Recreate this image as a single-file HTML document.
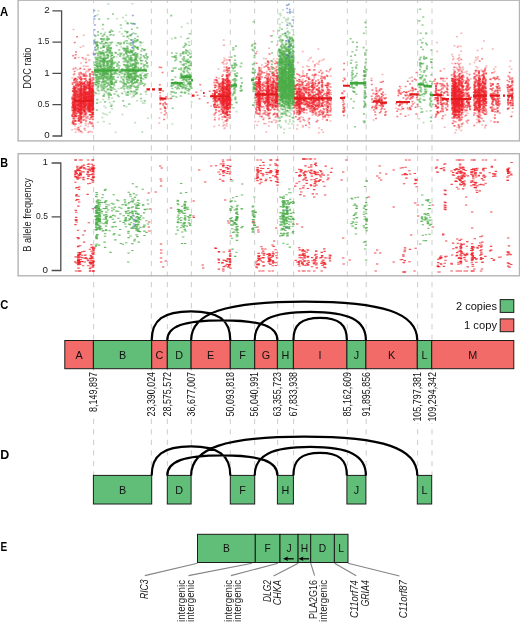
<!DOCTYPE html><html><head><meta charset="utf-8"><title>Figure</title><style>html,body{margin:0;padding:0;background:#fff}svg{display:block}text{font-family:"Liberation Sans",sans-serif}</style></head><body>
<svg width="520" height="622" viewBox="0 0 520 622">
<rect width="520" height="622" fill="#fff"/>
<path d="M93.6 -2.0V475.4M151.4 -2.0V475.4M167.4 -2.0V475.4M191.4 -2.0V475.4M230.3 -2.0V475.4M254.6 -2.0V475.4M277.6 -2.0V475.4M293.6 -2.0V475.4M347.4 -2.0V475.4M366.2 -2.0V475.4M417.6 -2.0V475.4M432.0 -2.0V475.4" stroke="#d2d2d2" stroke-width="1.1" stroke-dasharray="5.1 5.42" fill="none"/>
<g fill="#fff" stroke="#b4b4b4" stroke-width="1.4">
<rect x="18.1" y="0.2" width="501.4" height="140.7" fill="none"/>
<rect x="18.1" y="153.7" width="501.4" height="122.1" fill="none"/>
</g>
<g id="docpts">
<path d="M76.3 90.8h1.9M79.0 84.9h1.9M79.0 84.1h1.9M72.7 93.1h1.9M80.7 117.4h1.9M80.8 113.6h1.9M77.9 92.7h1.9M73.2 81.6h1.9M72.4 94.5h1.9M74.8 114.4h1.9M72.2 109.9h1.9M77.8 95.5h1.9M78.7 102.8h1.9M79.3 101.5h1.9M71.2 108.4h1.9M80.5 82.0h1.9M80.0 63.0h1.9M78.9 109.2h1.9M76.1 96.1h1.9M79.8 89.1h1.9M76.3 85.1h1.9M77.7 57.5h1.9M80.3 101.6h1.9M78.4 105.5h1.9M79.4 103.4h1.9M80.4 93.4h1.9M77.9 73.9h1.9M71.4 77.9h1.9M78.2 120.6h1.9M78.8 77.9h1.9M80.3 88.6h1.9M72.1 118.8h1.9M72.9 101.0h1.9M74.7 100.5h1.9M76.0 118.4h1.9M80.2 99.5h1.9M71.8 121.7h1.9M79.5 110.6h1.9M78.4 115.4h1.9M78.3 86.2h1.9M72.6 114.1h1.9M77.8 108.8h1.9M78.1 98.4h1.9M78.9 68.9h1.9M72.5 105.2h1.9M76.6 108.5h1.9M76.6 128.2h1.9M79.2 113.3h1.9M72.1 103.0h1.9M72.3 106.5h1.9M75.2 87.2h1.9M79.0 91.4h1.9M73.6 99.2h1.9M80.3 79.5h1.9M73.2 109.0h1.9M78.6 123.5h1.9M72.2 103.1h1.9M78.2 72.8h1.9M73.6 105.7h1.9M79.5 88.6h1.9M72.6 100.5h1.9M80.3 101.2h1.9M72.9 112.6h1.9M78.1 99.5h1.9M80.7 90.5h1.9M78.7 108.4h1.9M76.3 129.8h1.9M72.8 113.3h1.9M75.3 116.0h1.9M71.5 103.5h1.9M74.5 81.7h1.9M76.5 110.7h1.9M73.7 114.3h1.9M77.5 99.6h1.9M77.9 118.2h1.9M76.1 81.6h1.9M90.5 88.8h1.9M89.0 104.7h1.9M85.2 102.3h1.9M86.3 100.4h1.9M84.5 94.5h1.9M91.6 100.9h1.9M90.1 86.0h1.9M84.7 99.3h1.9M91.6 105.2h1.9M85.1 115.4h1.9M84.4 105.7h1.9M86.7 54.9h1.9M82.1 92.5h1.9M87.6 87.7h1.9M90.7 109.6h1.9M84.9 78.0h1.9M91.4 123.0h1.9M91.4 126.3h1.9M83.0 111.7h1.9M88.4 94.6h1.9M89.9 104.2h1.9M87.0 94.6h1.9M87.6 106.6h1.9M85.1 87.6h1.9M85.1 99.8h1.9M86.2 97.2h1.9M91.0 119.1h1.9M85.1 79.8h1.9M84.6 94.8h1.9M87.3 132.4h1.9M82.3 101.1h1.9M85.3 66.2h1.9M86.2 101.5h1.9M85.0 100.0h1.9M91.3 124.3h1.9M91.3 91.5h1.9M83.2 76.1h1.9M83.0 84.3h1.9M84.3 114.3h1.9M82.8 35.2h1.9M92.1 53.6h1.9M85.0 59.7h1.9M85.0 104.8h1.9M87.0 100.2h1.9M87.5 55.3h1.9M88.9 91.8h1.9M83.8 100.4h1.9M81.3 104.5h1.9M84.8 117.6h1.9M85.0 120.8h1.9M85.7 85.1h1.9M85.1 103.7h1.9M85.3 75.2h1.9M84.4 93.7h1.9M81.3 105.3h1.9M86.6 97.5h1.9M85.1 58.4h1.9M91.1 108.6h1.9M91.0 95.8h1.9M87.1 118.2h1.9M84.8 104.8h1.9M91.8 103.6h1.9M85.0 62.8h1.9M86.7 66.2h1.9M81.7 76.0h1.9M82.4 46.0h1.9M89.3 131.6h1.9M86.5 100.1h1.9M84.6 73.8h1.9M85.3 120.1h1.9M85.3 99.7h1.9M91.0 93.1h1.9M91.0 122.4h1.9M87.0 106.0h1.9M91.2 71.6h1.9M85.3 112.7h1.9M91.2 91.6h1.9M84.7 86.6h1.9M87.4 69.3h1.9M89.2 78.4h1.9M84.9 85.1h1.9M91.3 112.6h1.9M84.6 108.6h1.9M81.9 100.6h1.9M86.4 98.4h1.9M87.1 81.9h1.9M92.3 86.9h1.9M82.7 88.8h1.9M83.6 128.3h1.9M84.3 112.6h1.9M85.8 116.6h1.9M86.8 92.0h1.9M88.4 85.4h1.9M83.1 98.3h1.9M85.1 79.1h1.9M84.7 101.5h1.9M92.3 79.4h1.9M91.1 118.1h1.9M84.1 87.6h1.9M87.2 126.5h1.9M88.6 122.4h1.9M81.5 103.9h1.9M91.3 78.0h1.9M88.8 76.0h1.9M91.4 72.2h1.9M83.6 100.3h1.9M158.5 117.9h1.9M160.3 112.7h1.9M200.1 90.5h1.9M218.2 99.4h1.9M218.2 118.3h1.9M218.2 93.8h1.9M213.3 126.6h1.9M218.5 111.7h1.9M218.1 125.3h1.9M218.1 78.4h1.9M213.8 114.6h1.9M215.3 96.2h1.9M215.6 90.6h1.9M219.4 110.8h1.9M217.6 68.9h1.9M217.3 89.6h1.9M212.8 114.4h1.9M213.4 115.2h1.9M215.1 110.6h1.9M223.6 107.8h1.9M225.7 125.9h1.9M225.2 59.8h1.9M223.4 58.2h1.9M223.5 60.3h1.9M228.3 68.0h1.9M223.1 105.0h1.9M227.2 72.1h1.9M225.9 94.9h1.9M227.1 107.5h1.9M223.4 128.5h1.9M227.9 94.0h1.9M223.2 61.0h1.9M228.4 81.4h1.9M227.8 100.2h1.9M226.2 97.0h1.9M225.7 120.6h1.9M224.3 70.9h1.9M228.5 117.4h1.9M226.4 115.0h1.9M223.1 79.2h1.9M223.0 106.5h1.9M226.2 94.9h1.9M226.0 123.8h1.9M222.8 82.6h1.9M224.3 125.0h1.9M222.8 79.1h1.9M223.3 117.1h1.9M229.0 116.5h1.9M226.7 74.4h1.9M221.8 91.9h1.9M225.6 102.6h1.9M221.4 119.6h1.9M222.8 40.1h1.9M225.5 112.8h1.9M228.7 102.4h1.9M226.5 102.4h1.9M223.3 115.2h1.9M229.0 117.9h1.9M227.1 86.9h1.9M222.9 87.0h1.9M223.0 124.8h1.9M226.0 59.9h1.9M228.8 98.1h1.9M223.2 94.3h1.9M225.3 112.9h1.9M223.8 128.0h1.9M222.9 102.8h1.9M222.6 122.4h1.9M223.4 112.3h1.9M225.7 99.6h1.9M226.3 110.3h1.9M226.2 75.0h1.9M226.4 107.6h1.9M229.3 100.6h1.9M225.9 109.0h1.9M224.5 99.7h1.9M227.7 98.9h1.9M227.2 85.2h1.9M227.7 87.5h1.9M222.0 95.9h1.9M229.3 80.4h1.9M222.8 71.2h1.9M221.5 87.1h1.9M221.8 99.2h1.9M226.3 103.5h1.9M228.1 95.1h1.9M223.9 87.9h1.9M222.8 64.1h1.9M222.1 125.9h1.9M221.2 99.0h1.9M223.2 107.5h1.9M223.9 95.3h1.9M254.6 43.8h1.9M256.9 81.5h1.9M262.6 99.2h1.9M260.3 116.4h1.9M262.7 118.1h1.9M261.2 71.9h1.9M264.4 83.8h1.9M264.6 123.7h1.9M258.7 104.1h1.9M254.3 121.5h1.9M258.1 106.3h1.9M258.2 107.4h1.9M260.4 92.6h1.9M264.6 77.9h1.9M262.4 113.3h1.9M260.0 72.5h1.9M254.8 112.1h1.9M256.0 51.4h1.9M258.3 86.3h1.9M255.9 112.0h1.9M260.9 106.6h1.9M262.9 58.4h1.9M262.1 106.7h1.9M256.2 125.2h1.9M261.8 85.5h1.9M262.2 82.8h1.9M258.6 88.6h1.9M257.1 77.0h1.9M263.0 102.6h1.9M264.9 112.5h1.9M257.0 88.2h1.9M264.0 103.4h1.9M264.7 112.1h1.9M255.3 87.2h1.9M257.9 95.8h1.9M257.7 91.3h1.9M261.2 73.1h1.9M258.3 110.0h1.9M264.9 97.2h1.9M276.9 79.7h1.9M275.9 73.6h1.9M267.7 118.7h1.9M267.0 112.7h1.9M267.9 103.0h1.9M269.1 71.6h1.9M266.8 112.0h1.9M268.3 121.7h1.9M272.2 67.6h1.9M276.1 90.7h1.9M276.3 58.8h1.9M275.8 63.6h1.9M267.3 76.4h1.9M267.6 67.9h1.9M272.6 114.3h1.9M268.1 48.3h1.9M276.5 121.4h1.9M268.3 88.8h1.9M268.3 101.2h1.9M276.2 94.0h1.9M270.5 96.2h1.9M265.2 72.6h1.9M274.7 122.5h1.9M268.6 74.4h1.9M276.0 98.6h1.9M276.5 103.5h1.9M267.8 63.1h1.9M274.5 105.2h1.9M272.7 59.0h1.9M271.5 72.4h1.9M275.6 91.6h1.9M272.5 85.7h1.9M270.7 90.6h1.9M265.9 71.6h1.9M275.9 100.8h1.9M268.2 53.9h1.9M267.8 89.2h1.9M266.2 79.2h1.9M272.6 91.2h1.9M272.3 88.4h1.9M275.7 72.0h1.9M268.5 118.3h1.9M267.5 107.8h1.9M275.3 94.7h1.9M275.5 72.6h1.9M272.2 75.9h1.9M267.7 102.0h1.9M268.1 73.9h1.9M276.8 76.9h1.9M275.4 83.1h1.9M268.3 102.5h1.9M270.1 83.1h1.9M267.6 96.4h1.9M268.1 74.4h1.9M268.5 91.4h1.9M309.6 81.5h1.9M301.8 99.8h1.9M302.4 93.2h1.9M308.6 124.2h1.9M308.8 58.4h1.9M302.0 66.9h1.9M301.0 95.1h1.9M307.4 81.6h1.9M307.8 87.4h1.9M310.4 89.8h1.9M305.4 93.6h1.9M304.3 100.8h1.9M311.5 104.4h1.9M295.2 97.5h1.9M294.5 91.1h1.9M312.0 111.6h1.9M301.5 93.0h1.9M309.3 99.5h1.9M301.9 125.7h1.9M301.6 80.9h1.9M297.0 92.8h1.9M299.5 77.2h1.9M307.7 119.3h1.9M301.5 84.0h1.9M299.9 96.6h1.9M300.8 108.8h1.9M307.4 84.2h1.9M310.9 86.1h1.9M301.8 51.5h1.9M310.2 57.5h1.9M301.4 81.4h1.9M301.2 110.0h1.9M294.2 86.0h1.9M308.2 89.2h1.9M307.6 105.6h1.9M299.4 89.5h1.9M304.4 109.6h1.9M309.3 110.5h1.9M307.7 66.7h1.9M301.7 79.3h1.9M301.2 102.9h1.9M301.8 86.9h1.9M305.8 112.9h1.9M301.7 81.2h1.9M303.1 75.8h1.9M309.0 98.8h1.9M299.6 121.3h1.9M294.5 109.9h1.9M296.1 94.5h1.9M301.8 108.4h1.9M295.5 85.5h1.9M311.5 115.2h1.9M312.3 114.1h1.9M303.2 107.5h1.9M297.0 62.4h1.9M302.0 70.9h1.9M300.3 99.5h1.9M304.2 90.5h1.9M302.9 98.9h1.9M307.9 79.1h1.9M307.5 70.1h1.9M301.4 89.2h1.9M303.7 120.8h1.9M302.2 117.7h1.9M317.1 107.5h1.9M327.5 117.0h1.9M317.6 84.4h1.9M317.8 132.7h1.9M325.7 115.0h1.9M316.2 89.1h1.9M327.9 71.8h1.9M321.8 119.0h1.9M327.1 84.4h1.9M314.9 106.1h1.9M313.5 77.3h1.9M328.8 104.0h1.9M316.9 94.5h1.9M315.9 63.4h1.9M330.1 94.5h1.9M313.5 66.8h1.9M325.0 95.2h1.9M329.1 103.9h1.9M317.5 64.2h1.9M320.8 129.7h1.9M314.6 89.4h1.9M315.0 100.6h1.9M329.9 68.2h1.9M318.4 100.4h1.9M319.1 102.7h1.9M316.4 109.2h1.9M330.0 102.0h1.9M322.2 132.2h1.9M318.9 110.9h1.9M329.6 121.1h1.9M322.1 116.1h1.9M321.4 86.5h1.9M324.0 79.2h1.9M318.4 82.3h1.9M381.6 74.4h1.9M379.9 109.9h1.9M384.4 94.4h1.9M401.0 107.1h1.9M395.2 108.3h1.9M404.7 102.7h1.9M407.7 115.1h1.9M414.1 89.2h1.9M416.9 106.2h1.9M434.8 90.5h1.9M435.3 114.1h1.9M436.2 51.6h1.9M436.8 102.7h1.9M434.5 106.8h1.9M439.8 102.4h1.9M443.3 68.8h1.9M439.7 95.7h1.9M444.5 99.7h1.9M443.7 127.3h1.9M458.4 100.3h1.9M452.1 94.3h1.9M458.8 105.8h1.9M460.4 130.4h1.9M458.6 112.0h1.9M458.5 91.3h1.9M456.3 72.7h1.9M451.9 87.1h1.9M453.9 84.4h1.9M456.0 76.6h1.9M455.8 110.8h1.9M457.8 64.1h1.9M457.7 120.1h1.9M458.4 84.5h1.9M458.4 82.0h1.9M458.7 120.1h1.9M458.8 103.6h1.9M457.7 115.0h1.9M458.6 85.6h1.9M461.2 102.4h1.9M458.1 80.9h1.9M461.1 93.9h1.9M459.8 63.5h1.9M451.1 88.3h1.9M453.2 85.1h1.9M456.7 59.1h1.9M452.9 88.3h1.9M458.1 111.0h1.9M458.8 78.3h1.9M462.0 67.1h1.9M454.0 87.9h1.9M457.6 104.6h1.9M458.5 117.7h1.9M458.7 109.6h1.9M461.3 116.9h1.9M453.8 99.8h1.9M453.6 105.9h1.9M458.3 55.0h1.9M458.0 79.3h1.9M458.5 114.4h1.9M458.1 97.8h1.9M451.1 114.2h1.9M451.6 99.1h1.9M455.6 89.8h1.9M458.7 66.8h1.9M450.8 80.9h1.9M458.1 81.1h1.9M456.9 89.7h1.9M457.9 98.6h1.9M458.6 70.0h1.9M460.1 93.5h1.9M457.8 119.7h1.9M458.5 103.4h1.9M451.7 79.1h1.9M454.9 82.9h1.9M456.3 68.9h1.9M457.9 104.0h1.9M455.0 114.5h1.9M453.2 72.2h1.9M461.4 124.0h1.9M453.3 81.8h1.9M455.8 68.1h1.9M460.9 79.1h1.9M460.5 95.7h1.9M453.5 45.8h1.9M453.7 75.4h1.9M457.8 83.5h1.9M460.1 73.6h1.9M454.9 67.5h1.9M458.0 94.6h1.9M460.4 110.1h1.9M458.1 83.6h1.9M460.8 107.4h1.9M458.4 57.6h1.9M456.5 97.6h1.9M462.2 123.0h1.9M452.4 74.5h1.9M453.4 86.8h1.9M457.4 124.5h1.9M452.0 89.7h1.9M457.4 77.0h1.9M462.1 101.1h1.9M458.0 79.8h1.9M458.4 106.2h1.9M459.1 115.4h1.9M458.0 104.5h1.9M455.8 95.2h1.9M458.0 97.0h1.9M460.4 33.2h1.9M459.5 99.4h1.9M452.8 103.5h1.9M460.1 51.3h1.9M457.7 82.7h1.9M451.5 101.5h1.9M452.4 120.8h1.9M453.5 108.9h1.9M452.0 56.5h1.9M456.5 86.1h1.9M461.1 79.1h1.9M452.8 69.6h1.9M455.7 114.4h1.9M456.5 106.9h1.9M450.9 85.5h1.9M457.9 84.6h1.9M452.7 58.5h1.9M460.7 114.8h1.9M461.4 104.2h1.9M459.8 91.8h1.9M452.3 74.5h1.9M454.3 132.7h1.9M456.6 95.2h1.9M460.5 94.0h1.9M461.7 114.2h1.9M456.7 98.9h1.9M457.9 113.9h1.9M455.9 104.3h1.9M461.7 72.8h1.9M458.1 60.5h1.9M458.0 114.7h1.9M457.9 75.6h1.9M458.3 99.6h1.9M459.0 74.0h1.9M451.1 117.6h1.9M460.5 86.2h1.9M452.4 79.6h1.9M453.1 126.1h1.9M455.0 92.9h1.9M469.7 106.2h1.9M464.4 111.7h1.9M463.6 80.4h1.9M465.2 83.5h1.9M467.4 84.4h1.9M462.4 69.0h1.9M466.4 123.0h1.9M466.1 121.4h1.9M475.5 90.0h1.9M477.3 90.3h1.9M476.0 115.8h1.9M481.2 91.4h1.9M479.0 117.9h1.9M482.3 75.0h1.9M473.0 100.6h1.9M475.4 108.1h1.9M481.2 89.1h1.9M484.5 101.9h1.9M481.1 95.0h1.9M473.6 72.7h1.9M480.7 91.7h1.9M476.5 58.9h1.9M484.9 82.9h1.9M476.4 86.0h1.9M482.7 85.8h1.9M479.2 112.2h1.9M474.9 113.6h1.9M474.3 77.3h1.9M482.6 86.5h1.9M477.7 106.1h1.9M484.1 111.5h1.9M473.7 97.5h1.9M482.1 91.3h1.9M484.5 78.0h1.9M474.2 94.6h1.9M475.3 95.1h1.9M484.6 68.1h1.9M478.3 122.6h1.9M476.1 88.4h1.9M476.7 50.5h1.9M474.1 104.5h1.9M475.0 57.5h1.9M485.1 88.1h1.9M474.1 105.4h1.9M482.9 106.2h1.9M473.6 109.9h1.9M474.9 72.1h1.9M478.7 113.5h1.9M474.1 78.3h1.9M483.4 74.6h1.9M479.4 95.8h1.9M474.2 106.9h1.9M476.7 85.9h1.9M483.7 74.7h1.9M476.3 106.9h1.9M474.1 96.4h1.9M478.7 87.7h1.9M474.7 83.1h1.9M474.0 90.2h1.9M474.9 104.0h1.9M475.9 80.4h1.9M478.2 95.5h1.9M482.6 85.5h1.9M473.6 62.6h1.9M475.3 93.7h1.9M484.6 93.1h1.9M483.8 98.5h1.9M484.5 125.9h1.9M477.0 56.9h1.9M474.1 97.0h1.9M481.4 125.1h1.9M473.3 78.7h1.9M481.1 87.4h1.9M483.0 41.0h1.9M485.2 98.9h1.9M485.0 96.4h1.9M474.6 70.4h1.9M484.3 83.8h1.9M484.9 87.4h1.9M485.0 105.8h1.9M493.3 92.9h1.9M493.6 117.5h1.9M498.3 104.5h1.9M495.1 100.9h1.9M494.6 99.2h1.9M497.1 122.2h1.9M494.5 122.0h1.9M507.8 92.9h1.9M507.3 104.9h1.9M510.3 116.7h1.9M511.7 91.1h1.9M509.6 88.4h1.9M511.5 112.1h1.9M509.8 88.9h1.9M510.6 69.1h1.9M510.0 85.5h1.9M510.2 79.2h1.9M508.7 66.5h1.9" stroke="#ee1c24" stroke-width="1.5" stroke-opacity="0.33" fill="none"/>
<path d="M80.1 103.6h1.9M75.0 110.4h1.9M76.4 82.3h1.9M72.1 104.5h1.9M71.2 129.7h1.9M76.2 94.7h1.9M79.7 126.2h1.9M73.9 78.7h1.9M76.6 112.5h1.9M78.5 93.8h1.9M77.5 119.5h1.9M80.0 101.4h1.9M73.8 94.8h1.9M72.1 88.7h1.9M76.6 120.8h1.9M80.5 109.5h1.9M73.7 105.2h1.9M77.9 110.8h1.9M78.1 116.2h1.9M78.1 109.6h1.9M77.4 120.4h1.9M78.9 130.4h1.9M75.2 108.5h1.9M78.0 91.9h1.9M72.9 124.2h1.9M80.6 121.4h1.9M73.9 94.9h1.9M78.1 131.6h1.9M74.8 132.2h1.9M72.6 86.5h1.9M75.0 124.1h1.9M78.9 87.8h1.9M71.3 97.5h1.9M76.8 107.5h1.9M77.0 99.0h1.9M74.7 107.6h1.9M73.7 103.8h1.9M77.7 100.0h1.9M73.3 120.5h1.9M72.4 99.0h1.9M77.7 121.1h1.9M74.1 125.7h1.9M72.7 74.9h1.9M76.5 69.5h1.9M73.9 95.2h1.9M73.2 85.8h1.9M81.1 86.4h1.9M77.4 100.1h1.9M77.7 92.2h1.9M75.3 116.8h1.9M80.3 107.6h1.9M80.9 120.0h1.9M78.6 106.8h1.9M79.7 47.3h1.9M80.6 109.6h1.9M72.5 29.6h1.9M74.5 111.7h1.9M73.3 94.0h1.9M81.1 93.3h1.9M77.8 84.9h1.9M74.2 128.9h1.9M73.8 108.0h1.9M78.0 129.3h1.9M77.1 101.6h1.9M73.9 99.9h1.9M71.3 123.2h1.9M80.6 114.2h1.9M72.4 118.4h1.9M75.0 109.1h1.9M74.4 83.1h1.9M74.5 57.7h1.9M85.3 112.7h1.9M84.1 93.3h1.9M83.4 111.2h1.9M92.5 94.8h1.9M82.3 91.7h1.9M81.7 105.4h1.9M85.5 62.3h1.9M86.7 106.4h1.9M92.1 105.2h1.9M82.4 114.4h1.9M88.2 60.6h1.9M86.7 88.1h1.9M87.6 124.0h1.9M87.7 87.0h1.9M85.9 98.9h1.9M87.0 116.4h1.9M84.6 89.7h1.9M89.7 114.4h1.9M90.9 74.1h1.9M84.7 123.2h1.9M85.3 121.2h1.9M89.7 107.3h1.9M89.9 96.3h1.9M91.6 90.6h1.9M91.3 85.1h1.9M82.8 101.4h1.9M91.7 82.4h1.9M84.4 84.2h1.9M88.4 79.2h1.9M91.7 105.3h1.9M87.8 131.7h1.9M92.0 126.0h1.9M85.1 109.2h1.9M84.9 95.6h1.9M83.5 111.0h1.9M91.4 100.6h1.9M88.0 105.0h1.9M86.7 85.8h1.9M83.4 119.4h1.9M86.3 105.5h1.9M84.6 96.9h1.9M83.5 128.9h1.9M86.8 89.0h1.9M84.8 121.1h1.9M89.0 103.8h1.9M82.8 105.9h1.9M88.4 59.7h1.9M85.7 71.0h1.9M85.1 111.9h1.9M84.9 72.3h1.9M83.3 101.1h1.9M83.9 103.0h1.9M92.2 114.2h1.9M91.3 123.3h1.9M92.0 99.9h1.9M84.3 96.3h1.9M91.2 88.6h1.9M87.3 71.4h1.9M84.8 92.6h1.9M88.8 106.5h1.9M88.9 105.2h1.9M91.9 108.9h1.9M90.5 82.5h1.9M87.1 96.2h1.9M82.8 97.7h1.9M84.4 130.3h1.9M86.1 117.4h1.9M83.4 119.3h1.9M87.4 104.5h1.9M85.5 104.7h1.9M85.2 86.9h1.9M86.6 101.8h1.9M83.0 59.0h1.9M91.4 86.5h1.9M82.3 83.3h1.9M91.4 97.1h1.9M83.6 98.6h1.9M84.3 92.7h1.9M91.7 105.7h1.9M84.8 124.9h1.9M84.7 112.9h1.9M92.5 90.9h1.9M90.3 97.5h1.9M85.3 118.2h1.9M82.2 108.5h1.9M82.7 65.9h1.9M87.9 104.4h1.9M82.2 106.7h1.9M91.2 132.1h1.9M87.0 108.6h1.9M84.3 79.1h1.9M81.3 132.5h1.9M86.2 76.3h1.9M81.8 109.6h1.9M91.3 103.9h1.9M86.4 103.2h1.9M88.4 109.9h1.9M82.7 120.1h1.9M89.7 78.4h1.9M84.7 125.3h1.9M84.8 98.1h1.9M86.8 96.8h1.9M84.8 94.2h1.9M81.5 86.4h1.9M90.7 105.3h1.9M158.3 122.9h1.9M210.1 105.9h1.9M220.6 98.2h1.9M219.1 98.5h1.9M216.3 102.8h1.9M218.2 114.9h1.9M218.0 91.5h1.9M214.0 117.8h1.9M218.1 119.6h1.9M219.4 103.8h1.9M217.8 86.9h1.9M214.9 106.6h1.9M219.1 104.8h1.9M218.4 104.8h1.9M226.1 104.5h1.9M225.9 90.1h1.9M225.6 79.9h1.9M228.7 85.8h1.9M225.3 89.0h1.9M228.6 57.0h1.9M228.1 106.3h1.9M227.0 106.0h1.9M227.7 90.2h1.9M227.2 117.5h1.9M222.7 45.2h1.9M226.2 110.0h1.9M228.5 118.2h1.9M226.1 112.3h1.9M225.9 108.6h1.9M223.4 98.3h1.9M222.6 95.2h1.9M225.2 64.1h1.9M229.5 85.0h1.9M222.3 111.3h1.9M223.4 101.2h1.9M222.2 95.1h1.9M226.2 113.4h1.9M222.3 112.6h1.9M228.4 103.9h1.9M226.6 115.3h1.9M222.6 89.9h1.9M223.3 45.0h1.9M223.0 101.0h1.9M222.9 89.9h1.9M229.4 72.3h1.9M223.0 81.2h1.9M226.9 70.8h1.9M226.1 62.9h1.9M222.4 105.5h1.9M223.4 69.7h1.9M223.5 84.0h1.9M227.7 90.8h1.9M226.2 104.8h1.9M228.5 60.6h1.9M228.2 114.4h1.9M226.6 98.3h1.9M226.2 105.5h1.9M223.4 104.5h1.9M223.0 85.7h1.9M228.6 59.8h1.9M226.2 93.8h1.9M225.7 93.2h1.9M223.6 107.9h1.9M228.8 82.5h1.9M223.3 104.6h1.9M224.4 81.8h1.9M229.0 104.7h1.9M227.5 98.4h1.9M223.6 98.5h1.9M223.5 82.9h1.9M223.2 98.0h1.9M226.7 95.6h1.9M228.0 82.0h1.9M221.9 96.3h1.9M225.6 112.6h1.9M223.4 66.9h1.9M226.0 66.7h1.9M225.5 107.7h1.9M227.1 100.4h1.9M224.4 103.8h1.9M226.1 96.3h1.9M225.1 84.2h1.9M226.7 83.3h1.9M223.1 89.7h1.9M221.9 95.7h1.9M227.5 77.7h1.9M226.7 120.0h1.9M226.5 96.5h1.9M226.4 117.9h1.9M256.9 75.3h1.9M264.4 89.9h1.9M259.6 75.2h1.9M264.7 63.3h1.9M259.3 82.2h1.9M264.1 114.3h1.9M259.1 104.2h1.9M265.1 58.8h1.9M259.0 116.5h1.9M256.1 105.1h1.9M263.4 108.3h1.9M263.1 123.5h1.9M264.3 101.8h1.9M261.1 85.3h1.9M256.4 105.6h1.9M256.2 102.2h1.9M256.1 76.7h1.9M256.9 113.9h1.9M261.0 65.1h1.9M261.4 91.0h1.9M262.2 102.3h1.9M263.1 82.6h1.9M263.6 81.8h1.9M262.7 106.6h1.9M262.7 97.1h1.9M257.9 74.6h1.9M259.4 86.8h1.9M260.3 67.9h1.9M256.0 79.3h1.9M263.5 102.0h1.9M256.7 100.7h1.9M262.4 110.5h1.9M262.3 114.0h1.9M257.0 93.7h1.9M257.6 121.5h1.9M261.8 114.2h1.9M260.6 73.8h1.9M260.3 70.1h1.9M261.9 100.1h1.9M265.3 101.4h1.9M270.9 106.8h1.9M273.6 78.8h1.9M272.3 88.0h1.9M269.8 35.9h1.9M275.8 87.8h1.9M276.5 90.1h1.9M268.7 67.9h1.9M271.5 93.0h1.9M271.8 62.1h1.9M272.8 98.2h1.9M269.9 94.8h1.9M266.1 92.6h1.9M275.2 120.6h1.9M265.4 66.0h1.9M267.2 85.9h1.9M267.6 68.9h1.9M268.2 116.0h1.9M273.2 102.4h1.9M268.3 99.1h1.9M272.5 78.6h1.9M268.0 68.3h1.9M274.5 61.0h1.9M266.2 96.2h1.9M276.2 100.9h1.9M267.8 126.0h1.9M273.6 81.8h1.9M269.1 91.7h1.9M272.3 114.9h1.9M265.3 131.9h1.9M268.6 97.7h1.9M276.4 83.1h1.9M276.4 63.4h1.9M272.3 98.7h1.9M275.2 71.1h1.9M267.8 108.9h1.9M274.9 87.1h1.9M269.9 105.0h1.9M266.9 97.2h1.9M270.6 97.5h1.9M270.8 98.0h1.9M272.5 31.0h1.9M271.1 100.8h1.9M270.5 82.4h1.9M272.9 120.0h1.9M267.9 91.9h1.9M275.2 114.7h1.9M272.5 103.3h1.9M275.9 76.1h1.9M275.4 89.0h1.9M268.1 101.2h1.9M274.1 70.9h1.9M267.0 100.1h1.9M267.6 101.8h1.9M272.5 82.1h1.9M269.7 99.2h1.9M267.9 75.7h1.9M276.0 44.9h1.9M269.3 69.4h1.9M267.5 102.5h1.9M275.9 100.1h1.9M269.5 71.6h1.9M270.6 93.6h1.9M267.6 100.7h1.9M271.2 68.1h1.9M268.3 79.4h1.9M276.3 96.3h1.9M273.1 98.3h1.9M268.1 109.1h1.9M276.4 75.6h1.9M266.5 64.2h1.9M266.0 91.9h1.9M267.0 113.9h1.9M269.8 61.0h1.9M269.1 54.0h1.9M272.2 106.8h1.9M302.8 94.6h1.9M307.8 106.0h1.9M300.3 110.0h1.9M312.0 61.5h1.9M312.7 70.1h1.9M295.1 86.2h1.9M300.3 87.1h1.9M303.6 100.3h1.9M306.0 107.6h1.9M307.3 87.6h1.9M308.0 90.3h1.9M298.0 88.2h1.9M308.0 92.0h1.9M309.7 94.3h1.9M299.3 90.6h1.9M300.9 100.4h1.9M312.6 94.5h1.9M293.4 70.0h1.9M307.2 121.1h1.9M306.0 101.2h1.9M308.0 79.2h1.9M293.3 88.9h1.9M306.1 66.1h1.9M305.1 89.7h1.9M301.9 127.0h1.9M307.5 82.0h1.9M295.7 84.7h1.9M308.3 127.4h1.9M297.7 99.6h1.9M296.9 99.0h1.9M298.1 108.1h1.9M296.1 129.0h1.9M300.5 84.9h1.9M301.8 95.0h1.9M294.2 68.9h1.9M306.9 102.3h1.9M313.2 102.5h1.9M302.0 72.9h1.9M307.8 77.3h1.9M293.6 102.6h1.9M308.0 99.0h1.9M300.9 87.6h1.9M293.3 114.1h1.9M299.2 109.7h1.9M309.5 93.1h1.9M300.4 117.0h1.9M299.3 101.4h1.9M308.0 104.3h1.9M302.0 75.2h1.9M299.1 121.5h1.9M293.4 91.8h1.9M296.6 124.9h1.9M299.3 81.7h1.9M301.7 100.5h1.9M295.8 104.0h1.9M303.3 85.5h1.9M309.9 107.5h1.9M307.5 60.6h1.9M308.9 79.3h1.9M299.6 106.7h1.9M297.7 107.2h1.9M327.2 106.6h1.9M313.8 114.0h1.9M318.3 113.5h1.9M318.0 61.9h1.9M327.6 94.8h1.9M318.6 112.6h1.9M313.2 78.9h1.9M317.4 49.1h1.9M314.6 94.7h1.9M326.1 102.3h1.9M313.8 102.5h1.9M319.9 111.7h1.9M315.3 109.7h1.9M330.0 92.8h1.9M313.9 104.6h1.9M315.8 113.4h1.9M314.5 73.8h1.9M322.2 112.9h1.9M322.0 76.7h1.9M321.8 72.4h1.9M321.1 82.3h1.9M321.5 60.2h1.9M317.0 95.0h1.9M316.1 109.7h1.9M322.8 77.7h1.9M329.9 76.1h1.9M321.6 84.7h1.9M319.0 90.3h1.9M323.9 117.1h1.9M316.1 90.4h1.9M322.9 59.3h1.9M314.6 107.2h1.9M317.1 116.2h1.9M329.4 83.7h1.9M327.6 89.5h1.9M318.8 60.8h1.9M313.7 95.5h1.9M318.9 98.5h1.9M314.8 112.2h1.9M328.9 96.8h1.9M318.1 128.1h1.9M328.1 115.2h1.9M317.8 99.1h1.9M319.4 107.3h1.9M330.1 103.8h1.9M321.8 113.4h1.9M317.6 75.5h1.9M374.8 108.9h1.9M378.0 95.5h1.9M375.4 98.6h1.9M383.6 103.2h1.9M379.5 82.2h1.9M370.5 78.4h1.9M377.3 92.0h1.9M372.7 119.9h1.9M375.1 104.2h1.9M378.2 90.2h1.9M375.3 101.2h1.9M398.0 105.5h1.9M399.8 110.0h1.9M397.1 91.5h1.9M405.5 98.6h1.9M407.4 109.4h1.9M408.7 78.1h1.9M399.8 88.3h1.9M413.5 103.0h1.9M411.0 77.3h1.9M410.0 109.3h1.9M437.5 99.4h1.9M435.0 93.6h1.9M435.2 93.4h1.9M435.5 94.1h1.9M435.9 42.6h1.9M436.8 111.4h1.9M443.3 86.7h1.9M444.4 115.0h1.9M442.8 104.2h1.9M443.7 81.2h1.9M444.2 86.9h1.9M441.9 80.6h1.9M443.4 81.3h1.9M440.6 101.3h1.9M440.0 77.9h1.9M442.0 110.5h1.9M441.0 107.3h1.9M451.5 123.4h1.9M455.5 82.6h1.9M455.1 122.1h1.9M456.6 47.3h1.9M460.2 70.6h1.9M451.9 59.7h1.9M456.3 111.0h1.9M458.5 67.8h1.9M456.0 116.2h1.9M458.0 64.6h1.9M459.8 115.3h1.9M461.4 70.1h1.9M460.9 85.4h1.9M459.1 108.1h1.9M460.4 75.7h1.9M459.6 93.5h1.9M453.1 95.9h1.9M456.3 76.1h1.9M456.6 117.3h1.9M458.1 111.7h1.9M453.7 90.1h1.9M458.1 120.6h1.9M458.9 69.1h1.9M455.2 97.2h1.9M459.8 46.2h1.9M460.7 100.9h1.9M451.1 108.7h1.9M457.8 98.1h1.9M457.3 46.2h1.9M452.7 103.0h1.9M459.4 84.3h1.9M455.1 94.4h1.9M455.9 118.4h1.9M458.4 76.2h1.9M456.5 63.2h1.9M458.0 109.7h1.9M455.6 90.9h1.9M458.7 121.1h1.9M452.8 112.2h1.9M462.1 95.9h1.9M454.8 112.2h1.9M458.2 83.7h1.9M454.2 109.8h1.9M456.3 106.5h1.9M451.0 54.4h1.9M451.9 102.4h1.9M459.0 73.6h1.9M460.3 67.8h1.9M455.8 105.8h1.9M455.5 78.5h1.9M458.3 115.3h1.9M458.0 109.7h1.9M458.3 128.7h1.9M458.5 127.4h1.9M458.8 117.2h1.9M455.3 130.0h1.9M451.7 113.9h1.9M462.0 106.9h1.9M458.4 89.2h1.9M455.0 88.3h1.9M458.3 88.1h1.9M458.5 100.2h1.9M459.9 95.5h1.9M460.5 126.3h1.9M460.1 83.0h1.9M458.3 108.3h1.9M456.5 104.2h1.9M462.2 103.6h1.9M457.9 85.6h1.9M460.7 126.2h1.9M458.5 116.9h1.9M456.2 85.1h1.9M456.2 85.6h1.9M455.9 36.8h1.9M461.0 100.0h1.9M451.7 79.4h1.9M452.5 103.4h1.9M457.0 76.0h1.9M451.5 118.3h1.9M455.2 116.5h1.9M458.7 93.2h1.9M456.5 99.3h1.9M458.6 108.4h1.9M457.8 58.5h1.9M456.8 85.8h1.9M458.3 84.4h1.9M453.6 87.1h1.9M458.1 112.2h1.9M453.1 97.6h1.9M454.2 100.7h1.9M457.7 103.0h1.9M458.4 80.6h1.9M458.4 66.0h1.9M455.6 106.6h1.9M458.8 108.6h1.9M451.7 98.5h1.9M453.3 70.9h1.9M461.2 106.9h1.9M459.7 115.4h1.9M458.0 110.9h1.9M451.3 63.4h1.9M453.6 99.5h1.9M451.5 98.7h1.9M456.5 127.3h1.9M459.0 93.3h1.9M457.6 102.9h1.9M457.9 109.2h1.9M464.0 115.9h1.9M469.8 78.8h1.9M466.0 73.4h1.9M468.9 63.9h1.9M463.2 92.6h1.9M465.4 121.0h1.9M464.3 72.3h1.9M465.9 71.2h1.9M466.6 113.2h1.9M466.3 84.4h1.9M466.6 93.8h1.9M484.3 68.3h1.9M474.8 70.8h1.9M485.4 65.9h1.9M480.7 99.7h1.9M485.0 125.2h1.9M477.2 91.4h1.9M481.4 102.7h1.9M474.2 94.9h1.9M478.8 102.3h1.9M482.1 97.6h1.9M475.8 103.2h1.9M480.3 90.6h1.9M473.1 76.9h1.9M474.0 93.8h1.9M483.9 71.1h1.9M474.2 105.2h1.9M476.3 109.3h1.9M480.5 70.1h1.9M479.3 117.3h1.9M475.8 102.7h1.9M481.1 100.8h1.9M480.9 108.4h1.9M481.1 48.4h1.9M474.5 103.6h1.9M479.6 106.6h1.9M473.8 81.5h1.9M479.6 91.9h1.9M481.3 81.1h1.9M482.3 74.4h1.9M481.0 85.5h1.9M479.1 85.8h1.9M483.1 98.3h1.9M484.9 93.9h1.9M474.3 103.9h1.9M483.5 92.5h1.9M481.1 75.9h1.9M473.0 103.5h1.9M477.7 100.5h1.9M478.3 83.9h1.9M481.4 110.8h1.9M481.3 75.7h1.9M476.3 110.7h1.9M479.5 111.8h1.9M478.1 86.8h1.9M475.5 97.0h1.9M476.0 119.6h1.9M479.9 115.4h1.9M476.5 68.1h1.9M474.9 93.1h1.9M483.0 95.1h1.9M474.0 92.7h1.9M474.4 74.6h1.9M480.7 105.2h1.9M475.8 122.8h1.9M474.7 96.8h1.9M475.4 76.0h1.9M485.4 91.3h1.9M478.1 99.9h1.9M484.1 83.6h1.9M484.1 98.1h1.9M476.1 101.1h1.9M483.4 82.9h1.9M474.1 79.5h1.9M472.9 100.5h1.9M478.0 76.6h1.9M473.9 97.5h1.9M478.0 72.5h1.9M484.4 70.6h1.9M483.9 69.1h1.9M474.7 60.3h1.9M476.7 94.1h1.9M480.5 109.8h1.9M473.9 104.1h1.9M476.2 103.0h1.9M480.2 85.6h1.9M483.9 127.8h1.9M484.5 99.8h1.9M483.9 95.3h1.9M478.3 99.2h1.9M480.8 88.5h1.9M475.4 66.7h1.9M495.3 90.9h1.9M495.9 78.3h1.9M493.7 71.4h1.9M490.0 89.1h1.9M491.8 101.9h1.9M491.8 48.9h1.9M494.0 99.9h1.9M489.6 95.4h1.9M494.6 67.1h1.9M493.0 72.7h1.9M489.9 120.9h1.9M493.0 69.0h1.9M492.5 108.1h1.9M495.1 86.4h1.9M496.4 95.3h1.9M510.8 96.1h1.9M508.4 91.7h1.9M508.1 108.0h1.9M509.6 61.1h1.9M510.2 95.5h1.9M509.8 106.0h1.9" stroke="#ee1c24" stroke-width="1.5" stroke-opacity="0.33" fill="none"/>
<path d="M105.9 74.1h2.1M108.7 60.9h2.1M108.8 82.3h2.1M95.3 77.5h2.1M102.0 113.4h2.1M96.6 14.6h2.1M104.0 57.4h2.1M108.8 50.7h2.1M95.3 74.7h2.1M97.4 10.7h2.1M108.6 67.6h2.1M103.2 57.9h2.1M93.7 57.5h2.1M105.5 86.5h2.1M105.4 72.2h2.1M101.7 29.1h2.1M100.1 85.4h2.1M104.1 32.6h2.1M102.7 121.6h2.1M111.1 105.9h2.1M110.7 55.5h2.1M107.3 3.9h2.1M95.4 42.7h2.1M99.1 65.1h2.1M110.1 29.8h2.1M98.5 90.9h2.1M96.1 103.3h2.1M103.8 68.0h2.1M107.0 37.8h2.1M108.3 81.3h2.1M107.9 63.5h2.1M109.7 75.7h2.1M108.5 42.2h2.1M109.0 83.4h2.1M96.8 87.8h2.1M111.1 98.1h2.1M109.1 31.6h2.1M96.3 49.7h2.1M102.2 71.6h2.1M108.7 112.4h2.1M102.5 82.6h2.1M118.5 31.9h2.1M123.1 83.3h2.1M112.0 61.4h2.1M114.7 132.2h2.1M120.1 46.8h2.1M119.8 53.7h2.1M121.4 114.5h2.1M120.1 28.3h2.1M123.6 91.3h2.1M124.3 69.5h2.1M126.8 74.9h2.1M135.9 55.2h2.1M131.7 45.0h2.1M131.8 84.1h2.1M129.9 35.8h2.1M127.3 89.1h2.1M126.5 32.3h2.1M125.2 93.4h2.1M124.4 41.1h2.1M128.1 38.8h2.1M125.7 86.1h2.1M126.4 76.6h2.1M124.7 92.8h2.1M131.8 94.0h2.1M125.2 52.9h2.1M134.1 122.6h2.1M131.6 82.6h2.1M135.1 92.7h2.1M128.8 79.8h2.1M129.5 55.5h2.1M131.8 23.2h2.1M124.2 70.3h2.1M132.1 39.9h2.1M128.2 49.6h2.1M129.2 76.0h2.1M126.1 52.2h2.1M129.5 49.8h2.1M133.0 91.5h2.1M141.6 73.0h2.1M143.6 103.2h2.1M141.8 103.1h2.1M146.0 76.0h2.1M143.1 67.3h2.1M141.5 63.6h2.1M139.4 45.4h2.1M141.2 132.1h2.1M141.6 42.5h2.1M140.4 101.1h2.1M173.3 96.2h2.1M183.1 69.4h2.1M186.7 84.2h2.1M186.0 38.8h2.1M186.5 23.4h2.1M184.6 59.2h2.1M190.5 101.9h2.1M187.7 91.5h2.1M184.9 67.0h2.1M179.3 78.2h2.1M189.5 88.0h2.1M188.8 77.6h2.1M230.9 99.7h2.1M231.4 70.9h2.1M231.0 95.7h2.1M236.0 102.8h2.1M235.8 65.6h2.1M290.0 114.0h2.1M280.0 68.2h2.1M280.9 94.7h2.1M288.5 79.0h2.1M285.3 67.0h2.1M289.6 85.5h2.1M291.5 80.9h2.1M286.4 22.9h2.1M284.3 62.4h2.1M283.8 87.3h2.1M284.8 88.0h2.1M281.4 100.6h2.1M283.8 90.3h2.1M284.3 95.6h2.1M290.7 110.0h2.1M285.1 48.9h2.1M292.0 105.3h2.1M284.0 35.4h2.1M287.8 25.3h2.1M288.1 103.3h2.1M285.1 97.3h2.1M279.5 57.0h2.1M288.9 121.6h2.1M281.0 62.9h2.1M279.5 69.3h2.1M292.4 69.9h2.1M281.4 74.6h2.1M283.3 66.3h2.1M291.9 65.4h2.1M278.7 95.9h2.1M278.2 72.7h2.1M282.8 90.1h2.1M281.8 63.9h2.1M290.9 86.3h2.1M284.8 97.5h2.1M283.7 98.8h2.1M289.3 95.2h2.1M287.2 95.8h2.1M279.9 69.1h2.1M284.8 122.0h2.1M284.8 44.3h2.1M288.0 51.0h2.1M291.7 92.4h2.1M284.2 102.5h2.1M287.3 85.3h2.1M285.9 89.7h2.1M291.0 12.1h2.1M287.5 123.7h2.1M280.8 116.9h2.1M290.1 41.4h2.1M278.0 124.7h2.1M291.2 124.0h2.1M281.9 88.3h2.1M286.5 93.7h2.1M280.2 58.8h2.1M278.4 59.5h2.1M279.8 36.4h2.1M287.0 111.7h2.1M280.1 96.9h2.1M291.3 57.3h2.1M292.5 60.1h2.1M284.4 97.0h2.1M281.7 114.5h2.1M283.0 61.5h2.1M289.5 66.2h2.1M285.1 87.3h2.1M285.2 21.0h2.1M279.3 96.9h2.1M290.6 75.6h2.1M285.7 79.7h2.1M285.3 92.9h2.1M278.2 61.4h2.1M280.4 80.3h2.1M290.2 69.8h2.1M285.5 98.1h2.1M282.5 54.9h2.1M280.1 68.2h2.1M283.2 77.9h2.1M281.3 91.2h2.1M278.1 81.8h2.1M280.1 114.6h2.1M280.1 45.7h2.1M279.5 13.6h2.1M279.9 46.9h2.1M280.8 99.2h2.1M287.8 87.7h2.1M284.0 53.6h2.1M289.9 43.7h2.1M278.7 14.1h2.1M278.2 76.8h2.1M284.7 60.0h2.1M287.7 33.1h2.1M280.4 93.8h2.1M290.6 90.5h2.1M285.0 95.9h2.1M278.1 53.4h2.1M286.8 48.2h2.1M291.4 101.2h2.1M282.9 132.7h2.1M286.6 83.6h2.1M285.0 80.5h2.1M291.7 61.3h2.1M288.6 128.2h2.1M282.4 94.8h2.1M286.0 77.5h2.1M277.9 117.7h2.1M283.9 101.8h2.1M290.3 105.5h2.1M287.3 76.9h2.1M286.4 86.8h2.1M291.5 84.0h2.1M289.3 67.9h2.1M285.0 58.2h2.1M280.3 74.3h2.1M291.8 42.3h2.1M291.5 62.5h2.1M284.3 89.4h2.1M291.4 98.5h2.1M291.4 80.2h2.1M283.4 64.9h2.1M284.7 64.5h2.1M287.2 55.9h2.1M290.4 66.1h2.1M290.6 54.6h2.1M287.3 96.6h2.1M280.1 68.1h2.1M280.8 67.2h2.1M288.9 91.0h2.1M288.6 50.7h2.1M281.5 93.8h2.1M282.8 80.7h2.1M286.9 25.5h2.1M290.8 85.8h2.1M284.9 35.2h2.1M290.4 76.2h2.1M285.8 41.0h2.1M285.5 107.9h2.1M278.3 121.3h2.1M277.8 30.9h2.1M290.6 46.3h2.1M279.7 90.3h2.1M280.2 73.1h2.1M278.8 61.9h2.1M285.0 35.3h2.1M288.3 55.9h2.1M292.1 77.6h2.1M282.6 86.5h2.1M280.6 64.9h2.1M285.2 51.4h2.1M287.6 82.1h2.1M284.5 52.8h2.1M283.4 68.9h2.1M283.4 70.3h2.1M284.1 49.7h2.1M290.1 90.0h2.1M285.8 78.9h2.1M289.3 108.3h2.1M292.2 69.0h2.1M284.9 90.7h2.1M282.5 106.8h2.1M279.9 127.7h2.1M288.1 46.7h2.1M289.4 68.4h2.1M290.6 97.7h2.1M292.7 92.4h2.1M284.9 99.6h2.1M277.8 89.3h2.1M279.2 93.8h2.1M287.3 18.4h2.1M286.1 88.6h2.1M278.6 40.9h2.1M288.4 91.3h2.1M283.2 82.3h2.1M282.1 90.3h2.1M278.0 84.1h2.1M290.4 90.5h2.1M279.6 58.8h2.1M284.8 95.4h2.1M282.2 80.4h2.1M284.4 93.8h2.1M288.9 67.7h2.1M287.5 76.0h2.1M285.0 115.2h2.1M280.8 70.1h2.1M289.9 58.0h2.1M286.4 81.9h2.1M290.9 88.6h2.1M291.7 110.8h2.1M278.0 73.0h2.1M283.1 86.0h2.1M291.9 54.0h2.1M288.8 38.7h2.1M291.5 29.8h2.1M280.2 86.8h2.1M284.1 72.2h2.1M283.1 61.7h2.1M278.1 71.5h2.1M281.9 53.8h2.1M282.6 87.0h2.1M278.9 56.4h2.1M291.5 70.3h2.1M285.0 90.2h2.1M286.1 28.2h2.1M281.3 54.5h2.1M288.0 101.1h2.1M290.7 85.2h2.1M285.2 88.2h2.1M291.4 96.6h2.1M285.3 82.2h2.1M279.4 88.7h2.1M278.7 24.4h2.1M290.0 71.5h2.1M285.0 94.7h2.1M288.3 71.9h2.1M292.0 97.7h2.1M285.1 85.6h2.1M291.4 60.9h2.1M288.8 88.5h2.1M281.8 86.2h2.1M285.1 52.5h2.1M285.5 99.9h2.1M285.0 79.3h2.1M292.3 81.9h2.1M419.8 102.4h2.1M418.2 118.7h2.1M419.0 106.7h2.1M421.1 42.9h2.1M425.5 111.1h2.1M422.6 96.3h2.1M422.4 122.6h2.1M425.0 33.9h2.1" stroke="#47aa43" stroke-width="1.6" stroke-opacity="0.33" fill="none"/>
<path d="M102.0 99.5h2.1M95.6 88.6h2.1M110.5 62.6h2.1M103.5 85.1h2.1M96.0 80.0h2.1M110.2 43.9h2.1M103.9 43.8h2.1M108.7 35.3h2.1M93.8 62.4h2.1M104.8 107.8h2.1M106.6 88.5h2.1M104.1 114.0h2.1M98.5 68.4h2.1M104.7 87.7h2.1M96.4 88.6h2.1M110.5 104.2h2.1M97.8 93.6h2.1M110.4 84.7h2.1M103.3 106.3h2.1M107.8 46.0h2.1M106.5 92.6h2.1M106.4 93.7h2.1M104.1 39.2h2.1M96.8 122.2h2.1M107.6 99.4h2.1M103.1 61.8h2.1M111.0 108.8h2.1M93.8 39.3h2.1M103.6 40.5h2.1M104.8 66.4h2.1M100.4 88.7h2.1M103.8 34.5h2.1M103.1 40.1h2.1M101.2 38.9h2.1M101.3 117.5h2.1M105.9 114.8h2.1M95.9 46.0h2.1M95.7 85.9h2.1M99.5 102.0h2.1M109.1 76.0h2.1M100.8 86.7h2.1M108.5 85.1h2.1M100.4 53.2h2.1M108.6 123.7h2.1M108.8 102.5h2.1M107.4 38.7h2.1M94.6 69.0h2.1M107.3 44.3h2.1M104.4 57.6h2.1M110.2 30.9h2.1M120.9 33.8h2.1M120.2 71.2h2.1M113.5 85.9h2.1M121.9 17.6h2.1M124.0 48.4h2.1M115.6 57.0h2.1M117.6 88.7h2.1M118.8 71.7h2.1M115.9 18.7h2.1M136.8 57.7h2.1M132.2 41.6h2.1M128.0 52.7h2.1M131.4 3.8h2.1M129.2 90.9h2.1M131.1 97.0h2.1M125.1 15.2h2.1M129.0 94.0h2.1M132.0 65.4h2.1M129.6 62.4h2.1M125.6 61.3h2.1M124.5 74.1h2.1M136.6 40.9h2.1M128.9 58.4h2.1M132.7 79.0h2.1M136.0 47.8h2.1M132.6 50.5h2.1M136.1 82.2h2.1M125.4 106.6h2.1M135.9 100.7h2.1M126.9 92.2h2.1M124.4 71.8h2.1M128.1 43.6h2.1M124.6 21.0h2.1M136.9 83.4h2.1M128.5 44.4h2.1M133.1 92.4h2.1M131.7 64.2h2.1M128.3 74.1h2.1M145.2 94.3h2.1M146.8 118.3h2.1M140.6 83.7h2.1M137.7 82.9h2.1M171.3 124.0h2.1M169.9 94.2h2.1M178.4 86.2h2.1M170.3 91.7h2.1M170.8 38.6h2.1M189.3 84.0h2.1M187.3 66.1h2.1M180.9 88.7h2.1M180.9 58.8h2.1M188.0 76.6h2.1M179.9 36.9h2.1M186.5 82.3h2.1M179.6 61.7h2.1M180.2 74.1h2.1M180.4 64.2h2.1M184.7 88.5h2.1M188.7 50.0h2.1M186.1 70.2h2.1M188.0 41.9h2.1M180.7 26.9h2.1M181.2 80.2h2.1M235.5 111.6h2.1M232.8 83.5h2.1M231.1 65.4h2.1M291.7 75.9h2.1M281.7 81.7h2.1M288.9 85.2h2.1M285.4 100.7h2.1M288.9 76.3h2.1M278.0 85.2h2.1M290.7 63.7h2.1M278.0 117.3h2.1M278.9 118.7h2.1M283.4 82.0h2.1M285.8 71.2h2.1M287.3 72.1h2.1M280.1 117.1h2.1M282.4 70.5h2.1M285.8 57.5h2.1M281.5 98.1h2.1M291.8 82.8h2.1M285.8 64.2h2.1M283.3 129.2h2.1M282.3 75.1h2.1M281.2 71.5h2.1M285.0 19.4h2.1M285.9 92.3h2.1M292.1 108.0h2.1M287.2 90.9h2.1M292.1 120.5h2.1M278.6 50.1h2.1M281.1 105.8h2.1M290.1 54.9h2.1M291.8 100.9h2.1M285.0 61.8h2.1M278.3 30.3h2.1M280.6 85.9h2.1M278.1 18.7h2.1M285.1 59.2h2.1M287.2 34.8h2.1M289.2 82.0h2.1M286.0 38.1h2.1M278.1 85.3h2.1M280.9 59.5h2.1M278.5 91.0h2.1M288.9 67.2h2.1M280.1 85.9h2.1M285.3 78.1h2.1M292.4 35.1h2.1M281.1 67.2h2.1M289.6 61.1h2.1M286.7 57.7h2.1M286.6 100.4h2.1M284.5 80.0h2.1M289.9 100.4h2.1M290.9 53.2h2.1M280.1 74.9h2.1M278.1 111.8h2.1M279.1 126.3h2.1M288.6 32.6h2.1M292.2 74.0h2.1M277.8 67.2h2.1M285.6 42.5h2.1M285.4 55.3h2.1M281.6 47.9h2.1M285.3 60.6h2.1M285.4 61.4h2.1M281.9 76.4h2.1M279.2 75.6h2.1M291.5 69.9h2.1M280.2 86.3h2.1M282.0 10.0h2.1M286.4 73.3h2.1M278.2 84.8h2.1M283.3 92.4h2.1M286.0 74.9h2.1M281.7 77.4h2.1M287.6 55.0h2.1M277.8 89.1h2.1M283.8 33.7h2.1M281.7 44.0h2.1M287.3 90.8h2.1M285.0 75.5h2.1M278.4 110.9h2.1M286.6 91.3h2.1M283.6 67.8h2.1M281.5 64.1h2.1M288.8 80.9h2.1M284.8 35.7h2.1M280.3 93.9h2.1M288.5 68.0h2.1M285.4 65.5h2.1M288.6 112.4h2.1M288.1 46.6h2.1M278.0 68.0h2.1M291.9 49.7h2.1M287.3 75.8h2.1M285.0 55.7h2.1M280.4 55.9h2.1M283.9 104.7h2.1M289.4 93.6h2.1M280.1 126.7h2.1M285.1 82.9h2.1M290.1 107.8h2.1M279.7 78.9h2.1M284.9 48.2h2.1M280.0 63.1h2.1M278.5 99.0h2.1M280.2 41.0h2.1M288.1 64.2h2.1M281.9 86.7h2.1M284.7 57.8h2.1M284.6 81.2h2.1M288.1 86.1h2.1M283.0 83.6h2.1M286.5 43.9h2.1M292.4 17.0h2.1M282.7 47.3h2.1M290.9 117.4h2.1M281.2 109.8h2.1M287.2 53.5h2.1M280.3 92.1h2.1M284.4 107.6h2.1M292.4 56.3h2.1M283.7 83.1h2.1M288.6 119.8h2.1M286.4 88.0h2.1M280.5 99.6h2.1M278.7 40.7h2.1M280.5 100.2h2.1M284.5 61.4h2.1M292.2 41.2h2.1M289.5 70.1h2.1M284.8 71.2h2.1M282.1 78.6h2.1M285.0 48.1h2.1M285.7 91.9h2.1M285.2 95.1h2.1M292.6 121.9h2.1M277.8 62.9h2.1M284.5 43.0h2.1M285.5 63.3h2.1M282.6 101.8h2.1M291.4 93.0h2.1M278.5 95.9h2.1M289.6 105.9h2.1M286.7 66.1h2.1M278.6 103.7h2.1M285.1 113.8h2.1M281.3 47.1h2.1M285.6 104.7h2.1M291.7 26.5h2.1M292.8 83.0h2.1M278.0 83.2h2.1M289.5 94.9h2.1M280.0 72.2h2.1M286.9 19.6h2.1M279.0 35.7h2.1M288.2 61.1h2.1M285.4 104.5h2.1M279.9 89.1h2.1M292.6 97.3h2.1M283.3 69.1h2.1M280.0 96.4h2.1M278.8 88.2h2.1M281.8 88.9h2.1M287.2 5.2h2.1M285.7 88.7h2.1M285.7 32.2h2.1M291.9 41.2h2.1M278.5 93.4h2.1M285.7 50.2h2.1M286.1 76.6h2.1M281.3 81.7h2.1M282.5 86.2h2.1M285.3 74.7h2.1M278.8 62.8h2.1M280.1 68.2h2.1M292.3 96.5h2.1M278.5 90.5h2.1M284.7 120.6h2.1M288.8 82.0h2.1M278.5 61.0h2.1M287.9 69.6h2.1M282.2 69.8h2.1M286.6 103.2h2.1M281.2 22.5h2.1M289.6 24.4h2.1M280.4 71.8h2.1M281.2 97.4h2.1M278.5 79.6h2.1M290.4 69.9h2.1M278.6 89.0h2.1M282.4 87.0h2.1M284.9 62.0h2.1M281.8 89.4h2.1M280.3 113.0h2.1M281.1 73.3h2.1M288.8 110.2h2.1M285.9 94.8h2.1M279.7 15.7h2.1M283.2 84.0h2.1M285.0 112.4h2.1M291.3 94.8h2.1M282.9 17.6h2.1M284.7 89.2h2.1M278.9 27.6h2.1M278.6 71.3h2.1M289.6 66.8h2.1M291.3 80.1h2.1M289.7 100.8h2.1M284.4 106.2h2.1M284.4 97.5h2.1M282.0 102.7h2.1M279.4 82.6h2.1M292.4 40.2h2.1M285.1 57.8h2.1M287.4 78.2h2.1M280.0 52.9h2.1M425.3 89.6h2.1M420.5 89.5h2.1M418.8 58.6h2.1M420.3 89.2h2.1M422.2 38.3h2.1M422.8 70.9h2.1M418.9 64.7h2.1M419.3 95.3h2.1M419.7 62.5h2.1M420.3 71.9h2.1M420.2 91.8h2.1" stroke="#47aa43" stroke-width="1.6" stroke-opacity="0.33" fill="none"/>
<path d="M80.1 109.9h1.9M73.5 79.9h1.9M79.5 115.7h1.9M79.8 113.9h1.9M80.0 90.1h1.9M77.3 108.3h1.9M80.0 95.6h1.9M80.0 103.4h1.9M72.8 111.6h1.9M78.7 97.0h1.9M73.1 117.8h1.9M77.8 129.8h1.9M73.9 107.8h1.9M80.3 87.1h1.9M73.8 88.6h1.9M79.0 111.8h1.9M74.8 97.1h1.9M79.1 95.9h1.9M74.9 121.0h1.9M77.8 105.3h1.9M75.1 85.3h1.9M75.7 99.5h1.9M79.6 105.2h1.9M79.7 105.8h1.9M73.2 116.4h1.9M78.5 119.0h1.9M80.1 93.9h1.9M73.7 110.1h1.9M80.3 101.7h1.9M76.0 85.7h1.9M74.3 116.1h1.9M80.0 105.5h1.9M80.4 109.4h1.9M79.7 98.8h1.9M80.1 90.8h1.9M72.1 110.6h1.9M75.1 110.5h1.9M78.1 109.7h1.9M80.8 112.9h1.9M74.5 94.9h1.9M80.5 83.8h1.9M74.7 88.4h1.9M72.1 104.9h1.9M79.9 112.3h1.9M77.8 118.1h1.9M78.1 85.0h1.9M74.3 78.8h1.9M81.1 113.2h1.9M75.8 101.6h1.9M80.9 105.9h1.9M79.3 113.0h1.9M73.6 102.9h1.9M79.9 93.7h1.9M73.6 87.1h1.9M80.3 119.0h1.9M80.2 106.8h1.9M80.4 100.7h1.9M79.8 114.0h1.9M80.9 86.5h1.9M74.6 90.6h1.9M77.0 108.3h1.9M79.6 110.2h1.9M72.0 121.0h1.9M78.4 89.0h1.9M75.9 92.7h1.9M80.4 110.3h1.9M80.9 74.0h1.9M76.5 104.5h1.9M71.7 116.6h1.9M73.6 116.8h1.9M79.5 68.2h1.9M80.0 108.5h1.9M77.0 111.2h1.9M79.8 108.5h1.9M73.8 100.2h1.9M76.9 94.7h1.9M79.9 85.1h1.9M74.8 113.0h1.9M78.1 101.8h1.9M77.5 103.9h1.9M80.4 107.0h1.9M73.5 92.9h1.9M80.4 106.6h1.9M73.4 113.0h1.9M80.3 118.7h1.9M74.2 106.9h1.9M75.9 99.1h1.9M79.4 110.0h1.9M71.6 103.1h1.9M79.7 107.2h1.9M80.2 98.2h1.9M80.0 101.3h1.9M80.2 85.9h1.9M80.4 110.3h1.9M73.5 103.3h1.9M78.6 94.2h1.9M72.7 99.5h1.9M73.8 90.3h1.9M73.3 82.5h1.9M73.3 104.0h1.9M73.0 99.1h1.9M80.2 110.3h1.9M78.2 102.8h1.9M74.4 82.4h1.9M79.2 114.4h1.9M76.5 97.4h1.9M74.0 98.1h1.9M73.3 110.3h1.9M73.4 91.4h1.9M79.7 103.4h1.9M72.4 102.6h1.9M80.1 94.2h1.9M77.5 90.4h1.9M72.1 98.2h1.9M80.2 103.1h1.9M79.7 114.0h1.9M80.1 106.2h1.9M73.6 106.8h1.9M72.4 123.3h1.9M71.3 97.6h1.9M73.9 88.5h1.9M73.3 74.1h1.9M81.1 108.5h1.9M80.1 98.7h1.9M71.4 107.6h1.9M79.8 96.8h1.9M73.3 95.5h1.9M80.0 100.0h1.9M73.7 111.9h1.9M80.2 101.4h1.9M78.5 110.2h1.9M73.1 108.5h1.9M79.7 110.0h1.9M73.3 104.4h1.9M79.5 84.1h1.9M81.1 98.2h1.9M80.0 106.8h1.9M79.3 105.7h1.9M78.7 82.1h1.9M85.3 87.0h1.9M83.3 88.9h1.9M87.0 100.9h1.9M88.1 100.7h1.9M89.5 100.6h1.9M82.8 102.7h1.9M84.3 92.1h1.9M83.6 74.6h1.9M89.2 98.8h1.9M92.4 95.8h1.9M91.9 98.6h1.9M84.0 97.3h1.9M82.4 93.2h1.9M83.2 96.6h1.9M91.8 100.4h1.9M87.6 91.4h1.9M88.4 103.7h1.9M89.7 117.7h1.9M89.5 95.7h1.9M83.3 106.8h1.9M83.2 103.0h1.9M88.1 97.6h1.9M89.2 89.9h1.9M83.2 108.9h1.9M86.5 108.3h1.9M89.2 102.3h1.9M91.8 93.1h1.9M91.1 89.1h1.9M90.7 97.7h1.9M84.4 102.2h1.9M84.6 93.2h1.9M88.4 111.1h1.9M89.3 105.3h1.9M81.3 95.0h1.9M91.0 92.7h1.9M83.6 107.4h1.9M87.0 91.7h1.9M90.5 98.0h1.9M91.7 100.6h1.9M88.4 88.4h1.9M82.8 110.1h1.9M92.1 107.8h1.9M91.0 89.5h1.9M83.6 103.6h1.9M91.6 93.3h1.9M83.3 97.7h1.9M83.3 102.5h1.9M91.1 96.5h1.9M89.2 76.7h1.9M92.2 74.5h1.9M82.3 93.3h1.9M83.7 92.1h1.9M86.1 91.9h1.9M85.5 96.4h1.9M88.7 111.3h1.9M92.0 78.0h1.9M89.3 104.3h1.9M90.9 92.5h1.9M83.0 98.7h1.9M82.9 95.4h1.9M88.8 102.9h1.9M82.9 89.1h1.9M88.7 107.4h1.9M88.7 109.6h1.9M91.9 110.0h1.9M91.5 108.8h1.9M84.3 105.6h1.9M91.5 91.0h1.9M91.8 110.3h1.9M88.2 107.5h1.9M83.6 91.8h1.9M91.9 89.8h1.9M84.3 107.3h1.9M83.0 107.3h1.9M89.0 105.3h1.9M89.9 95.9h1.9M83.5 96.4h1.9M92.0 83.0h1.9M83.2 83.2h1.9M83.0 98.3h1.9M88.8 101.7h1.9M88.4 96.1h1.9M88.6 105.5h1.9M89.2 101.7h1.9M90.0 108.5h1.9M88.4 99.2h1.9M83.3 108.7h1.9M84.1 102.8h1.9M85.8 101.3h1.9M82.7 102.0h1.9M92.1 92.9h1.9M89.9 105.8h1.9M83.3 96.2h1.9M91.3 109.1h1.9M89.0 73.7h1.9M83.5 103.8h1.9M88.7 95.0h1.9M89.4 89.9h1.9M89.1 102.2h1.9M83.3 107.2h1.9M89.4 88.7h1.9M84.4 99.1h1.9M90.9 99.4h1.9M88.7 98.7h1.9M83.9 102.3h1.9M89.3 100.9h1.9M81.7 94.1h1.9M90.3 99.5h1.9M91.4 91.7h1.9M82.7 120.1h1.9M92.0 114.2h1.9M89.1 103.4h1.9M81.3 89.0h1.9M87.0 107.1h1.9M83.6 96.5h1.9M83.5 90.1h1.9M88.7 84.6h1.9M88.9 101.2h1.9M90.2 92.8h1.9M83.4 110.3h1.9M88.1 109.2h1.9M83.7 100.6h1.9M86.2 83.1h1.9M86.5 83.5h1.9M88.9 100.7h1.9M83.7 109.5h1.9M88.7 99.6h1.9M88.8 111.0h1.9M89.0 83.7h1.9M83.3 85.7h1.9M85.2 80.8h1.9M89.3 106.5h1.9M89.0 89.3h1.9M88.9 95.8h1.9M92.2 98.7h1.9M91.6 99.8h1.9M83.1 86.0h1.9M91.7 97.9h1.9M87.5 103.3h1.9M87.2 96.6h1.9M83.5 111.6h1.9M91.5 94.0h1.9M81.3 78.7h1.9M82.9 101.5h1.9M82.3 98.3h1.9M87.6 88.4h1.9M91.7 97.9h1.9M84.2 105.6h1.9M88.5 104.1h1.9M92.2 103.4h1.9M85.4 92.7h1.9M83.4 102.8h1.9M83.7 106.4h1.9M87.9 91.5h1.9M81.6 102.5h1.9M89.0 107.1h1.9M83.2 95.2h1.9M91.8 112.7h1.9M91.9 98.1h1.9M82.1 101.5h1.9M84.2 86.8h1.9M92.2 91.0h1.9M92.1 102.1h1.9M91.1 108.8h1.9M83.6 108.3h1.9M84.9 98.7h1.9M88.1 93.5h1.9M86.8 93.9h1.9M88.5 88.3h1.9M85.5 97.0h1.9M83.4 103.1h1.9M88.9 99.3h1.9M90.9 100.1h1.9M88.7 84.4h1.9M91.6 96.3h1.9M85.4 102.5h1.9M74.7 54.8h1.9M164.2 111.0h1.9M163.7 114.7h1.9M159.5 103.3h1.9M158.9 84.8h1.9M199.3 84.8h1.9M208.7 91.3h1.9M211.0 95.3h1.9M214.2 92.9h1.9M212.0 93.7h1.9M219.8 96.3h1.9M219.3 95.4h1.9M214.1 97.2h1.9M214.5 85.3h1.9M219.0 97.1h1.9M213.9 87.6h1.9M213.3 90.5h1.9M219.0 91.8h1.9M213.3 104.7h1.9M213.3 96.5h1.9M221.0 83.9h1.9M214.0 107.4h1.9M213.8 94.8h1.9M215.2 79.7h1.9M220.0 101.0h1.9M215.0 112.6h1.9M214.1 100.5h1.9M220.4 109.2h1.9M213.4 82.5h1.9M217.9 98.8h1.9M218.8 93.6h1.9M219.5 98.2h1.9M218.6 84.9h1.9M213.9 113.4h1.9M212.9 95.8h1.9M219.7 85.2h1.9M218.4 100.1h1.9M218.5 94.7h1.9M224.5 116.5h1.9M221.8 100.6h1.9M228.5 68.1h1.9M221.5 90.0h1.9M226.3 90.7h1.9M225.3 98.3h1.9M229.1 101.1h1.9M227.5 105.1h1.9M221.7 81.9h1.9M227.3 80.8h1.9M223.5 100.2h1.9M225.6 121.0h1.9M221.9 88.4h1.9M228.2 70.5h1.9M221.9 98.8h1.9M229.1 102.2h1.9M222.0 102.7h1.9M225.6 82.4h1.9M226.0 103.8h1.9M226.2 102.9h1.9M223.7 101.5h1.9M225.9 95.4h1.9M221.4 78.9h1.9M226.1 93.6h1.9M226.9 76.0h1.9M221.6 97.8h1.9M222.0 100.5h1.9M229.2 107.1h1.9M223.3 89.0h1.9M226.9 105.2h1.9M226.1 75.8h1.9M227.5 103.0h1.9M221.4 89.5h1.9M221.6 83.0h1.9M224.0 107.8h1.9M221.7 99.6h1.9M221.5 104.4h1.9M223.9 80.0h1.9M228.2 99.1h1.9M221.6 96.6h1.9M226.1 96.2h1.9M221.4 97.0h1.9M223.1 100.5h1.9M221.9 86.1h1.9M226.8 85.4h1.9M222.0 74.9h1.9M225.8 86.4h1.9M222.1 105.1h1.9M221.6 99.2h1.9M221.3 98.8h1.9M221.7 102.5h1.9M228.9 83.1h1.9M228.6 91.7h1.9M222.8 89.1h1.9M229.0 100.3h1.9M228.6 92.9h1.9M222.4 89.7h1.9M226.7 85.0h1.9M226.0 107.2h1.9M222.2 110.3h1.9M228.7 101.6h1.9M225.9 103.3h1.9M228.6 108.0h1.9M221.4 94.4h1.9M221.8 98.6h1.9M226.9 92.8h1.9M228.4 74.0h1.9M227.6 100.2h1.9M224.6 113.1h1.9M223.9 113.2h1.9M226.3 102.1h1.9M222.2 112.9h1.9M222.5 93.8h1.9M224.0 110.0h1.9M226.2 88.1h1.9M221.4 111.4h1.9M228.6 83.4h1.9M223.6 83.3h1.9M226.0 92.7h1.9M222.0 84.2h1.9M222.0 97.0h1.9M222.4 82.2h1.9M225.9 89.0h1.9M225.9 87.3h1.9M227.9 98.0h1.9M221.9 90.9h1.9M225.4 97.7h1.9M229.3 93.5h1.9M227.1 90.4h1.9M228.4 89.5h1.9M224.3 99.8h1.9M222.0 105.2h1.9M226.5 75.4h1.9M221.6 91.0h1.9M226.7 82.8h1.9M226.0 86.9h1.9M224.1 92.6h1.9M228.3 83.3h1.9M221.6 103.3h1.9M222.0 92.6h1.9M222.2 91.6h1.9M228.7 105.9h1.9M229.1 97.9h1.9M229.0 97.3h1.9M224.7 87.9h1.9M221.7 96.0h1.9M224.5 100.3h1.9M221.6 100.5h1.9M224.9 92.7h1.9M223.3 99.8h1.9M223.3 79.7h1.9M227.2 97.2h1.9M222.0 88.8h1.9M223.4 86.4h1.9M226.4 92.9h1.9M229.2 103.1h1.9M228.5 97.7h1.9M226.6 92.7h1.9M228.6 88.2h1.9M226.8 103.7h1.9M226.1 99.2h1.9M226.4 68.5h1.9M226.8 101.0h1.9M221.7 87.0h1.9M225.9 86.4h1.9M228.9 103.2h1.9M221.6 102.6h1.9M226.4 81.1h1.9M226.1 81.8h1.9M225.7 95.5h1.9M228.8 83.6h1.9M225.1 89.2h1.9M229.1 97.9h1.9M228.6 60.1h1.9M221.5 88.3h1.9M226.3 109.1h1.9M260.9 101.1h1.9M259.4 76.5h1.9M259.0 109.1h1.9M258.5 99.1h1.9M258.3 99.4h1.9M258.3 100.1h1.9M258.5 90.0h1.9M258.3 101.8h1.9M258.4 114.2h1.9M258.3 83.9h1.9M262.8 89.5h1.9M261.3 96.1h1.9M258.4 98.6h1.9M261.0 76.9h1.9M258.7 114.4h1.9M261.4 84.1h1.9M262.0 93.2h1.9M258.4 77.5h1.9M257.2 95.7h1.9M258.8 94.2h1.9M257.8 95.2h1.9M258.8 90.6h1.9M254.5 85.3h1.9M258.1 90.7h1.9M260.9 98.2h1.9M255.9 89.4h1.9M259.7 101.3h1.9M257.0 74.6h1.9M258.1 97.3h1.9M256.2 86.3h1.9M258.5 90.8h1.9M258.0 98.9h1.9M264.0 95.3h1.9M261.0 116.6h1.9M259.7 93.9h1.9M259.3 98.1h1.9M256.1 83.5h1.9M257.9 91.9h1.9M258.7 100.3h1.9M258.1 93.5h1.9M263.1 90.4h1.9M258.2 102.0h1.9M255.2 109.5h1.9M259.3 84.7h1.9M263.1 101.5h1.9M258.4 95.7h1.9M257.7 94.7h1.9M258.9 107.1h1.9M264.2 102.5h1.9M258.6 104.6h1.9M258.6 110.0h1.9M257.0 87.3h1.9M259.2 105.5h1.9M257.7 102.5h1.9M258.9 97.1h1.9M254.9 88.7h1.9M257.8 78.9h1.9M259.1 111.1h1.9M258.1 80.1h1.9M263.1 72.7h1.9M259.0 88.5h1.9M257.1 92.3h1.9M255.0 88.9h1.9M255.8 96.0h1.9M258.5 92.0h1.9M258.2 83.3h1.9M259.0 82.0h1.9M258.2 101.6h1.9M274.4 99.6h1.9M271.3 104.7h1.9M265.6 105.5h1.9M274.6 117.0h1.9M274.5 102.6h1.9M266.7 80.3h1.9M266.8 84.8h1.9M274.1 87.0h1.9M275.0 96.9h1.9M274.8 82.7h1.9M275.2 93.4h1.9M277.0 95.5h1.9M270.0 86.6h1.9M266.6 82.9h1.9M272.2 97.9h1.9M271.5 73.5h1.9M266.9 104.4h1.9M267.1 106.7h1.9M276.6 100.7h1.9M276.9 87.3h1.9M265.5 100.9h1.9M266.6 92.6h1.9M265.9 83.0h1.9M276.5 89.5h1.9M267.0 98.6h1.9M270.8 89.2h1.9M276.1 114.3h1.9M267.9 100.2h1.9M276.0 99.7h1.9M269.8 86.0h1.9M265.6 89.2h1.9M267.5 85.9h1.9M271.4 94.4h1.9M267.2 90.9h1.9M267.0 88.1h1.9M276.5 93.2h1.9M274.8 88.4h1.9M274.8 102.5h1.9M273.2 109.5h1.9M270.9 85.1h1.9M265.3 98.9h1.9M267.5 103.3h1.9M267.0 105.0h1.9M272.7 94.3h1.9M276.7 106.9h1.9M271.6 105.2h1.9M266.8 87.0h1.9M266.5 106.4h1.9M271.7 81.4h1.9M276.7 104.9h1.9M267.1 102.6h1.9M267.0 107.7h1.9M276.6 96.2h1.9M274.9 106.7h1.9M266.6 89.0h1.9M276.0 80.8h1.9M267.1 110.1h1.9M268.0 91.5h1.9M274.2 89.8h1.9M272.7 101.6h1.9M267.2 81.8h1.9M276.4 94.6h1.9M265.3 101.7h1.9M275.5 105.9h1.9M275.5 93.2h1.9M274.9 99.7h1.9M267.3 99.2h1.9M266.9 79.3h1.9M271.7 75.2h1.9M274.4 105.9h1.9M267.0 61.7h1.9M267.4 102.4h1.9M276.7 103.7h1.9M273.8 101.7h1.9M272.5 105.4h1.9M276.6 100.6h1.9M271.2 100.2h1.9M265.6 93.7h1.9M270.9 92.0h1.9M274.2 63.6h1.9M276.8 86.9h1.9M267.2 113.9h1.9M271.5 89.6h1.9M266.3 91.7h1.9M271.3 105.8h1.9M273.1 114.2h1.9M274.0 89.6h1.9M267.7 105.6h1.9M267.7 90.8h1.9M273.4 80.7h1.9M275.8 62.2h1.9M276.8 105.1h1.9M275.6 101.0h1.9M271.2 93.2h1.9M272.2 90.5h1.9M276.9 78.8h1.9M275.3 91.5h1.9M276.2 99.6h1.9M276.3 89.4h1.9M268.0 95.1h1.9M266.8 100.0h1.9M266.8 108.8h1.9M266.1 88.4h1.9M296.6 98.1h1.9M293.7 99.9h1.9M303.3 101.1h1.9M298.4 119.1h1.9M299.0 111.7h1.9M299.0 91.7h1.9M299.9 102.0h1.9M311.2 102.5h1.9M310.1 98.6h1.9M295.9 105.0h1.9M308.9 70.0h1.9M312.1 95.7h1.9M299.5 103.0h1.9M306.7 104.2h1.9M306.1 73.8h1.9M297.0 102.4h1.9M294.9 116.8h1.9M296.9 119.5h1.9M304.4 91.9h1.9M307.8 99.2h1.9M296.1 85.3h1.9M309.7 96.9h1.9M296.7 95.5h1.9M299.2 94.6h1.9M295.2 94.1h1.9M302.7 87.6h1.9M296.5 96.3h1.9M312.1 95.9h1.9M303.2 99.4h1.9M296.1 105.0h1.9M299.1 94.7h1.9M305.0 80.8h1.9M298.4 104.9h1.9M298.6 105.6h1.9M307.8 92.6h1.9M311.5 111.2h1.9M295.0 102.8h1.9M298.2 103.4h1.9M304.2 100.7h1.9M300.8 84.6h1.9M303.7 103.9h1.9M298.1 81.7h1.9M303.3 108.9h1.9M296.2 110.5h1.9M311.8 82.5h1.9M312.4 108.7h1.9M300.0 102.8h1.9M312.4 112.3h1.9M298.0 95.6h1.9M296.3 97.9h1.9M310.9 110.3h1.9M295.9 104.4h1.9M309.5 105.7h1.9M307.7 89.3h1.9M309.1 89.9h1.9M298.6 113.7h1.9M303.8 96.8h1.9M300.6 108.8h1.9M309.4 86.8h1.9M296.2 108.6h1.9M303.0 110.0h1.9M294.2 102.7h1.9M299.6 102.0h1.9M307.6 95.8h1.9M311.4 80.8h1.9M298.1 79.6h1.9M296.5 96.5h1.9M298.4 99.9h1.9M305.3 88.9h1.9M299.9 104.3h1.9M312.0 83.0h1.9M311.7 79.8h1.9M312.1 102.4h1.9M312.9 87.6h1.9M307.8 98.9h1.9M298.6 91.3h1.9M298.0 88.9h1.9M312.0 88.9h1.9M299.4 96.3h1.9M310.8 106.6h1.9M296.5 112.0h1.9M311.7 85.7h1.9M294.4 105.4h1.9M311.6 87.0h1.9M304.2 104.6h1.9M298.4 100.3h1.9M302.4 88.3h1.9M307.5 98.4h1.9M296.2 92.5h1.9M301.5 96.8h1.9M302.6 96.8h1.9M298.7 88.4h1.9M304.5 98.4h1.9M298.2 90.9h1.9M311.7 97.0h1.9M298.4 101.5h1.9M308.5 118.4h1.9M298.3 99.4h1.9M293.8 85.5h1.9M298.7 107.6h1.9M302.7 102.5h1.9M307.3 94.9h1.9M298.2 104.5h1.9M305.9 104.1h1.9M296.9 100.2h1.9M327.2 105.9h1.9M313.2 100.6h1.9M327.4 86.1h1.9M328.4 99.6h1.9M314.2 109.5h1.9M321.0 89.5h1.9M321.1 80.6h1.9M317.6 90.9h1.9M325.0 85.8h1.9M317.9 101.9h1.9M321.2 103.5h1.9M322.0 89.6h1.9M320.9 105.2h1.9M326.5 112.3h1.9M320.8 99.3h1.9M314.0 65.0h1.9M321.8 112.7h1.9M318.3 101.4h1.9M329.3 90.4h1.9M318.2 98.9h1.9M328.3 110.5h1.9M320.8 112.6h1.9M314.8 112.9h1.9M321.4 100.4h1.9M327.7 103.1h1.9M325.8 120.1h1.9M318.0 95.7h1.9M323.9 93.5h1.9M321.9 102.2h1.9M317.3 83.5h1.9M318.2 83.0h1.9M318.2 98.9h1.9M317.3 79.9h1.9M318.9 103.7h1.9M326.2 110.1h1.9M323.7 104.8h1.9M315.6 121.8h1.9M326.2 83.6h1.9M327.5 93.3h1.9M316.6 105.2h1.9M328.4 92.7h1.9M325.3 106.0h1.9M325.5 105.8h1.9M327.4 115.3h1.9M328.5 100.2h1.9M318.3 105.1h1.9M317.2 97.7h1.9M319.7 96.6h1.9M316.9 108.6h1.9M327.9 99.8h1.9M313.5 97.8h1.9M319.7 94.6h1.9M326.7 99.3h1.9M319.7 110.2h1.9M318.4 98.8h1.9M320.8 96.9h1.9M314.0 101.3h1.9M330.0 99.1h1.9M323.3 109.4h1.9M326.3 93.6h1.9M313.2 98.7h1.9M328.2 104.1h1.9M315.4 94.3h1.9M318.3 103.1h1.9M317.4 100.9h1.9M313.2 98.9h1.9M322.9 100.0h1.9M318.2 97.5h1.9M317.9 97.6h1.9M321.0 73.5h1.9M327.2 107.9h1.9M313.9 98.7h1.9M319.4 93.4h1.9M342.7 106.6h1.9M343.6 96.7h1.9M341.6 93.5h1.9M342.8 110.9h1.9M343.3 104.1h1.9M343.3 109.0h1.9M343.0 115.5h1.9M381.0 96.7h1.9M370.6 80.5h1.9M378.8 90.6h1.9M381.2 104.8h1.9M370.7 96.2h1.9M378.8 102.2h1.9M376.5 103.0h1.9M380.6 101.0h1.9M376.2 103.8h1.9M375.5 91.3h1.9M382.2 81.5h1.9M373.9 98.2h1.9M380.6 89.1h1.9M380.4 98.0h1.9M374.5 105.9h1.9M375.7 93.6h1.9M384.5 112.3h1.9M377.0 96.0h1.9M382.0 103.9h1.9M377.7 99.6h1.9M375.4 90.3h1.9M382.2 105.9h1.9M384.2 115.3h1.9M381.6 103.5h1.9M385.0 111.4h1.9M375.2 108.4h1.9M373.7 107.5h1.9M400.1 93.9h1.9M400.9 101.9h1.9M406.4 95.0h1.9M397.5 109.2h1.9M398.9 86.5h1.9M409.5 109.5h1.9M405.7 92.5h1.9M409.7 90.4h1.9M404.5 116.2h1.9M404.7 101.8h1.9M409.1 83.9h1.9M402.5 98.1h1.9M402.4 108.7h1.9M403.0 91.7h1.9M403.0 102.8h1.9M404.8 95.8h1.9M411.3 87.5h1.9M410.1 97.6h1.9M411.5 101.4h1.9M415.5 72.4h1.9M411.4 80.9h1.9M410.4 94.9h1.9M416.1 95.8h1.9M436.4 101.3h1.9M436.2 111.7h1.9M435.8 97.8h1.9M437.7 90.6h1.9M436.0 108.2h1.9M435.2 105.9h1.9M435.1 86.0h1.9M436.2 100.5h1.9M442.1 95.2h1.9M442.2 103.3h1.9M445.8 109.9h1.9M442.0 111.5h1.9M446.7 92.8h1.9M446.1 83.6h1.9M440.1 97.6h1.9M440.3 104.5h1.9M439.2 83.8h1.9M442.7 98.7h1.9M446.9 95.0h1.9M439.7 90.1h1.9M441.4 98.5h1.9M446.7 85.9h1.9M440.2 111.0h1.9M440.4 92.8h1.9M461.6 105.7h1.9M453.6 92.3h1.9M458.6 104.6h1.9M453.0 99.9h1.9M461.0 100.0h1.9M457.6 70.9h1.9M453.5 121.4h1.9M456.1 86.7h1.9M453.1 98.5h1.9M456.2 91.1h1.9M458.7 103.1h1.9M454.8 96.4h1.9M454.7 83.6h1.9M454.1 86.5h1.9M459.3 89.8h1.9M454.8 115.4h1.9M460.8 103.7h1.9M458.0 82.0h1.9M453.7 84.7h1.9M459.1 109.8h1.9M453.4 86.5h1.9M454.3 86.2h1.9M458.1 95.0h1.9M453.0 90.0h1.9M460.1 105.2h1.9M452.9 118.1h1.9M456.3 115.4h1.9M453.7 109.1h1.9M461.6 101.7h1.9M458.0 94.3h1.9M460.6 119.5h1.9M453.9 103.7h1.9M458.9 92.3h1.9M450.9 97.5h1.9M455.7 99.6h1.9M457.8 125.2h1.9M455.6 95.5h1.9M453.8 97.0h1.9M453.8 108.1h1.9M452.2 99.0h1.9M460.8 108.4h1.9M459.0 105.5h1.9M461.5 95.8h1.9M452.2 92.4h1.9M456.1 105.4h1.9M457.7 79.2h1.9M461.1 90.5h1.9M457.8 101.5h1.9M453.3 104.9h1.9M453.4 88.2h1.9M451.4 102.3h1.9M457.6 105.0h1.9M456.2 103.3h1.9M456.8 90.2h1.9M454.5 115.0h1.9M458.4 101.2h1.9M451.4 101.5h1.9M458.5 106.0h1.9M456.0 105.8h1.9M454.4 77.0h1.9M453.4 88.0h1.9M452.2 91.5h1.9M460.2 105.3h1.9M458.9 104.5h1.9M453.8 99.3h1.9M453.8 94.9h1.9M457.6 103.3h1.9M456.0 102.6h1.9M459.0 97.3h1.9M460.8 103.6h1.9M451.4 108.0h1.9M452.4 98.2h1.9M453.2 91.9h1.9M457.8 92.1h1.9M458.3 112.0h1.9M454.6 102.1h1.9M453.8 83.0h1.9M457.8 110.3h1.9M461.7 95.4h1.9M455.8 106.1h1.9M453.8 100.6h1.9M457.4 103.7h1.9M453.5 95.5h1.9M455.4 101.6h1.9M456.5 98.4h1.9M458.0 89.0h1.9M460.8 92.3h1.9M451.7 81.6h1.9M454.1 101.4h1.9M460.6 97.9h1.9M461.2 92.7h1.9M453.9 76.2h1.9M453.4 103.4h1.9M452.2 82.3h1.9M461.2 104.5h1.9M458.7 103.0h1.9M451.5 86.8h1.9M453.6 106.8h1.9M460.7 107.2h1.9M453.2 114.5h1.9M456.2 100.8h1.9M457.8 105.9h1.9M461.6 96.2h1.9M454.1 107.0h1.9M453.9 94.8h1.9M453.1 88.2h1.9M453.8 107.8h1.9M453.7 110.9h1.9M451.9 107.9h1.9M452.8 111.5h1.9M453.2 105.6h1.9M454.1 79.6h1.9M459.6 101.0h1.9M456.1 109.8h1.9M453.3 95.9h1.9M451.2 103.4h1.9M453.3 111.5h1.9M461.4 86.3h1.9M454.2 94.2h1.9M458.1 80.6h1.9M454.1 100.6h1.9M452.2 101.9h1.9M458.7 98.3h1.9M457.5 110.6h1.9M453.2 100.6h1.9M453.6 93.0h1.9M453.9 104.0h1.9M458.2 103.1h1.9M457.8 81.6h1.9M453.8 94.5h1.9M461.6 75.9h1.9M453.9 92.6h1.9M458.3 92.5h1.9M457.7 93.6h1.9M458.2 78.8h1.9M454.1 98.2h1.9M454.0 96.9h1.9M453.6 86.8h1.9M458.0 105.8h1.9M456.5 86.5h1.9M454.0 110.0h1.9M457.2 91.0h1.9M452.8 104.6h1.9M455.6 87.4h1.9M453.9 94.8h1.9M458.0 94.6h1.9M458.6 93.0h1.9M450.8 99.5h1.9M457.7 104.1h1.9M456.4 105.4h1.9M451.9 102.3h1.9M458.1 99.4h1.9M450.9 101.5h1.9M460.8 77.2h1.9M453.7 108.3h1.9M454.4 112.1h1.9M453.0 95.7h1.9M460.9 100.2h1.9M461.1 103.2h1.9M456.3 104.0h1.9M453.6 100.3h1.9M453.7 72.7h1.9M453.0 105.1h1.9M452.5 104.9h1.9M454.1 83.1h1.9M451.5 93.8h1.9M456.1 103.5h1.9M456.0 110.4h1.9M461.3 95.8h1.9M458.5 100.7h1.9M452.1 112.4h1.9M461.3 100.3h1.9M454.8 113.8h1.9M453.6 91.7h1.9M456.3 107.4h1.9M461.5 105.3h1.9M455.4 94.1h1.9M453.7 100.7h1.9M452.3 98.4h1.9M452.5 111.0h1.9M462.0 89.6h1.9M453.6 91.4h1.9M452.5 96.2h1.9M457.8 80.9h1.9M456.9 93.3h1.9M461.3 110.0h1.9M453.7 96.3h1.9M455.2 89.3h1.9M453.6 104.1h1.9M458.2 109.1h1.9M451.1 100.2h1.9M452.8 103.9h1.9M453.8 109.1h1.9M453.6 105.9h1.9M457.6 91.3h1.9M457.5 70.1h1.9M453.2 84.3h1.9M453.3 73.7h1.9M460.1 106.0h1.9M466.2 110.6h1.9M466.9 95.9h1.9M466.5 90.4h1.9M467.1 83.0h1.9M470.0 97.2h1.9M467.4 92.8h1.9M464.7 98.8h1.9M468.5 74.6h1.9M465.4 105.9h1.9M465.2 115.3h1.9M466.1 93.8h1.9M466.4 78.2h1.9M462.7 101.0h1.9M466.2 89.6h1.9M465.5 94.9h1.9M464.8 89.4h1.9M465.4 101.9h1.9M466.4 77.4h1.9M464.1 83.2h1.9M464.0 98.5h1.9M468.8 107.1h1.9M468.7 105.4h1.9M465.3 96.9h1.9M467.8 96.6h1.9M466.9 95.9h1.9M465.2 81.3h1.9M478.5 104.7h1.9M484.0 93.9h1.9M478.6 97.2h1.9M475.0 98.1h1.9M478.2 101.0h1.9M481.5 94.3h1.9M478.9 94.5h1.9M480.8 87.8h1.9M478.4 89.3h1.9M478.0 80.3h1.9M483.7 107.2h1.9M478.2 93.0h1.9M482.1 94.9h1.9M477.6 98.3h1.9M478.4 93.3h1.9M476.7 95.2h1.9M477.8 77.9h1.9M481.7 85.5h1.9M482.1 79.5h1.9M482.7 108.3h1.9M476.6 98.9h1.9M477.8 72.7h1.9M474.6 108.6h1.9M478.4 78.6h1.9M480.4 97.7h1.9M479.0 98.4h1.9M482.1 90.4h1.9M478.6 103.8h1.9M484.0 101.0h1.9M478.7 79.3h1.9M478.2 84.3h1.9M473.6 101.9h1.9M483.3 106.5h1.9M484.0 93.0h1.9M475.1 106.8h1.9M484.8 102.9h1.9M474.2 109.3h1.9M478.2 111.2h1.9M482.2 86.8h1.9M480.3 83.9h1.9M473.3 96.2h1.9M478.3 105.7h1.9M484.0 93.9h1.9M484.6 96.9h1.9M485.1 110.1h1.9M483.9 99.4h1.9M478.2 80.4h1.9M482.6 85.7h1.9M478.0 102.3h1.9M478.6 114.7h1.9M474.1 87.1h1.9M481.4 90.4h1.9M484.6 90.9h1.9M478.3 89.6h1.9M475.3 97.4h1.9M482.6 96.6h1.9M478.1 105.5h1.9M479.3 94.9h1.9M475.0 101.8h1.9M475.8 105.0h1.9M484.1 87.9h1.9M478.4 95.4h1.9M478.3 106.9h1.9M485.5 101.6h1.9M480.9 118.4h1.9M473.6 97.1h1.9M482.4 99.0h1.9M482.2 96.0h1.9M472.9 105.6h1.9M474.7 98.5h1.9M475.4 95.8h1.9M478.6 105.3h1.9M478.9 93.9h1.9M482.8 89.3h1.9M478.0 92.0h1.9M478.4 93.5h1.9M484.4 83.1h1.9M477.2 100.9h1.9M482.8 100.4h1.9M476.9 109.4h1.9M484.4 95.4h1.9M482.6 91.6h1.9M478.2 105.7h1.9M479.5 94.2h1.9M473.9 91.4h1.9M482.0 82.2h1.9M473.4 105.6h1.9M482.6 95.6h1.9M478.5 92.6h1.9M484.1 84.5h1.9M473.0 85.1h1.9M484.2 84.2h1.9M479.1 107.0h1.9M476.5 82.3h1.9M477.7 95.7h1.9M478.8 107.1h1.9M482.2 91.9h1.9M476.5 96.4h1.9M480.1 104.8h1.9M482.7 96.3h1.9M484.2 83.3h1.9M478.7 101.0h1.9M473.5 113.1h1.9M478.7 104.9h1.9M484.3 110.5h1.9M477.8 83.7h1.9M474.0 97.2h1.9M480.8 93.9h1.9M477.9 95.8h1.9M479.7 93.9h1.9M478.5 103.7h1.9M484.0 97.3h1.9M475.9 96.0h1.9M478.4 89.6h1.9M477.7 88.9h1.9M475.0 101.6h1.9M478.6 86.1h1.9M484.2 87.7h1.9M496.6 94.6h1.9M496.5 93.9h1.9M494.9 94.5h1.9M490.9 98.1h1.9M496.8 96.3h1.9M496.6 94.7h1.9M492.2 95.7h1.9M494.9 102.0h1.9M493.4 122.0h1.9M491.9 84.5h1.9M489.4 79.4h1.9M492.5 105.2h1.9M494.7 109.2h1.9M496.7 90.2h1.9M489.4 88.8h1.9M491.6 97.5h1.9M496.4 88.4h1.9M496.6 108.3h1.9M498.6 112.9h1.9M496.7 76.8h1.9M491.9 94.7h1.9M495.1 100.2h1.9M491.7 99.6h1.9M494.0 99.1h1.9M498.5 98.2h1.9M498.8 88.1h1.9M491.1 72.7h1.9M491.4 109.3h1.9M496.1 87.0h1.9M490.7 103.9h1.9M492.0 88.3h1.9M492.1 111.2h1.9M506.9 108.4h1.9M512.0 103.8h1.9M511.4 80.4h1.9M511.3 78.1h1.9M508.7 72.6h1.9M507.0 91.6h1.9M511.6 81.2h1.9M509.9 100.5h1.9M508.4 87.1h1.9M510.5 116.2h1.9M507.2 85.1h1.9M511.4 98.1h1.9M506.7 87.8h1.9M508.4 96.8h1.9M507.6 108.3h1.9M508.9 102.6h1.9M509.9 89.4h1.9M507.4 76.0h1.9M511.1 89.5h1.9M508.1 97.2h1.9M511.4 81.5h1.9M507.0 100.1h1.9M511.4 78.6h1.9" stroke="#ee1c24" stroke-width="1.5" stroke-opacity="0.58" fill="none"/>
<path d="M74.3 114.2h1.9M78.7 119.4h1.9M78.4 112.5h1.9M79.7 83.8h1.9M73.4 90.0h1.9M75.3 96.2h1.9M79.6 77.2h1.9M73.2 106.1h1.9M80.1 102.9h1.9M78.7 90.1h1.9M77.9 101.9h1.9M78.3 103.7h1.9M72.5 99.3h1.9M79.5 90.7h1.9M79.6 108.2h1.9M71.6 100.0h1.9M72.9 106.8h1.9M76.6 88.6h1.9M74.6 94.4h1.9M80.7 98.5h1.9M80.1 112.3h1.9M73.2 88.8h1.9M71.3 115.2h1.9M75.4 80.9h1.9M78.8 112.1h1.9M78.0 120.7h1.9M77.6 106.5h1.9M73.5 109.4h1.9M80.2 116.9h1.9M72.7 111.4h1.9M73.2 80.0h1.9M79.0 109.4h1.9M76.1 92.1h1.9M75.3 113.7h1.9M73.9 97.1h1.9M73.5 112.4h1.9M72.3 91.2h1.9M76.5 113.4h1.9M73.7 98.2h1.9M75.7 101.0h1.9M75.3 116.3h1.9M73.8 121.1h1.9M80.1 109.7h1.9M80.2 89.8h1.9M78.1 111.5h1.9M73.8 102.0h1.9M80.1 112.9h1.9M73.5 106.4h1.9M74.7 101.6h1.9M79.8 111.8h1.9M80.4 94.9h1.9M73.2 107.8h1.9M73.4 112.3h1.9M74.2 98.1h1.9M79.5 105.7h1.9M73.4 109.2h1.9M73.1 106.7h1.9M74.8 107.2h1.9M76.1 93.2h1.9M79.9 89.0h1.9M80.1 110.5h1.9M79.3 106.4h1.9M80.2 100.5h1.9M73.7 100.7h1.9M81.0 102.4h1.9M71.4 106.6h1.9M80.1 111.7h1.9M79.5 105.2h1.9M75.0 109.3h1.9M76.5 105.6h1.9M72.3 96.3h1.9M72.5 116.4h1.9M80.1 114.0h1.9M73.5 91.8h1.9M79.9 104.5h1.9M72.3 95.3h1.9M74.4 107.2h1.9M75.4 87.0h1.9M73.9 93.6h1.9M73.3 114.3h1.9M80.8 96.5h1.9M73.7 92.4h1.9M80.0 105.6h1.9M77.2 91.7h1.9M73.7 111.9h1.9M80.4 110.7h1.9M80.2 114.1h1.9M79.8 93.8h1.9M75.8 105.1h1.9M78.1 98.1h1.9M74.1 95.7h1.9M73.9 113.2h1.9M74.2 105.3h1.9M74.2 98.7h1.9M74.9 109.6h1.9M78.8 108.2h1.9M77.4 115.8h1.9M78.7 78.7h1.9M79.9 89.6h1.9M74.0 99.7h1.9M80.0 109.3h1.9M71.8 122.2h1.9M79.7 101.6h1.9M80.2 79.9h1.9M79.1 91.4h1.9M80.0 108.5h1.9M73.8 95.8h1.9M71.9 102.7h1.9M73.7 97.2h1.9M77.4 100.9h1.9M79.8 92.1h1.9M80.3 101.4h1.9M73.7 87.5h1.9M80.2 86.4h1.9M77.5 96.7h1.9M78.5 96.1h1.9M72.0 112.9h1.9M79.7 89.3h1.9M73.1 96.4h1.9M76.8 94.1h1.9M74.8 107.7h1.9M80.2 78.0h1.9M77.9 115.8h1.9M71.9 107.8h1.9M79.7 113.2h1.9M79.8 89.8h1.9M78.6 101.3h1.9M80.5 105.3h1.9M78.5 99.2h1.9M77.4 86.8h1.9M80.0 131.5h1.9M74.4 90.6h1.9M79.6 92.8h1.9M73.0 109.9h1.9M85.2 94.4h1.9M88.9 111.6h1.9M89.8 104.7h1.9M88.9 100.8h1.9M87.9 99.4h1.9M91.7 105.5h1.9M89.2 82.1h1.9M92.4 79.7h1.9M88.8 98.8h1.9M90.9 106.5h1.9M91.7 92.1h1.9M86.9 94.5h1.9M89.8 115.1h1.9M90.6 96.7h1.9M88.5 107.1h1.9M88.6 114.8h1.9M88.1 95.9h1.9M83.3 102.6h1.9M84.6 98.3h1.9M86.7 109.7h1.9M91.1 91.6h1.9M91.9 95.8h1.9M91.5 89.7h1.9M83.9 99.2h1.9M87.2 101.2h1.9M91.5 99.3h1.9M83.6 109.7h1.9M88.9 88.5h1.9M83.0 106.2h1.9M89.9 110.5h1.9M85.1 94.0h1.9M88.6 107.2h1.9M83.1 99.8h1.9M83.5 98.8h1.9M91.6 101.2h1.9M88.9 84.7h1.9M91.1 80.7h1.9M91.9 96.7h1.9M81.4 110.4h1.9M89.5 111.9h1.9M88.6 95.7h1.9M91.1 104.1h1.9M87.0 105.4h1.9M85.8 105.8h1.9M83.3 104.2h1.9M88.6 98.7h1.9M82.4 101.7h1.9M92.1 99.1h1.9M88.7 102.8h1.9M85.3 97.5h1.9M87.7 103.8h1.9M90.0 80.2h1.9M88.8 90.6h1.9M82.3 117.0h1.9M81.8 100.5h1.9M89.9 110.5h1.9M92.3 101.2h1.9M83.5 104.4h1.9M91.7 113.2h1.9M82.8 91.9h1.9M88.1 99.1h1.9M88.8 84.6h1.9M89.1 110.2h1.9M85.9 98.8h1.9M90.4 83.9h1.9M83.2 78.8h1.9M88.1 102.0h1.9M87.8 86.0h1.9M91.9 106.0h1.9M85.3 98.7h1.9M83.2 87.2h1.9M88.6 84.5h1.9M84.3 101.0h1.9M85.5 101.2h1.9M82.8 106.8h1.9M88.9 110.9h1.9M88.6 103.6h1.9M91.3 106.7h1.9M91.6 100.9h1.9M88.5 95.4h1.9M88.6 100.4h1.9M87.8 98.8h1.9M90.0 100.6h1.9M83.3 88.8h1.9M88.5 89.0h1.9M81.7 101.5h1.9M91.3 114.2h1.9M88.2 103.6h1.9M88.1 97.3h1.9M88.8 82.3h1.9M83.5 91.3h1.9M88.9 97.5h1.9M83.4 105.2h1.9M92.3 95.5h1.9M82.4 116.2h1.9M85.6 109.2h1.9M88.6 96.3h1.9M88.8 109.2h1.9M88.1 94.8h1.9M83.4 87.3h1.9M88.9 105.5h1.9M88.4 89.4h1.9M82.2 102.4h1.9M83.2 95.4h1.9M82.8 98.8h1.9M83.2 86.6h1.9M89.2 100.2h1.9M87.0 82.7h1.9M82.6 87.5h1.9M82.3 109.7h1.9M87.6 95.8h1.9M81.4 106.5h1.9M89.8 101.3h1.9M84.0 111.5h1.9M88.6 106.4h1.9M91.9 106.0h1.9M85.3 92.2h1.9M83.3 76.3h1.9M85.8 98.1h1.9M85.5 87.6h1.9M89.1 99.0h1.9M91.9 102.7h1.9M91.5 95.3h1.9M86.4 93.0h1.9M88.1 106.9h1.9M86.7 103.9h1.9M88.9 107.4h1.9M92.4 108.4h1.9M88.9 86.3h1.9M91.5 96.6h1.9M85.5 105.9h1.9M92.2 119.5h1.9M88.8 89.2h1.9M83.5 91.9h1.9M84.5 88.5h1.9M88.5 96.2h1.9M88.3 91.6h1.9M90.8 95.0h1.9M91.7 97.7h1.9M92.1 90.7h1.9M81.6 101.2h1.9M86.9 107.5h1.9M90.4 116.8h1.9M83.3 104.4h1.9M89.1 100.7h1.9M87.3 99.6h1.9M83.5 100.2h1.9M89.1 82.8h1.9M91.5 100.1h1.9M81.7 112.2h1.9M83.5 100.8h1.9M83.4 100.3h1.9M82.2 83.9h1.9M87.6 108.5h1.9M91.4 112.6h1.9M88.7 92.1h1.9M87.5 84.8h1.9M88.8 83.4h1.9M83.5 86.8h1.9M87.1 103.7h1.9M85.2 97.4h1.9M88.2 103.5h1.9M91.1 101.5h1.9M91.5 104.3h1.9M91.3 110.3h1.9M89.1 87.4h1.9M90.4 101.1h1.9M83.0 101.9h1.9M84.2 104.5h1.9M82.9 96.9h1.9M87.3 99.9h1.9M91.2 93.1h1.9M83.2 99.3h1.9M91.5 113.8h1.9M86.3 99.7h1.9M83.5 82.3h1.9M91.7 116.1h1.9M85.8 96.0h1.9M83.1 98.7h1.9M89.0 121.9h1.9M87.3 104.8h1.9M91.4 85.9h1.9M92.4 95.1h1.9M89.1 89.1h1.9M73.8 42.6h1.9M72.2 55.8h1.9M162.4 103.8h1.9M165.3 113.0h1.9M163.1 119.5h1.9M162.2 105.1h1.9M164.6 103.8h1.9M159.6 100.2h1.9M164.1 102.5h1.9M163.5 106.8h1.9M160.6 97.8h1.9M165.3 104.3h1.9M164.8 108.5h1.9M159.2 103.9h1.9M161.6 72.5h1.9M160.4 67.4h1.9M158.6 67.3h1.9M203.4 96.2h1.9M195.4 92.2h1.9M196.6 95.3h1.9M220.6 88.6h1.9M219.0 99.8h1.9M212.7 101.2h1.9M217.0 83.0h1.9M215.5 107.2h1.9M213.9 90.8h1.9M220.1 114.2h1.9M217.9 83.9h1.9M221.1 86.1h1.9M219.1 91.1h1.9M214.0 79.9h1.9M213.5 97.6h1.9M214.3 98.3h1.9M217.7 93.9h1.9M220.6 105.1h1.9M213.9 100.6h1.9M214.0 92.6h1.9M216.6 82.0h1.9M219.5 102.3h1.9M219.6 90.2h1.9M212.3 98.8h1.9M214.3 99.8h1.9M212.9 106.1h1.9M213.9 94.3h1.9M220.9 100.6h1.9M215.3 92.8h1.9M218.5 98.8h1.9M214.0 98.5h1.9M215.7 80.9h1.9M219.4 88.2h1.9M212.6 96.8h1.9M215.6 96.6h1.9M221.1 101.6h1.9M213.0 104.8h1.9M213.8 79.9h1.9M226.3 93.1h1.9M221.9 82.7h1.9M222.2 89.7h1.9M225.9 89.5h1.9M222.1 102.5h1.9M227.3 89.2h1.9M221.4 93.1h1.9M228.1 95.2h1.9M222.2 92.6h1.9M224.6 92.0h1.9M226.2 105.7h1.9M229.1 103.5h1.9M221.7 84.4h1.9M226.1 88.5h1.9M227.7 86.3h1.9M225.9 112.3h1.9M225.9 89.0h1.9M224.7 106.7h1.9M227.0 81.7h1.9M225.5 105.1h1.9M221.2 76.2h1.9M223.8 98.5h1.9M228.5 91.0h1.9M222.1 93.6h1.9M226.3 111.4h1.9M226.8 99.5h1.9M223.1 93.4h1.9M224.0 101.5h1.9M224.7 92.2h1.9M227.4 94.5h1.9M221.4 103.4h1.9M221.6 83.8h1.9M221.6 104.8h1.9M227.0 111.5h1.9M225.9 75.5h1.9M222.5 94.4h1.9M227.1 93.3h1.9M226.0 90.1h1.9M227.8 90.4h1.9M229.0 111.3h1.9M221.6 87.2h1.9M223.6 100.5h1.9M229.5 82.3h1.9M224.5 83.7h1.9M228.2 94.0h1.9M222.3 80.1h1.9M221.6 94.9h1.9M228.0 93.5h1.9M222.7 88.7h1.9M223.4 93.5h1.9M221.7 103.7h1.9M228.1 84.6h1.9M227.7 84.8h1.9M222.1 81.9h1.9M221.7 91.6h1.9M228.1 98.5h1.9M222.6 96.7h1.9M222.9 100.8h1.9M224.1 102.0h1.9M222.3 102.4h1.9M221.7 94.6h1.9M226.1 100.4h1.9M226.2 104.2h1.9M226.5 78.6h1.9M221.8 97.7h1.9M223.5 109.0h1.9M229.3 94.5h1.9M228.3 98.9h1.9M223.9 87.0h1.9M225.8 78.9h1.9M221.6 90.7h1.9M225.9 82.0h1.9M226.1 72.3h1.9M226.7 93.6h1.9M222.7 104.7h1.9M225.8 98.9h1.9M228.0 84.4h1.9M221.9 95.4h1.9M228.4 90.9h1.9M223.1 100.4h1.9M226.1 88.8h1.9M226.9 87.8h1.9M223.6 96.6h1.9M227.1 82.7h1.9M223.6 116.9h1.9M223.6 96.4h1.9M221.8 98.9h1.9M226.1 84.4h1.9M228.9 95.9h1.9M228.4 75.6h1.9M229.5 99.4h1.9M227.7 104.8h1.9M227.4 90.8h1.9M227.9 85.4h1.9M226.1 100.7h1.9M225.7 70.0h1.9M226.1 96.8h1.9M225.5 114.5h1.9M227.9 68.4h1.9M221.8 88.6h1.9M221.5 93.2h1.9M228.3 81.0h1.9M224.5 120.9h1.9M222.5 88.0h1.9M221.9 108.0h1.9M224.8 89.3h1.9M225.8 96.9h1.9M225.7 76.3h1.9M226.7 107.5h1.9M228.2 80.5h1.9M221.5 87.5h1.9M221.9 87.7h1.9M229.0 101.0h1.9M227.9 75.8h1.9M228.3 80.7h1.9M222.2 103.4h1.9M221.7 102.9h1.9M229.3 107.1h1.9M226.0 86.9h1.9M221.6 94.4h1.9M261.0 98.5h1.9M257.9 101.4h1.9M255.7 101.9h1.9M259.3 103.3h1.9M258.3 104.3h1.9M259.2 95.7h1.9M255.3 87.9h1.9M265.1 90.9h1.9M260.9 94.9h1.9M256.9 83.9h1.9M261.3 95.9h1.9M260.8 107.0h1.9M260.9 72.1h1.9M258.0 108.6h1.9M258.4 75.1h1.9M263.7 113.0h1.9M257.9 92.7h1.9M259.1 97.0h1.9M258.8 97.4h1.9M258.5 105.7h1.9M262.0 93.8h1.9M258.9 82.3h1.9M258.3 79.6h1.9M258.5 102.7h1.9M258.1 79.7h1.9M263.4 67.1h1.9M263.2 101.5h1.9M256.7 93.0h1.9M258.4 80.8h1.9M260.7 90.9h1.9M255.8 83.5h1.9M255.8 102.0h1.9M263.1 92.9h1.9M255.1 88.4h1.9M258.3 93.2h1.9M261.8 96.5h1.9M258.6 104.1h1.9M265.1 100.8h1.9M254.5 82.2h1.9M258.3 101.2h1.9M257.9 85.7h1.9M256.0 107.0h1.9M257.8 101.1h1.9M257.2 82.8h1.9M259.2 86.7h1.9M258.0 100.7h1.9M255.0 53.5h1.9M255.8 110.2h1.9M261.4 97.9h1.9M258.3 107.6h1.9M258.5 86.5h1.9M255.6 103.2h1.9M257.2 96.7h1.9M264.8 82.9h1.9M258.9 79.1h1.9M258.5 71.3h1.9M258.1 86.3h1.9M257.4 92.0h1.9M258.8 104.9h1.9M258.4 81.8h1.9M264.0 77.5h1.9M258.3 100.0h1.9M264.9 100.5h1.9M258.2 77.6h1.9M257.6 85.5h1.9M268.8 96.8h1.9M276.1 102.7h1.9M274.9 97.9h1.9M270.0 90.2h1.9M267.0 98.4h1.9M275.4 70.3h1.9M272.0 87.6h1.9M268.4 103.0h1.9M276.6 99.7h1.9M269.2 94.9h1.9M266.6 92.7h1.9M266.7 96.6h1.9M268.1 89.9h1.9M269.4 90.0h1.9M275.1 94.9h1.9M267.0 83.3h1.9M265.4 99.0h1.9M274.8 102.2h1.9M275.2 92.6h1.9M271.5 100.9h1.9M266.4 92.5h1.9M270.8 122.0h1.9M266.5 78.6h1.9M266.8 87.0h1.9M266.6 109.2h1.9M271.5 92.7h1.9M276.0 97.6h1.9M266.5 107.0h1.9M267.5 62.4h1.9M275.9 94.6h1.9M267.7 92.5h1.9M265.7 100.2h1.9M269.1 90.0h1.9M271.4 100.9h1.9M267.4 90.4h1.9M275.2 95.2h1.9M267.3 91.1h1.9M275.2 75.8h1.9M273.2 96.5h1.9M268.2 114.1h1.9M275.8 96.3h1.9M267.1 90.9h1.9M267.4 85.7h1.9M276.5 90.3h1.9M268.8 102.1h1.9M267.2 96.2h1.9M272.4 86.1h1.9M269.5 81.5h1.9M273.7 68.4h1.9M273.6 91.2h1.9M267.7 87.8h1.9M267.2 81.7h1.9M267.1 105.5h1.9M274.8 103.0h1.9M274.2 76.6h1.9M274.8 99.6h1.9M270.9 89.8h1.9M271.7 85.3h1.9M267.3 93.6h1.9M266.8 103.7h1.9M275.7 95.7h1.9M272.5 84.6h1.9M267.4 96.5h1.9M267.3 101.9h1.9M269.1 104.8h1.9M270.4 84.5h1.9M266.7 103.2h1.9M274.8 95.1h1.9M275.0 105.7h1.9M276.7 110.1h1.9M275.1 101.3h1.9M267.8 69.5h1.9M276.7 84.0h1.9M276.1 69.6h1.9M266.9 92.3h1.9M270.1 93.4h1.9M269.2 87.1h1.9M276.3 86.3h1.9M273.1 75.1h1.9M272.9 82.5h1.9M275.0 89.3h1.9M265.4 75.7h1.9M271.8 91.9h1.9M276.2 97.5h1.9M266.1 95.0h1.9M273.0 94.7h1.9M274.6 97.1h1.9M266.5 83.8h1.9M267.0 82.5h1.9M267.5 95.1h1.9M273.6 106.6h1.9M277.0 75.8h1.9M274.8 100.0h1.9M276.6 116.4h1.9M268.7 94.6h1.9M267.3 99.3h1.9M273.4 100.6h1.9M275.3 99.3h1.9M274.6 99.1h1.9M273.6 96.0h1.9M271.6 73.5h1.9M270.1 89.1h1.9M267.9 96.6h1.9M267.2 86.5h1.9M266.1 74.0h1.9M272.5 72.5h1.9M266.8 93.3h1.9M276.3 83.9h1.9M275.6 93.8h1.9M275.1 98.9h1.9M275.3 78.9h1.9M276.7 87.9h1.9M272.0 107.1h1.9M265.3 66.0h1.9M272.6 79.6h1.9M267.8 83.1h1.9M272.7 81.3h1.9M276.0 101.1h1.9M271.6 88.6h1.9M269.6 86.5h1.9M266.6 96.3h1.9M307.0 92.8h1.9M298.6 99.9h1.9M299.4 92.0h1.9M298.1 91.4h1.9M308.0 106.1h1.9M298.8 96.8h1.9M302.9 98.1h1.9M303.2 98.6h1.9M303.3 94.3h1.9M308.5 102.7h1.9M305.7 92.7h1.9M311.6 106.2h1.9M307.1 105.4h1.9M307.9 90.0h1.9M296.0 98.0h1.9M301.5 84.9h1.9M298.5 92.7h1.9M312.5 84.6h1.9M298.6 104.5h1.9M298.8 99.0h1.9M298.4 89.4h1.9M309.9 108.8h1.9M302.6 95.8h1.9M296.3 91.6h1.9M305.7 100.5h1.9M298.3 86.7h1.9M298.7 101.2h1.9M306.0 85.4h1.9M312.1 101.2h1.9M298.6 98.3h1.9M303.1 100.7h1.9M299.0 98.4h1.9M296.6 104.3h1.9M298.4 108.1h1.9M296.3 99.0h1.9M296.8 103.3h1.9M301.4 103.5h1.9M294.9 88.1h1.9M298.8 84.3h1.9M296.4 96.2h1.9M305.2 97.6h1.9M298.5 93.2h1.9M294.3 89.1h1.9M308.5 101.5h1.9M299.6 112.9h1.9M310.2 83.3h1.9M296.7 105.1h1.9M299.2 111.8h1.9M296.2 112.6h1.9M300.0 101.5h1.9M307.1 92.7h1.9M311.9 106.6h1.9M309.6 103.5h1.9M303.0 109.1h1.9M298.0 99.7h1.9M305.5 103.5h1.9M298.0 88.5h1.9M298.6 106.4h1.9M306.9 104.6h1.9M311.6 96.3h1.9M298.1 101.6h1.9M305.6 103.6h1.9M300.6 89.9h1.9M303.6 100.6h1.9M304.3 88.5h1.9M301.1 102.8h1.9M305.4 91.9h1.9M311.9 109.9h1.9M308.2 69.7h1.9M296.1 89.6h1.9M307.1 101.7h1.9M311.4 112.4h1.9M298.1 94.6h1.9M296.6 89.8h1.9M296.7 90.3h1.9M300.9 102.8h1.9M311.0 105.6h1.9M311.7 90.1h1.9M312.4 102.8h1.9M311.6 103.3h1.9M296.0 101.7h1.9M308.8 94.8h1.9M311.8 80.5h1.9M301.6 98.4h1.9M310.9 106.7h1.9M302.4 104.6h1.9M303.0 87.5h1.9M311.0 87.4h1.9M293.2 88.3h1.9M304.7 102.2h1.9M298.2 104.3h1.9M307.8 87.1h1.9M307.6 107.6h1.9M310.6 100.4h1.9M296.2 105.6h1.9M324.3 85.3h1.9M314.8 98.9h1.9M317.1 99.9h1.9M313.9 85.0h1.9M313.8 108.1h1.9M328.2 84.1h1.9M320.7 80.3h1.9M318.0 104.2h1.9M326.9 106.2h1.9M315.9 102.9h1.9M320.8 105.5h1.9M318.3 93.9h1.9M316.7 103.1h1.9M326.6 88.0h1.9M315.1 100.8h1.9M316.4 100.2h1.9M320.9 104.0h1.9M321.3 86.2h1.9M314.3 95.7h1.9M329.4 111.7h1.9M318.3 92.7h1.9M322.3 113.7h1.9M313.4 75.7h1.9M313.2 109.6h1.9M318.4 87.6h1.9M313.6 102.5h1.9M318.3 100.2h1.9M314.7 104.9h1.9M328.4 94.5h1.9M325.5 95.9h1.9M321.2 92.4h1.9M321.4 90.8h1.9M329.0 69.7h1.9M313.7 87.4h1.9M315.3 115.1h1.9M319.2 114.5h1.9M320.1 92.1h1.9M328.9 100.2h1.9M325.9 91.9h1.9M317.1 94.4h1.9M318.7 82.2h1.9M321.0 103.4h1.9M322.3 90.8h1.9M327.2 93.1h1.9M318.1 99.4h1.9M313.3 110.3h1.9M321.6 83.1h1.9M326.7 106.8h1.9M320.7 99.3h1.9M318.3 91.8h1.9M317.6 94.3h1.9M320.8 105.8h1.9M318.0 104.9h1.9M313.6 101.2h1.9M321.6 98.9h1.9M325.7 71.0h1.9M318.1 99.2h1.9M318.3 97.4h1.9M321.2 84.9h1.9M324.1 77.9h1.9M329.6 87.1h1.9M320.9 104.0h1.9M326.1 95.0h1.9M321.7 97.8h1.9M323.2 102.0h1.9M321.8 103.3h1.9M316.2 104.4h1.9M327.8 89.8h1.9M315.0 80.9h1.9M342.4 102.0h1.9M340.9 97.5h1.9M341.2 93.1h1.9M342.8 112.0h1.9M342.0 111.4h1.9M343.4 107.4h1.9M374.2 112.1h1.9M374.6 94.3h1.9M375.5 99.3h1.9M378.8 98.5h1.9M378.7 99.2h1.9M375.1 96.4h1.9M385.1 97.8h1.9M375.4 96.7h1.9M375.8 96.7h1.9M375.4 102.5h1.9M382.0 103.5h1.9M371.1 107.7h1.9M383.1 97.9h1.9M382.1 92.2h1.9M375.6 105.4h1.9M378.3 105.5h1.9M375.8 96.1h1.9M380.8 100.8h1.9M377.1 101.3h1.9M375.7 108.1h1.9M380.9 104.0h1.9M372.4 93.6h1.9M380.5 109.0h1.9M397.3 95.6h1.9M405.9 102.7h1.9M406.8 81.2h1.9M399.1 104.6h1.9M409.3 95.6h1.9M406.2 103.8h1.9M405.1 92.6h1.9M401.3 92.5h1.9M410.8 106.0h1.9M401.5 108.7h1.9M396.4 116.5h1.9M406.9 98.0h1.9M408.9 94.6h1.9M408.9 108.6h1.9M398.3 105.7h1.9M401.1 103.8h1.9M399.3 103.7h1.9M398.9 101.3h1.9M417.0 91.7h1.9M411.5 96.7h1.9M414.7 89.3h1.9M416.6 99.7h1.9M414.6 107.3h1.9M415.3 114.0h1.9M436.6 83.1h1.9M437.7 94.5h1.9M435.0 92.4h1.9M434.6 116.9h1.9M437.2 112.7h1.9M434.6 92.5h1.9M437.0 98.0h1.9M437.1 107.1h1.9M435.3 89.4h1.9M434.5 91.8h1.9M435.3 88.0h1.9M433.4 94.9h1.9M437.4 100.8h1.9M436.2 82.9h1.9M436.7 95.0h1.9M435.2 93.2h1.9M442.7 78.5h1.9M443.6 85.6h1.9M439.8 95.2h1.9M439.6 111.8h1.9M446.1 99.6h1.9M445.3 99.2h1.9M446.6 89.8h1.9M443.1 92.9h1.9M439.4 95.6h1.9M440.5 86.1h1.9M442.1 100.3h1.9M446.7 101.3h1.9M453.9 104.4h1.9M451.6 102.6h1.9M456.2 103.7h1.9M459.8 106.2h1.9M456.3 91.8h1.9M461.0 96.5h1.9M453.6 88.1h1.9M457.8 88.3h1.9M461.1 82.6h1.9M456.1 98.3h1.9M453.8 96.2h1.9M460.8 71.7h1.9M458.6 111.9h1.9M454.0 111.8h1.9M454.3 115.0h1.9M453.7 92.7h1.9M453.4 76.8h1.9M460.9 109.9h1.9M455.9 86.8h1.9M456.9 100.7h1.9M460.6 100.1h1.9M451.6 88.4h1.9M454.0 94.5h1.9M453.5 101.4h1.9M453.6 76.7h1.9M453.9 92.3h1.9M454.5 103.7h1.9M458.0 105.1h1.9M455.8 111.2h1.9M454.0 103.6h1.9M455.9 102.0h1.9M453.2 108.1h1.9M453.9 117.4h1.9M453.9 108.1h1.9M457.8 89.8h1.9M454.1 99.7h1.9M457.7 104.5h1.9M455.8 112.2h1.9M453.9 109.4h1.9M457.8 102.3h1.9M458.5 81.0h1.9M455.9 79.2h1.9M457.8 89.8h1.9M460.2 97.6h1.9M453.2 101.3h1.9M457.9 103.6h1.9M453.5 112.0h1.9M458.2 84.7h1.9M455.6 112.4h1.9M458.0 98.9h1.9M459.9 98.6h1.9M457.4 87.8h1.9M460.2 104.9h1.9M454.4 63.5h1.9M459.2 78.0h1.9M453.6 105.8h1.9M451.5 83.8h1.9M457.9 95.9h1.9M455.8 98.4h1.9M458.3 89.6h1.9M454.1 101.6h1.9M453.2 98.8h1.9M453.8 104.5h1.9M452.9 112.9h1.9M453.4 80.8h1.9M453.6 90.6h1.9M461.1 76.6h1.9M453.9 95.1h1.9M455.8 104.6h1.9M460.0 82.1h1.9M455.5 108.6h1.9M455.2 93.6h1.9M456.6 111.5h1.9M451.3 78.7h1.9M455.1 103.3h1.9M453.2 87.6h1.9M451.9 92.7h1.9M453.8 106.4h1.9M460.9 99.7h1.9M453.4 111.2h1.9M455.6 112.0h1.9M456.0 105.6h1.9M455.9 103.2h1.9M456.4 104.8h1.9M461.7 101.5h1.9M454.0 96.4h1.9M461.0 84.3h1.9M454.2 85.9h1.9M451.4 81.0h1.9M453.6 100.3h1.9M459.3 90.9h1.9M453.7 89.3h1.9M451.9 113.3h1.9M453.2 98.7h1.9M459.1 94.2h1.9M458.6 94.7h1.9M451.9 113.8h1.9M454.3 94.0h1.9M454.7 86.8h1.9M458.5 77.9h1.9M454.5 109.8h1.9M453.8 100.1h1.9M457.9 97.0h1.9M451.1 95.8h1.9M458.7 96.9h1.9M457.9 94.5h1.9M456.9 100.8h1.9M459.8 106.3h1.9M460.2 105.4h1.9M453.4 104.4h1.9M460.9 102.6h1.9M456.8 83.6h1.9M452.3 113.2h1.9M455.9 92.8h1.9M453.3 67.3h1.9M456.7 83.5h1.9M452.7 76.8h1.9M457.2 88.8h1.9M453.7 112.5h1.9M458.8 76.7h1.9M455.4 91.7h1.9M453.6 100.0h1.9M461.1 102.8h1.9M458.3 98.8h1.9M453.9 91.5h1.9M453.2 88.5h1.9M461.6 85.7h1.9M453.8 100.2h1.9M460.8 102.9h1.9M454.3 94.4h1.9M460.4 99.5h1.9M461.3 108.3h1.9M457.7 107.2h1.9M457.9 100.2h1.9M455.7 108.2h1.9M454.1 91.1h1.9M459.0 104.8h1.9M453.6 89.3h1.9M454.9 82.8h1.9M453.5 80.5h1.9M459.2 78.0h1.9M451.0 90.2h1.9M456.3 102.5h1.9M461.5 105.4h1.9M454.0 81.5h1.9M461.6 87.2h1.9M457.7 91.6h1.9M459.5 81.4h1.9M462.1 81.2h1.9M454.2 87.4h1.9M453.9 103.9h1.9M461.0 92.5h1.9M457.9 107.9h1.9M455.6 94.7h1.9M454.0 110.9h1.9M454.2 79.4h1.9M457.3 82.8h1.9M458.2 126.8h1.9M457.5 107.8h1.9M454.3 80.8h1.9M453.6 100.0h1.9M453.2 89.7h1.9M460.8 124.1h1.9M455.4 99.2h1.9M453.4 114.0h1.9M462.1 92.2h1.9M454.5 114.7h1.9M453.5 105.1h1.9M453.9 100.7h1.9M453.5 90.0h1.9M461.1 101.0h1.9M453.2 95.3h1.9M453.8 100.6h1.9M453.0 112.8h1.9M453.8 102.0h1.9M454.2 82.1h1.9M458.7 98.1h1.9M460.6 112.8h1.9M453.6 86.3h1.9M452.4 103.5h1.9M461.2 92.9h1.9M456.7 103.1h1.9M453.2 90.4h1.9M451.5 110.5h1.9M453.5 91.1h1.9M453.7 111.7h1.9M450.9 99.8h1.9M454.1 84.2h1.9M456.1 101.0h1.9M455.1 98.9h1.9M453.0 85.0h1.9M458.9 108.2h1.9M459.4 99.1h1.9M456.2 105.8h1.9M453.8 101.0h1.9M454.3 77.4h1.9M455.9 110.0h1.9M453.6 109.5h1.9M461.6 108.2h1.9M453.9 103.5h1.9M466.6 79.4h1.9M468.5 87.8h1.9M464.3 105.6h1.9M467.8 103.6h1.9M465.1 82.4h1.9M466.3 101.7h1.9M467.7 95.0h1.9M466.9 106.6h1.9M467.7 104.3h1.9M467.8 81.1h1.9M469.2 87.6h1.9M468.0 105.2h1.9M465.7 86.5h1.9M465.1 88.5h1.9M465.6 90.2h1.9M466.4 86.5h1.9M468.2 98.4h1.9M467.9 99.7h1.9M469.0 109.1h1.9M467.1 103.0h1.9M468.2 106.8h1.9M467.9 97.4h1.9M468.4 88.3h1.9M467.0 102.3h1.9M465.3 92.4h1.9M483.8 104.4h1.9M482.5 95.7h1.9M478.0 97.2h1.9M475.6 98.7h1.9M476.8 82.8h1.9M477.8 97.7h1.9M479.7 90.4h1.9M478.8 98.4h1.9M478.8 106.3h1.9M482.5 78.1h1.9M477.8 121.5h1.9M473.9 85.5h1.9M473.4 104.7h1.9M479.9 83.3h1.9M478.0 81.9h1.9M484.2 98.4h1.9M476.9 86.0h1.9M482.0 98.9h1.9M481.5 71.6h1.9M477.6 112.9h1.9M482.8 83.1h1.9M477.7 94.3h1.9M473.2 77.9h1.9M485.4 114.1h1.9M478.4 103.5h1.9M478.4 97.5h1.9M485.3 103.2h1.9M476.5 92.3h1.9M475.0 85.8h1.9M478.3 121.5h1.9M481.8 81.0h1.9M483.2 77.4h1.9M478.1 95.2h1.9M478.8 101.3h1.9M480.4 96.2h1.9M478.1 97.1h1.9M482.3 100.7h1.9M472.9 92.5h1.9M476.0 85.2h1.9M478.3 116.6h1.9M478.3 99.7h1.9M483.7 113.9h1.9M482.3 109.3h1.9M482.8 72.0h1.9M483.8 114.2h1.9M482.4 97.4h1.9M479.3 93.5h1.9M478.1 89.4h1.9M478.3 98.9h1.9M474.5 82.8h1.9M475.5 90.8h1.9M477.6 81.8h1.9M485.6 112.0h1.9M473.3 87.1h1.9M476.0 108.1h1.9M484.3 84.3h1.9M482.6 93.1h1.9M474.3 92.7h1.9M482.5 107.0h1.9M474.1 110.3h1.9M481.7 88.3h1.9M480.7 92.1h1.9M477.9 111.7h1.9M482.0 74.8h1.9M478.4 110.2h1.9M478.0 74.1h1.9M483.3 109.9h1.9M478.4 100.5h1.9M484.0 95.9h1.9M482.5 90.6h1.9M478.2 95.7h1.9M482.0 110.8h1.9M478.4 104.3h1.9M482.1 91.8h1.9M478.4 105.3h1.9M478.7 61.1h1.9M478.6 92.5h1.9M474.4 96.8h1.9M474.7 90.4h1.9M482.3 102.1h1.9M473.6 97.5h1.9M480.2 93.6h1.9M474.4 97.4h1.9M482.3 87.3h1.9M482.7 92.8h1.9M478.3 83.9h1.9M478.6 99.5h1.9M478.3 99.3h1.9M473.9 107.6h1.9M478.0 73.0h1.9M478.7 79.0h1.9M477.6 95.1h1.9M477.5 107.8h1.9M477.3 97.8h1.9M482.6 100.3h1.9M476.1 103.3h1.9M477.9 120.0h1.9M475.6 75.8h1.9M473.2 73.8h1.9M477.6 105.2h1.9M479.8 92.5h1.9M481.6 108.8h1.9M477.9 92.5h1.9M476.7 98.9h1.9M484.3 105.3h1.9M479.7 95.9h1.9M484.2 81.0h1.9M478.6 98.0h1.9M484.2 83.8h1.9M479.0 97.0h1.9M476.6 97.5h1.9M478.5 97.4h1.9M483.1 96.9h1.9M484.5 101.3h1.9M474.1 91.7h1.9M483.0 103.2h1.9M483.2 84.3h1.9M473.7 104.2h1.9M484.4 99.0h1.9M479.0 81.4h1.9M477.8 103.1h1.9M478.5 79.3h1.9M478.4 96.8h1.9M481.4 82.8h1.9M478.3 99.7h1.9M475.7 91.8h1.9M476.2 74.9h1.9M483.0 76.3h1.9M478.6 83.8h1.9M478.1 71.9h1.9M493.2 77.6h1.9M493.5 93.5h1.9M490.6 97.4h1.9M497.2 102.2h1.9M497.1 83.7h1.9M497.2 102.8h1.9M496.6 87.4h1.9M489.6 83.4h1.9M490.9 110.9h1.9M490.8 89.2h1.9M492.6 99.4h1.9M497.1 92.4h1.9M494.3 90.5h1.9M496.6 107.4h1.9M496.5 86.5h1.9M490.2 85.5h1.9M496.3 105.3h1.9M491.2 106.9h1.9M490.4 96.4h1.9M490.5 96.9h1.9M496.3 111.9h1.9M495.3 104.5h1.9M491.8 104.5h1.9M491.9 101.5h1.9M511.6 94.1h1.9M506.5 80.6h1.9M510.5 86.1h1.9M507.1 101.1h1.9M511.3 89.4h1.9M511.0 89.8h1.9M511.3 97.1h1.9M509.5 100.7h1.9M511.5 105.3h1.9M511.6 103.0h1.9M507.2 100.1h1.9M511.4 90.4h1.9M511.0 98.2h1.9M509.9 102.7h1.9M508.6 77.3h1.9M506.8 109.3h1.9M508.5 86.4h1.9" stroke="#ee1c24" stroke-width="1.5" stroke-opacity="0.58" fill="none"/>
<path d="M79.5 102.1h1.9M72.0 101.5h1.9M74.4 102.6h1.9M71.3 116.1h1.9M73.2 95.5h1.9M78.8 81.7h1.9M77.4 111.8h1.9M74.5 78.3h1.9M80.0 114.8h1.9M73.7 109.8h1.9M74.5 124.0h1.9M75.0 104.0h1.9M80.1 88.0h1.9M74.7 116.1h1.9M71.4 110.2h1.9M79.9 105.0h1.9M79.0 93.7h1.9M73.9 93.5h1.9M76.5 102.3h1.9M71.9 105.2h1.9M79.8 83.6h1.9M76.4 111.7h1.9M73.7 99.4h1.9M74.2 95.4h1.9M71.7 84.2h1.9M80.2 96.9h1.9M76.3 96.8h1.9M73.9 110.4h1.9M81.1 108.0h1.9M73.5 102.7h1.9M79.9 104.5h1.9M77.7 105.4h1.9M73.9 100.9h1.9M80.0 95.2h1.9M80.0 118.4h1.9M77.1 108.8h1.9M80.0 106.1h1.9M73.4 110.5h1.9M80.0 112.6h1.9M73.7 71.4h1.9M73.3 99.7h1.9M76.2 79.2h1.9M77.9 121.1h1.9M75.4 92.1h1.9M80.0 122.3h1.9M80.6 90.4h1.9M77.2 104.0h1.9M79.5 101.7h1.9M75.7 79.7h1.9M71.3 110.6h1.9M71.3 98.8h1.9M74.6 99.4h1.9M79.9 101.3h1.9M73.5 104.5h1.9M75.0 94.9h1.9M73.0 106.6h1.9M74.0 100.6h1.9M80.7 92.6h1.9M74.2 109.9h1.9M72.3 104.9h1.9M80.4 99.8h1.9M80.1 104.5h1.9M74.1 108.1h1.9M73.4 103.0h1.9M75.8 91.1h1.9M79.3 104.5h1.9M73.2 97.2h1.9M74.5 105.5h1.9M77.3 84.9h1.9M80.1 98.0h1.9M80.6 96.1h1.9M75.5 97.8h1.9M74.0 98.0h1.9M73.7 105.1h1.9M79.9 92.1h1.9M79.7 91.0h1.9M74.0 116.1h1.9M77.2 83.0h1.9M73.9 100.7h1.9M80.2 105.4h1.9M80.1 99.2h1.9M76.9 94.5h1.9M76.7 97.7h1.9M74.0 107.7h1.9M79.8 102.3h1.9M79.4 100.8h1.9M73.6 98.6h1.9M78.9 110.2h1.9M77.7 96.2h1.9M76.0 105.3h1.9M79.8 100.8h1.9M76.2 105.0h1.9M79.6 93.3h1.9M73.8 88.3h1.9M79.5 100.6h1.9M75.9 102.0h1.9M73.6 118.9h1.9M80.4 94.4h1.9M81.0 97.7h1.9M76.3 109.7h1.9M80.0 110.7h1.9M73.5 103.8h1.9M79.7 116.7h1.9M78.7 112.8h1.9M78.9 102.4h1.9M79.8 102.3h1.9M74.6 91.3h1.9M78.2 117.8h1.9M72.5 124.3h1.9M81.2 82.3h1.9M79.6 121.1h1.9M73.3 108.3h1.9M77.1 104.6h1.9M78.7 120.0h1.9M74.4 106.2h1.9M79.4 97.3h1.9M80.0 102.6h1.9M79.8 94.2h1.9M78.2 110.6h1.9M72.4 91.5h1.9M72.3 88.6h1.9M77.0 84.5h1.9M71.6 83.1h1.9M80.3 103.2h1.9M77.7 99.8h1.9M79.8 114.3h1.9M78.1 103.3h1.9M72.5 91.3h1.9M89.5 103.6h1.9M88.5 102.7h1.9M89.7 91.8h1.9M87.2 109.8h1.9M88.9 80.7h1.9M88.6 88.4h1.9M91.7 100.3h1.9M91.6 106.1h1.9M86.6 93.7h1.9M89.3 69.2h1.9M88.8 103.0h1.9M91.9 99.1h1.9M83.3 92.5h1.9M91.1 109.5h1.9M83.4 90.1h1.9M88.9 79.9h1.9M88.3 110.4h1.9M89.7 123.5h1.9M83.9 92.0h1.9M90.2 107.9h1.9M89.8 91.7h1.9M88.1 85.3h1.9M81.4 84.4h1.9M89.8 103.8h1.9M89.8 88.8h1.9M88.7 103.2h1.9M83.7 87.2h1.9M87.6 110.8h1.9M88.7 102.9h1.9M83.3 106.7h1.9M88.8 79.4h1.9M85.6 98.1h1.9M82.6 103.5h1.9M89.0 75.1h1.9M87.6 104.2h1.9M85.2 113.7h1.9M90.7 106.2h1.9M84.0 101.2h1.9M88.9 99.6h1.9M91.4 99.8h1.9M90.6 91.2h1.9M91.5 96.8h1.9M85.7 104.2h1.9M91.3 116.3h1.9M83.6 89.6h1.9M91.8 101.8h1.9M82.8 96.4h1.9M88.8 105.4h1.9M88.1 85.6h1.9M87.5 97.4h1.9M91.5 109.0h1.9M92.1 102.6h1.9M92.3 84.4h1.9M82.9 75.5h1.9M89.3 101.1h1.9M91.6 105.4h1.9M88.5 103.9h1.9M88.7 95.9h1.9M82.6 104.3h1.9M89.6 101.0h1.9M83.6 98.0h1.9M83.5 99.4h1.9M91.6 107.4h1.9M83.5 89.6h1.9M92.4 85.1h1.9M84.9 96.5h1.9M81.3 103.7h1.9M88.5 102.2h1.9M83.0 102.2h1.9M88.9 110.6h1.9M88.1 107.4h1.9M83.4 93.2h1.9M89.2 102.9h1.9M88.6 93.9h1.9M89.5 98.7h1.9M83.2 91.3h1.9M92.4 92.0h1.9M88.9 91.7h1.9M83.0 97.6h1.9M84.0 95.2h1.9M89.1 82.4h1.9M85.7 94.5h1.9M83.6 98.4h1.9M85.1 103.5h1.9M82.6 74.1h1.9M81.7 95.0h1.9M82.1 96.2h1.9M84.2 81.7h1.9M82.5 94.6h1.9M88.7 106.3h1.9M82.7 101.1h1.9M84.0 103.3h1.9M89.3 94.5h1.9M89.1 87.2h1.9M84.4 89.6h1.9M81.2 88.9h1.9M89.3 101.9h1.9M91.6 104.6h1.9M87.9 104.8h1.9M83.6 101.8h1.9M83.5 104.8h1.9M90.7 102.6h1.9M83.7 101.4h1.9M91.5 71.9h1.9M88.8 81.7h1.9M89.2 96.6h1.9M89.1 93.3h1.9M91.6 97.8h1.9M87.9 85.3h1.9M86.4 110.8h1.9M91.8 90.0h1.9M88.7 107.9h1.9M83.7 101.3h1.9M84.0 93.9h1.9M89.1 81.2h1.9M83.9 111.9h1.9M91.6 101.3h1.9M88.2 70.0h1.9M83.1 100.2h1.9M88.7 108.7h1.9M91.5 103.2h1.9M87.6 104.3h1.9M88.1 102.5h1.9M81.7 103.2h1.9M88.5 91.8h1.9M91.2 83.2h1.9M91.4 97.1h1.9M83.1 98.1h1.9M92.3 111.9h1.9M91.2 97.1h1.9M92.2 101.2h1.9M81.5 104.2h1.9M88.9 89.2h1.9M91.7 103.3h1.9M84.0 114.0h1.9M83.2 101.9h1.9M91.9 112.4h1.9M88.8 97.2h1.9M88.8 79.4h1.9M88.7 83.2h1.9M89.4 98.8h1.9M89.0 90.5h1.9M85.2 104.9h1.9M82.4 98.2h1.9M88.9 74.5h1.9M84.9 75.9h1.9M91.7 109.5h1.9M88.1 108.3h1.9M91.8 107.4h1.9M91.5 100.9h1.9M89.3 93.8h1.9M89.2 108.0h1.9M85.0 98.7h1.9M91.0 95.5h1.9M83.2 103.8h1.9M91.5 103.3h1.9M88.6 90.4h1.9M89.3 93.6h1.9M88.2 99.2h1.9M82.0 91.1h1.9M91.0 101.8h1.9M91.4 93.6h1.9M87.6 110.5h1.9M88.8 100.1h1.9M88.9 97.9h1.9M91.9 100.1h1.9M83.5 104.6h1.9M88.9 96.1h1.9M88.8 109.5h1.9M90.8 109.1h1.9M88.5 101.4h1.9M87.5 108.6h1.9M89.0 109.1h1.9M91.5 112.1h1.9M84.1 101.8h1.9M89.2 104.7h1.9M84.4 88.6h1.9M83.5 114.0h1.9M81.8 107.1h1.9M84.3 92.4h1.9M91.6 98.8h1.9M89.3 111.5h1.9M88.0 98.1h1.9M90.2 109.2h1.9M92.0 96.6h1.9M91.8 98.0h1.9M91.3 104.7h1.9M83.8 106.9h1.9M86.2 98.6h1.9M88.8 110.1h1.9M87.8 92.9h1.9M83.4 111.0h1.9M86.7 92.6h1.9M86.0 99.7h1.9M89.0 102.8h1.9M84.0 86.7h1.9M91.3 88.6h1.9M76.1 36.8h1.9M74.6 67.9h1.9M72.5 68.9h1.9M163.9 108.2h1.9M165.3 96.8h1.9M159.1 92.7h1.9M159.3 96.0h1.9M161.9 99.9h1.9M159.6 108.9h1.9M162.2 90.9h1.9M198.6 98.8h1.9M213.9 119.7h1.9M219.1 94.4h1.9M220.0 94.9h1.9M215.3 101.3h1.9M219.1 100.7h1.9M218.6 99.6h1.9M219.9 86.7h1.9M217.1 98.3h1.9M215.6 77.5h1.9M215.4 82.7h1.9M216.1 105.5h1.9M219.7 94.1h1.9M214.1 94.5h1.9M213.7 107.1h1.9M219.8 83.3h1.9M213.6 85.3h1.9M216.0 92.1h1.9M213.9 97.6h1.9M218.9 86.6h1.9M214.0 91.6h1.9M214.0 104.4h1.9M218.0 107.6h1.9M215.0 109.8h1.9M215.4 98.0h1.9M218.3 100.0h1.9M216.4 101.3h1.9M220.1 89.4h1.9M220.0 101.9h1.9M219.3 93.7h1.9M220.3 94.8h1.9M213.9 98.9h1.9M214.1 97.3h1.9M218.5 90.7h1.9M212.5 90.8h1.9M220.0 103.2h1.9M215.7 97.9h1.9M213.3 95.5h1.9M216.0 89.7h1.9M223.0 99.7h1.9M229.2 92.2h1.9M221.8 97.9h1.9M224.6 100.5h1.9M225.9 94.0h1.9M228.8 103.6h1.9M225.5 99.0h1.9M229.1 100.4h1.9M227.0 100.8h1.9M224.5 98.0h1.9M221.9 95.0h1.9M222.1 82.5h1.9M226.0 89.4h1.9M225.9 101.8h1.9M225.8 102.7h1.9M228.6 93.3h1.9M224.0 94.8h1.9M226.8 78.5h1.9M227.0 85.2h1.9M222.1 89.2h1.9M225.8 94.6h1.9M226.4 86.8h1.9M221.7 90.4h1.9M226.6 105.1h1.9M228.9 84.9h1.9M221.8 96.2h1.9M226.4 89.8h1.9M226.0 109.3h1.9M222.2 85.5h1.9M229.1 97.9h1.9M225.2 107.3h1.9M222.1 96.8h1.9M223.3 106.6h1.9M224.0 103.6h1.9M221.9 102.8h1.9M226.4 70.3h1.9M224.3 98.1h1.9M223.0 100.5h1.9M222.2 99.6h1.9M227.9 92.1h1.9M225.6 106.6h1.9M228.2 100.1h1.9M222.0 88.4h1.9M222.0 102.1h1.9M225.9 75.3h1.9M225.0 105.9h1.9M226.1 96.6h1.9M229.2 88.3h1.9M229.3 92.8h1.9M227.0 97.3h1.9M228.7 90.6h1.9M223.3 99.2h1.9M223.5 92.6h1.9M221.1 90.0h1.9M224.7 86.6h1.9M225.5 87.6h1.9M227.0 94.2h1.9M222.2 98.9h1.9M221.6 81.8h1.9M223.7 98.9h1.9M226.1 112.2h1.9M225.5 100.7h1.9M224.4 80.4h1.9M226.8 115.1h1.9M226.1 107.2h1.9M229.4 101.4h1.9M221.7 62.4h1.9M225.9 85.4h1.9M224.6 105.8h1.9M222.2 111.8h1.9M227.3 108.3h1.9M221.5 88.2h1.9M226.5 95.8h1.9M229.0 94.6h1.9M224.1 90.9h1.9M228.8 99.6h1.9M229.1 108.7h1.9M221.4 105.9h1.9M228.5 84.7h1.9M225.8 75.0h1.9M221.9 94.6h1.9M228.8 89.8h1.9M226.3 96.2h1.9M224.2 99.2h1.9M229.0 100.9h1.9M221.5 98.8h1.9M222.0 89.3h1.9M223.7 99.4h1.9M227.5 102.9h1.9M225.8 100.4h1.9M224.9 100.2h1.9M225.1 111.3h1.9M225.6 86.5h1.9M223.5 102.0h1.9M222.1 113.2h1.9M222.8 96.1h1.9M227.4 98.2h1.9M226.4 94.6h1.9M221.9 90.2h1.9M226.1 102.8h1.9M229.1 112.3h1.9M223.3 101.4h1.9M225.8 99.5h1.9M226.2 98.7h1.9M229.3 86.3h1.9M222.0 104.9h1.9M221.4 90.0h1.9M226.0 88.4h1.9M226.2 105.8h1.9M226.2 103.0h1.9M227.3 109.6h1.9M221.7 107.5h1.9M228.5 89.7h1.9M229.5 104.4h1.9M228.5 114.7h1.9M225.7 98.9h1.9M226.4 108.2h1.9M221.6 93.5h1.9M221.7 93.5h1.9M228.8 104.4h1.9M226.8 80.0h1.9M225.7 75.8h1.9M225.8 99.1h1.9M221.7 92.6h1.9M225.5 67.5h1.9M221.5 100.5h1.9M255.5 63.3h1.9M257.0 113.4h1.9M258.6 98.7h1.9M258.6 105.6h1.9M258.3 80.6h1.9M254.6 83.8h1.9M256.5 98.1h1.9M257.9 102.1h1.9M261.6 87.4h1.9M255.3 92.2h1.9M257.1 99.3h1.9M257.2 94.5h1.9M265.1 87.9h1.9M257.9 81.0h1.9M258.4 82.0h1.9M263.1 94.1h1.9M258.6 85.8h1.9M257.9 102.3h1.9M264.7 102.9h1.9M263.6 86.6h1.9M254.7 97.6h1.9M258.1 67.4h1.9M257.7 95.7h1.9M255.7 77.2h1.9M258.6 83.7h1.9M262.6 84.4h1.9M255.7 86.2h1.9M255.6 94.1h1.9M257.2 103.6h1.9M261.4 84.9h1.9M259.4 102.3h1.9M259.0 88.6h1.9M264.1 110.7h1.9M255.3 113.6h1.9M258.8 93.2h1.9M257.4 103.3h1.9M257.5 84.2h1.9M259.4 98.7h1.9M254.8 95.5h1.9M259.0 103.2h1.9M258.8 112.9h1.9M258.3 79.5h1.9M258.1 83.2h1.9M259.5 70.8h1.9M258.6 103.8h1.9M264.0 103.7h1.9M261.7 95.2h1.9M261.4 93.3h1.9M256.6 104.0h1.9M262.4 119.5h1.9M260.0 99.2h1.9M258.4 101.4h1.9M255.7 89.5h1.9M256.7 95.7h1.9M258.2 97.2h1.9M255.1 108.2h1.9M259.4 89.7h1.9M263.9 94.9h1.9M266.9 90.2h1.9M271.1 100.0h1.9M266.8 95.8h1.9M267.5 91.2h1.9M276.8 97.4h1.9M267.7 100.0h1.9M266.3 80.8h1.9M270.7 102.7h1.9M276.8 97.6h1.9M269.9 109.7h1.9M266.5 87.0h1.9M271.7 108.0h1.9M274.5 97.8h1.9M274.9 101.6h1.9M266.7 101.9h1.9M270.8 100.2h1.9M267.3 98.0h1.9M275.3 86.7h1.9M267.2 89.0h1.9M267.4 86.1h1.9M276.6 115.6h1.9M276.6 108.9h1.9M276.3 98.8h1.9M268.7 80.2h1.9M276.9 82.9h1.9M266.9 87.4h1.9M268.4 97.6h1.9M269.0 110.6h1.9M268.5 80.4h1.9M274.5 83.1h1.9M274.6 94.7h1.9M272.2 83.4h1.9M265.4 98.3h1.9M267.2 115.7h1.9M266.5 92.1h1.9M270.8 93.5h1.9M271.7 105.0h1.9M276.3 73.1h1.9M268.2 74.4h1.9M265.4 81.5h1.9M270.7 90.6h1.9M275.5 90.3h1.9M270.1 93.5h1.9M275.0 93.4h1.9M266.2 108.3h1.9M276.0 101.9h1.9M267.2 101.5h1.9M265.8 91.1h1.9M270.1 99.7h1.9M266.7 94.9h1.9M271.4 94.7h1.9M267.1 87.7h1.9M267.3 74.0h1.9M275.8 95.9h1.9M271.9 96.4h1.9M276.3 100.9h1.9M273.9 113.3h1.9M266.4 92.7h1.9M276.5 113.4h1.9M265.8 83.4h1.9M271.5 104.5h1.9M275.1 85.2h1.9M271.5 95.7h1.9M266.7 108.4h1.9M266.7 90.6h1.9M271.4 94.8h1.9M269.1 104.6h1.9M266.5 104.4h1.9M270.6 84.8h1.9M276.3 87.0h1.9M270.6 66.8h1.9M266.8 99.7h1.9M268.4 89.9h1.9M276.6 85.4h1.9M271.0 95.1h1.9M271.2 107.5h1.9M268.2 110.2h1.9M275.5 102.2h1.9M275.4 84.3h1.9M271.9 78.2h1.9M266.9 64.8h1.9M274.6 91.7h1.9M265.4 106.1h1.9M270.0 77.0h1.9M266.6 97.1h1.9M271.6 100.2h1.9M266.1 94.4h1.9M276.5 101.4h1.9M266.5 83.3h1.9M267.0 67.3h1.9M266.2 88.3h1.9M266.7 98.3h1.9M275.7 91.8h1.9M272.2 87.1h1.9M275.3 87.3h1.9M270.5 87.9h1.9M266.8 60.9h1.9M276.3 95.1h1.9M271.9 83.7h1.9M271.0 93.8h1.9M267.1 91.8h1.9M276.6 77.6h1.9M271.4 100.9h1.9M275.5 97.0h1.9M276.9 96.9h1.9M269.3 78.4h1.9M298.3 110.4h1.9M301.8 108.8h1.9M310.7 91.2h1.9M297.0 94.6h1.9M293.2 102.0h1.9M301.5 111.4h1.9M305.6 109.9h1.9M295.8 99.6h1.9M296.0 106.1h1.9M295.9 92.2h1.9M293.2 111.6h1.9M298.5 97.0h1.9M311.6 90.4h1.9M299.6 107.9h1.9M310.7 108.1h1.9M310.0 102.9h1.9M302.7 119.7h1.9M309.7 100.1h1.9M296.6 88.4h1.9M295.9 97.6h1.9M297.9 93.5h1.9M303.1 96.2h1.9M300.4 90.9h1.9M298.5 107.6h1.9M298.3 113.7h1.9M308.1 122.8h1.9M297.5 74.5h1.9M298.6 75.5h1.9M303.9 81.6h1.9M304.4 104.7h1.9M312.2 106.8h1.9M298.0 112.0h1.9M303.2 88.4h1.9M298.5 96.1h1.9M300.6 95.8h1.9M301.0 95.8h1.9M298.9 94.7h1.9M296.2 73.9h1.9M298.3 103.7h1.9M304.3 104.8h1.9M293.9 106.5h1.9M311.3 96.8h1.9M301.3 93.4h1.9M298.7 98.4h1.9M295.7 101.5h1.9M298.3 100.3h1.9M302.7 110.3h1.9M296.0 101.5h1.9M296.2 91.6h1.9M308.2 79.3h1.9M310.5 99.7h1.9M308.9 94.5h1.9M309.4 111.4h1.9M303.1 90.8h1.9M306.5 105.2h1.9M296.8 105.0h1.9M305.9 90.2h1.9M300.7 109.8h1.9M311.8 84.5h1.9M295.7 102.4h1.9M293.4 94.5h1.9M305.4 88.1h1.9M311.9 103.9h1.9M310.3 91.7h1.9M298.2 101.9h1.9M306.4 88.6h1.9M311.7 93.1h1.9M296.3 97.3h1.9M306.4 98.4h1.9M298.1 93.3h1.9M295.6 101.6h1.9M297.9 106.0h1.9M298.9 79.9h1.9M298.1 97.3h1.9M301.1 76.3h1.9M309.0 106.6h1.9M298.8 98.1h1.9M313.0 104.1h1.9M298.9 97.3h1.9M294.5 78.5h1.9M303.4 99.5h1.9M293.4 112.9h1.9M311.4 85.2h1.9M293.9 106.1h1.9M296.0 93.7h1.9M300.0 100.5h1.9M299.3 98.4h1.9M308.3 95.2h1.9M306.0 106.4h1.9M296.9 94.0h1.9M303.3 100.5h1.9M311.5 98.5h1.9M293.8 89.1h1.9M301.2 82.8h1.9M305.4 90.0h1.9M303.3 76.3h1.9M296.6 100.5h1.9M298.9 104.5h1.9M294.0 86.5h1.9M308.3 105.8h1.9M299.1 103.9h1.9M304.9 87.7h1.9M311.8 93.1h1.9M299.8 108.5h1.9M298.3 106.5h1.9M305.6 75.6h1.9M310.0 98.0h1.9M312.8 101.5h1.9M313.6 69.7h1.9M317.1 106.0h1.9M326.3 109.7h1.9M320.7 85.3h1.9M326.9 101.6h1.9M319.4 92.3h1.9M317.9 115.0h1.9M315.7 99.8h1.9M325.8 114.5h1.9M322.6 108.5h1.9M326.3 95.9h1.9M315.6 89.4h1.9M317.3 98.6h1.9M318.6 101.1h1.9M313.3 107.7h1.9M318.1 88.4h1.9M315.3 106.1h1.9M321.0 95.9h1.9M317.4 90.2h1.9M321.5 106.1h1.9M321.6 111.3h1.9M317.9 111.8h1.9M319.8 92.8h1.9M318.0 97.3h1.9M329.2 97.3h1.9M314.9 74.8h1.9M315.7 86.2h1.9M325.9 75.6h1.9M317.1 99.9h1.9M326.3 85.5h1.9M319.8 70.5h1.9M320.7 85.7h1.9M318.0 88.3h1.9M313.0 95.3h1.9M315.0 96.5h1.9M316.5 85.8h1.9M326.8 99.8h1.9M329.7 115.1h1.9M326.8 90.4h1.9M314.1 83.1h1.9M317.8 96.7h1.9M321.6 99.9h1.9M315.7 105.8h1.9M321.0 98.1h1.9M326.5 89.5h1.9M318.2 115.0h1.9M343.2 63.4h1.9M341.4 99.2h1.9M343.0 69.6h1.9M343.9 79.6h1.9M343.4 78.2h1.9M343.2 91.2h1.9M342.3 100.3h1.9M342.1 81.1h1.9M380.1 105.9h1.9M383.5 109.3h1.9M384.8 102.4h1.9M379.5 88.9h1.9M371.1 99.4h1.9M378.8 112.8h1.9M381.1 107.9h1.9M378.5 100.6h1.9M380.5 93.7h1.9M374.5 114.8h1.9M384.0 103.7h1.9M371.4 90.1h1.9M378.6 96.9h1.9M375.6 93.8h1.9M378.4 101.1h1.9M380.8 93.9h1.9M371.1 98.9h1.9M377.3 101.9h1.9M375.1 118.6h1.9M372.7 102.0h1.9M380.5 100.1h1.9M374.0 100.6h1.9M405.4 92.3h1.9M409.4 99.3h1.9M405.3 99.4h1.9M399.7 113.9h1.9M409.1 107.5h1.9M409.3 98.6h1.9M395.4 103.7h1.9M397.7 90.1h1.9M407.7 96.1h1.9M416.6 104.5h1.9M411.7 88.8h1.9M414.7 89.6h1.9M412.2 96.5h1.9M411.4 93.4h1.9M433.5 81.0h1.9M434.0 99.6h1.9M435.1 88.6h1.9M436.8 97.1h1.9M436.7 99.5h1.9M435.1 106.0h1.9M436.9 111.9h1.9M437.3 104.1h1.9M436.8 107.2h1.9M437.5 112.9h1.9M434.4 97.8h1.9M435.7 114.3h1.9M435.3 86.1h1.9M446.1 91.8h1.9M440.8 83.9h1.9M441.9 106.4h1.9M441.2 105.3h1.9M440.8 95.1h1.9M443.6 102.9h1.9M442.1 115.9h1.9M441.5 88.5h1.9M446.7 106.4h1.9M441.4 118.4h1.9M446.4 84.9h1.9M440.0 94.9h1.9M439.6 94.0h1.9M440.7 91.7h1.9M441.9 87.9h1.9M446.3 100.2h1.9M440.8 89.0h1.9M443.4 92.8h1.9M446.1 102.9h1.9M446.2 87.9h1.9M441.5 106.0h1.9M446.7 104.8h1.9M441.3 103.9h1.9M441.8 109.1h1.9M441.3 78.4h1.9M440.0 100.5h1.9M454.0 85.4h1.9M453.9 98.9h1.9M456.7 96.1h1.9M458.2 91.2h1.9M458.5 90.6h1.9M457.6 88.6h1.9M454.0 96.3h1.9M458.4 91.0h1.9M453.8 82.6h1.9M453.9 98.9h1.9M460.6 90.4h1.9M452.0 96.1h1.9M453.5 87.7h1.9M458.1 105.0h1.9M458.4 74.1h1.9M458.6 96.0h1.9M455.6 89.7h1.9M456.7 79.5h1.9M453.0 102.1h1.9M457.1 91.0h1.9M451.4 109.0h1.9M453.0 116.7h1.9M457.9 105.4h1.9M457.2 95.8h1.9M460.5 102.0h1.9M453.2 102.0h1.9M461.1 87.9h1.9M460.2 104.4h1.9M454.4 111.2h1.9M452.1 83.4h1.9M451.2 92.9h1.9M460.3 96.1h1.9M457.7 104.5h1.9M457.6 97.2h1.9M453.8 86.9h1.9M454.0 94.6h1.9M453.9 114.6h1.9M461.6 112.3h1.9M452.0 105.9h1.9M458.1 91.0h1.9M451.5 93.5h1.9M454.8 89.0h1.9M452.9 92.1h1.9M459.8 110.2h1.9M454.1 106.4h1.9M461.6 109.3h1.9M452.8 102.8h1.9M453.8 100.4h1.9M458.9 104.7h1.9M451.1 95.8h1.9M452.7 82.7h1.9M451.2 105.3h1.9M456.3 97.6h1.9M453.5 102.3h1.9M457.7 90.3h1.9M453.4 95.5h1.9M458.8 118.6h1.9M454.1 104.3h1.9M456.2 98.8h1.9M457.8 90.1h1.9M455.3 90.4h1.9M460.3 114.5h1.9M453.4 107.4h1.9M457.7 97.5h1.9M454.4 89.6h1.9M458.8 109.4h1.9M453.9 88.4h1.9M457.1 85.4h1.9M459.5 120.0h1.9M453.2 95.9h1.9M453.5 91.0h1.9M453.4 74.9h1.9M453.8 91.6h1.9M459.1 89.8h1.9M461.5 85.7h1.9M460.7 92.4h1.9M460.7 94.3h1.9M453.2 85.2h1.9M453.9 111.5h1.9M453.7 93.1h1.9M451.7 107.9h1.9M454.4 114.9h1.9M460.8 76.6h1.9M452.9 95.6h1.9M460.4 90.3h1.9M454.1 101.0h1.9M455.4 100.7h1.9M454.9 92.5h1.9M455.5 97.5h1.9M457.6 117.7h1.9M453.6 105.5h1.9M458.2 106.3h1.9M460.9 91.7h1.9M453.9 84.2h1.9M453.4 112.1h1.9M456.3 105.1h1.9M459.3 111.3h1.9M452.8 97.6h1.9M459.6 94.4h1.9M453.4 74.4h1.9M461.1 96.5h1.9M458.7 100.8h1.9M459.9 105.2h1.9M456.2 86.7h1.9M456.7 102.5h1.9M453.3 85.1h1.9M453.8 111.3h1.9M453.9 75.7h1.9M460.6 85.9h1.9M460.9 83.7h1.9M460.4 88.6h1.9M453.9 106.7h1.9M457.4 102.9h1.9M453.2 107.8h1.9M458.2 83.0h1.9M452.3 78.7h1.9M453.7 81.7h1.9M461.8 96.1h1.9M457.8 116.8h1.9M453.9 85.7h1.9M458.0 86.6h1.9M453.9 102.6h1.9M456.1 91.3h1.9M455.1 100.8h1.9M453.5 80.4h1.9M453.3 94.7h1.9M461.6 79.6h1.9M453.8 99.3h1.9M461.2 104.0h1.9M457.7 100.0h1.9M456.0 103.2h1.9M452.7 105.4h1.9M454.2 105.3h1.9M460.3 59.4h1.9M460.9 102.2h1.9M458.1 114.4h1.9M457.5 111.6h1.9M456.2 110.6h1.9M456.4 101.5h1.9M451.7 91.5h1.9M454.1 89.0h1.9M462.0 99.2h1.9M453.9 91.1h1.9M453.5 92.4h1.9M459.7 98.4h1.9M462.0 90.2h1.9M457.5 89.8h1.9M452.0 86.1h1.9M453.2 87.8h1.9M457.6 88.7h1.9M454.0 93.5h1.9M451.9 100.4h1.9M453.3 102.8h1.9M453.0 94.8h1.9M453.9 93.7h1.9M461.6 94.5h1.9M453.8 103.7h1.9M451.9 98.4h1.9M455.7 96.4h1.9M462.1 105.6h1.9M458.1 101.7h1.9M453.6 102.8h1.9M453.8 101.8h1.9M454.4 97.3h1.9M455.3 110.6h1.9M460.1 95.1h1.9M454.6 82.7h1.9M460.6 102.6h1.9M453.4 110.0h1.9M454.9 98.9h1.9M456.3 103.2h1.9M451.1 94.6h1.9M456.7 92.0h1.9M460.6 93.6h1.9M454.2 100.9h1.9M455.4 84.4h1.9M461.2 110.6h1.9M456.1 105.9h1.9M453.8 93.1h1.9M453.7 82.4h1.9M460.6 95.4h1.9M462.0 94.4h1.9M459.6 80.7h1.9M459.3 105.9h1.9M453.7 107.0h1.9M453.6 102.2h1.9M461.6 97.1h1.9M458.8 101.4h1.9M461.0 117.6h1.9M453.3 83.4h1.9M460.7 97.9h1.9M453.1 94.8h1.9M460.8 92.2h1.9M454.0 106.2h1.9M458.3 107.1h1.9M456.5 102.1h1.9M453.6 102.7h1.9M451.9 94.7h1.9M466.1 101.5h1.9M463.0 107.5h1.9M467.3 120.2h1.9M467.5 85.6h1.9M467.8 99.8h1.9M462.7 86.3h1.9M466.4 105.3h1.9M466.0 80.9h1.9M467.8 79.8h1.9M468.0 102.8h1.9M466.7 101.9h1.9M463.2 95.9h1.9M466.8 103.6h1.9M466.6 88.0h1.9M467.9 103.9h1.9M463.7 93.7h1.9M468.0 96.1h1.9M469.4 97.7h1.9M466.0 85.7h1.9M465.8 99.6h1.9M465.0 110.0h1.9M467.7 89.3h1.9M466.6 83.0h1.9M466.8 96.3h1.9M466.2 87.6h1.9M463.3 104.2h1.9M462.9 99.8h1.9M477.1 84.2h1.9M480.8 90.0h1.9M484.4 99.2h1.9M478.3 89.9h1.9M483.3 94.5h1.9M484.1 91.3h1.9M473.4 89.3h1.9M480.7 89.1h1.9M478.4 87.1h1.9M484.8 98.5h1.9M484.0 70.1h1.9M478.4 108.6h1.9M476.1 101.6h1.9M478.9 79.4h1.9M473.3 99.3h1.9M477.4 80.8h1.9M478.0 95.3h1.9M478.5 97.6h1.9M479.8 109.5h1.9M475.1 79.3h1.9M481.4 85.9h1.9M475.8 91.2h1.9M478.3 96.5h1.9M482.5 101.0h1.9M479.8 95.6h1.9M478.1 90.3h1.9M479.8 97.5h1.9M477.2 115.4h1.9M475.0 102.6h1.9M476.1 107.4h1.9M484.2 92.5h1.9M477.5 102.7h1.9M480.5 100.7h1.9M473.8 98.6h1.9M482.6 71.0h1.9M481.2 91.0h1.9M484.3 87.3h1.9M477.9 90.8h1.9M482.2 79.5h1.9M474.0 89.5h1.9M483.0 91.6h1.9M478.1 99.2h1.9M478.4 93.1h1.9M476.9 90.8h1.9M478.2 99.6h1.9M478.5 89.8h1.9M482.6 78.2h1.9M478.1 96.7h1.9M476.8 93.6h1.9M475.6 89.2h1.9M481.9 95.2h1.9M474.2 103.6h1.9M476.9 91.7h1.9M478.9 89.8h1.9M484.3 95.3h1.9M478.6 91.5h1.9M476.9 99.2h1.9M473.3 125.6h1.9M480.7 97.7h1.9M484.5 94.7h1.9M481.2 104.7h1.9M482.7 88.0h1.9M484.2 79.3h1.9M478.1 93.3h1.9M481.8 81.6h1.9M478.1 108.8h1.9M474.1 91.7h1.9M484.7 81.5h1.9M474.9 92.7h1.9M478.7 80.9h1.9M482.4 101.6h1.9M478.0 111.2h1.9M478.7 103.8h1.9M478.0 103.5h1.9M478.5 95.4h1.9M480.7 97.5h1.9M478.9 98.5h1.9M473.6 82.3h1.9M478.5 107.6h1.9M482.1 100.2h1.9M482.9 76.3h1.9M473.8 84.4h1.9M481.2 58.7h1.9M477.9 98.7h1.9M484.0 99.7h1.9M478.6 88.4h1.9M478.4 101.0h1.9M474.8 106.2h1.9M478.3 106.9h1.9M482.2 106.9h1.9M478.4 91.4h1.9M482.2 102.4h1.9M479.8 101.6h1.9M484.9 88.6h1.9M473.8 82.4h1.9M478.5 91.0h1.9M477.2 116.4h1.9M482.4 113.0h1.9M478.5 95.0h1.9M478.1 100.6h1.9M478.4 85.7h1.9M475.4 101.2h1.9M478.7 95.5h1.9M478.4 108.3h1.9M483.3 92.9h1.9M482.4 105.4h1.9M476.3 95.0h1.9M482.5 96.4h1.9M477.8 89.6h1.9M484.6 99.6h1.9M477.3 99.7h1.9M473.6 83.9h1.9M473.4 109.9h1.9M474.0 106.1h1.9M484.3 90.2h1.9M482.8 86.3h1.9M478.6 104.7h1.9M480.0 84.6h1.9M478.6 84.9h1.9M478.8 121.5h1.9M478.1 108.2h1.9M478.1 93.7h1.9M477.9 92.5h1.9M474.5 106.6h1.9M484.2 90.2h1.9M477.9 89.4h1.9M475.5 80.8h1.9M482.9 103.7h1.9M483.5 95.3h1.9M483.2 100.7h1.9M482.9 82.7h1.9M484.5 79.7h1.9M478.3 90.8h1.9M479.1 83.8h1.9M484.2 93.8h1.9M483.0 101.3h1.9M478.2 101.8h1.9M483.0 77.3h1.9M484.2 87.3h1.9M484.4 91.2h1.9M482.7 104.0h1.9M473.9 76.7h1.9M485.1 73.1h1.9M479.3 85.9h1.9M478.2 104.3h1.9M475.6 95.7h1.9M478.5 101.7h1.9M497.4 104.5h1.9M491.6 84.3h1.9M492.0 93.3h1.9M492.8 100.0h1.9M499.0 90.4h1.9M492.2 78.2h1.9M498.3 79.6h1.9M490.6 95.0h1.9M496.4 101.4h1.9M495.9 102.7h1.9M496.7 122.1h1.9M496.6 90.6h1.9M491.4 99.2h1.9M490.0 108.0h1.9M491.7 101.5h1.9M498.0 105.7h1.9M492.1 99.5h1.9M497.3 101.3h1.9M491.2 102.9h1.9M497.0 96.0h1.9M491.3 90.6h1.9M496.8 99.0h1.9M493.8 91.6h1.9M496.6 98.9h1.9M494.2 111.8h1.9M496.3 96.3h1.9M496.8 102.9h1.9M496.7 110.5h1.9M493.9 118.3h1.9M489.6 79.1h1.9M497.9 86.0h1.9M508.3 81.7h1.9M511.7 97.1h1.9M511.4 82.1h1.9M509.6 103.2h1.9M511.6 85.1h1.9M510.9 90.6h1.9M511.4 89.3h1.9M506.7 85.0h1.9M506.6 85.7h1.9M511.1 83.0h1.9M511.8 108.2h1.9M511.3 97.0h1.9M507.8 103.2h1.9M511.4 82.3h1.9M507.2 103.1h1.9M511.1 95.8h1.9M511.4 88.1h1.9M511.1 99.2h1.9M507.2 99.6h1.9M507.4 104.4h1.9" stroke="#ee1c24" stroke-width="1.5" stroke-opacity="0.58" fill="none"/>
<path d="M74.4 109.1h1.9M76.8 106.3h1.9M72.8 105.7h1.9M79.8 98.7h1.9M77.4 104.2h1.9M73.8 79.4h1.9M75.8 83.4h1.9M79.7 96.5h1.9M80.1 105.7h1.9M80.0 102.5h1.9M73.8 88.5h1.9M80.0 91.1h1.9M74.1 100.9h1.9M80.1 116.8h1.9M73.7 89.8h1.9M80.0 72.4h1.9M79.7 101.9h1.9M77.0 94.9h1.9M74.8 94.1h1.9M80.0 109.5h1.9M73.1 107.3h1.9M75.7 103.3h1.9M79.3 97.1h1.9M79.1 96.0h1.9M80.2 92.3h1.9M72.9 87.1h1.9M79.0 105.5h1.9M78.9 109.6h1.9M79.9 113.6h1.9M79.9 116.4h1.9M72.1 102.1h1.9M79.8 116.3h1.9M80.0 105.1h1.9M75.5 108.4h1.9M73.6 101.0h1.9M80.7 97.7h1.9M74.3 94.3h1.9M77.8 84.7h1.9M78.7 74.9h1.9M73.6 108.4h1.9M72.2 91.0h1.9M73.6 104.1h1.9M79.5 104.3h1.9M77.3 109.6h1.9M71.8 114.4h1.9M79.9 88.2h1.9M77.3 77.1h1.9M72.0 106.9h1.9M74.9 85.0h1.9M80.1 85.5h1.9M80.1 93.6h1.9M73.8 110.2h1.9M74.0 88.3h1.9M79.9 103.6h1.9M79.4 105.3h1.9M78.9 90.3h1.9M79.9 107.7h1.9M74.0 108.2h1.9M73.6 101.7h1.9M79.0 99.5h1.9M80.1 104.1h1.9M79.5 108.4h1.9M79.8 88.3h1.9M74.8 101.9h1.9M78.9 99.9h1.9M79.9 82.5h1.9M76.6 89.5h1.9M73.4 106.6h1.9M74.5 115.6h1.9M79.4 106.0h1.9M73.9 88.7h1.9M78.9 95.6h1.9M76.4 105.1h1.9M72.1 104.6h1.9M76.2 106.6h1.9M73.5 99.9h1.9M79.7 117.0h1.9M80.0 72.4h1.9M73.9 105.7h1.9M77.5 127.4h1.9M72.5 104.9h1.9M79.9 100.4h1.9M72.8 123.0h1.9M80.0 92.2h1.9M74.0 90.1h1.9M79.5 110.1h1.9M80.7 103.5h1.9M74.2 120.9h1.9M78.2 108.1h1.9M75.0 108.4h1.9M76.1 107.3h1.9M79.7 89.1h1.9M78.1 96.5h1.9M80.3 122.7h1.9M74.3 101.5h1.9M77.1 104.7h1.9M76.7 111.3h1.9M79.4 77.1h1.9M80.1 106.6h1.9M80.2 79.4h1.9M76.0 102.0h1.9M73.7 97.5h1.9M79.7 108.7h1.9M80.3 117.8h1.9M80.0 101.9h1.9M77.9 89.1h1.9M74.3 107.4h1.9M74.2 115.7h1.9M80.1 104.0h1.9M79.8 94.0h1.9M79.3 105.7h1.9M77.7 105.8h1.9M73.6 107.1h1.9M74.7 92.0h1.9M79.5 73.3h1.9M79.0 93.0h1.9M71.7 90.8h1.9M91.2 105.6h1.9M83.1 92.9h1.9M85.9 97.2h1.9M83.5 105.4h1.9M90.7 93.3h1.9M86.2 95.9h1.9M82.8 98.8h1.9M83.6 116.1h1.9M88.8 83.8h1.9M85.0 90.0h1.9M91.6 103.5h1.9M88.3 109.3h1.9M87.8 99.7h1.9M86.0 88.3h1.9M89.0 88.6h1.9M86.2 97.3h1.9M89.7 98.5h1.9M83.5 84.2h1.9M87.7 101.3h1.9M84.2 85.3h1.9M90.1 97.3h1.9M88.9 93.6h1.9M90.7 114.5h1.9M83.7 100.5h1.9M92.2 99.4h1.9M90.8 102.9h1.9M84.0 94.3h1.9M89.6 97.2h1.9M84.1 97.4h1.9M82.6 86.2h1.9M82.5 93.5h1.9M88.7 96.7h1.9M88.5 82.4h1.9M91.5 116.7h1.9M91.3 100.5h1.9M81.6 57.8h1.9M82.8 94.9h1.9M89.1 79.4h1.9M87.2 93.4h1.9M83.9 96.3h1.9M84.0 97.4h1.9M91.0 95.1h1.9M83.4 69.2h1.9M88.8 119.3h1.9M86.5 84.4h1.9M81.4 107.7h1.9M92.0 97.0h1.9M90.4 92.0h1.9M91.6 99.8h1.9M88.3 109.0h1.9M89.1 100.2h1.9M84.0 84.7h1.9M91.4 88.0h1.9M90.3 102.8h1.9M82.1 103.6h1.9M91.3 109.9h1.9M88.1 99.2h1.9M83.5 93.0h1.9M92.1 107.6h1.9M91.9 105.0h1.9M90.5 94.5h1.9M89.0 92.9h1.9M92.1 101.9h1.9M92.1 108.0h1.9M91.3 87.5h1.9M85.1 99.1h1.9M91.5 87.8h1.9M86.5 94.3h1.9M88.8 87.1h1.9M91.3 97.3h1.9M88.4 107.2h1.9M91.1 92.6h1.9M88.6 100.9h1.9M83.2 83.7h1.9M83.0 96.7h1.9M92.4 109.6h1.9M88.8 99.8h1.9M88.5 99.9h1.9M89.3 104.6h1.9M89.9 100.0h1.9M91.3 104.1h1.9M88.2 111.1h1.9M91.4 99.8h1.9M86.7 93.7h1.9M86.5 81.6h1.9M88.0 105.9h1.9M84.6 92.7h1.9M83.9 105.3h1.9M89.0 82.1h1.9M88.0 86.6h1.9M90.5 102.8h1.9M89.9 90.0h1.9M87.5 111.7h1.9M88.6 94.4h1.9M83.7 95.9h1.9M84.7 107.5h1.9M81.6 83.4h1.9M86.3 86.0h1.9M90.6 86.1h1.9M92.3 98.9h1.9M92.0 102.5h1.9M92.0 94.5h1.9M83.9 89.5h1.9M88.5 108.2h1.9M82.5 90.3h1.9M91.0 101.6h1.9M91.8 101.7h1.9M83.7 93.9h1.9M88.9 88.7h1.9M83.4 87.9h1.9M89.0 98.9h1.9M88.9 104.6h1.9M91.5 98.7h1.9M84.4 114.2h1.9M82.1 102.7h1.9M87.5 87.1h1.9M88.3 84.7h1.9M83.4 95.0h1.9M89.4 111.7h1.9M88.7 91.1h1.9M88.2 89.0h1.9M89.5 114.7h1.9M89.5 90.0h1.9M82.8 109.7h1.9M90.4 86.1h1.9M92.2 88.8h1.9M91.5 90.8h1.9M90.6 95.8h1.9M81.6 102.4h1.9M88.7 91.0h1.9M89.3 87.7h1.9M91.8 112.9h1.9M91.6 86.7h1.9M89.3 89.7h1.9M90.8 105.3h1.9M84.1 106.0h1.9M89.7 95.8h1.9M86.9 96.4h1.9M84.2 78.9h1.9M83.3 109.9h1.9M92.1 103.4h1.9M83.3 98.8h1.9M86.0 85.6h1.9M83.1 104.9h1.9M83.3 108.1h1.9M87.5 106.5h1.9M88.7 88.5h1.9M91.1 104.9h1.9M83.8 106.4h1.9M83.3 92.2h1.9M91.7 106.4h1.9M90.9 94.8h1.9M88.6 84.5h1.9M89.2 104.0h1.9M83.7 107.4h1.9M88.6 92.4h1.9M90.9 105.5h1.9M86.5 101.8h1.9M88.6 110.8h1.9M91.4 93.7h1.9M83.5 89.4h1.9M81.5 95.1h1.9M88.5 92.9h1.9M74.1 58.3h1.9M75.0 51.9h1.9M159.2 98.1h1.9M164.1 107.5h1.9M206.8 102.7h1.9M215.5 86.1h1.9M215.8 100.1h1.9M216.8 105.0h1.9M220.0 94.6h1.9M212.5 96.2h1.9M217.8 99.8h1.9M218.3 95.3h1.9M215.8 92.2h1.9M213.9 98.5h1.9M216.9 100.3h1.9M213.9 94.0h1.9M215.5 101.4h1.9M213.9 94.0h1.9M216.8 99.0h1.9M217.9 86.7h1.9M218.0 106.9h1.9M220.1 107.1h1.9M217.9 111.1h1.9M215.5 97.9h1.9M215.8 107.5h1.9M214.0 93.4h1.9M217.9 88.4h1.9M217.4 93.9h1.9M213.8 99.0h1.9M214.2 104.8h1.9M218.1 84.9h1.9M213.6 95.3h1.9M219.1 83.7h1.9M213.1 98.3h1.9M214.1 102.2h1.9M214.3 87.3h1.9M214.2 103.1h1.9M217.9 98.4h1.9M216.0 80.3h1.9M218.9 86.5h1.9M213.7 103.6h1.9M219.2 97.4h1.9M227.7 104.6h1.9M221.4 87.8h1.9M222.8 111.3h1.9M225.6 94.3h1.9M226.0 93.5h1.9M222.0 88.0h1.9M228.4 74.3h1.9M225.4 100.0h1.9M225.6 106.7h1.9M222.6 87.6h1.9M223.6 98.6h1.9M226.2 85.5h1.9M226.7 81.7h1.9M224.8 94.6h1.9M225.6 97.3h1.9M221.4 94.7h1.9M221.6 103.3h1.9M222.8 101.7h1.9M221.7 99.2h1.9M226.2 119.6h1.9M225.8 94.5h1.9M226.0 98.3h1.9M221.7 92.7h1.9M226.6 115.6h1.9M222.3 99.9h1.9M227.0 94.7h1.9M225.6 98.0h1.9M221.4 96.6h1.9M227.7 103.2h1.9M221.6 99.5h1.9M226.0 107.5h1.9M223.7 108.5h1.9M228.4 104.2h1.9M228.7 92.9h1.9M225.5 87.3h1.9M222.2 101.6h1.9M221.5 97.2h1.9M221.6 98.6h1.9M225.0 93.1h1.9M226.2 92.3h1.9M227.2 91.2h1.9M227.6 85.7h1.9M227.0 80.0h1.9M227.0 109.3h1.9M224.6 101.2h1.9M225.5 79.0h1.9M225.9 90.7h1.9M225.9 95.1h1.9M226.5 97.2h1.9M226.8 99.6h1.9M227.2 91.1h1.9M225.8 96.6h1.9M228.8 104.4h1.9M227.6 99.0h1.9M223.4 107.2h1.9M221.0 109.3h1.9M227.4 89.3h1.9M225.9 92.7h1.9M224.3 112.7h1.9M226.0 101.0h1.9M229.0 104.8h1.9M222.1 104.0h1.9M226.5 86.5h1.9M223.2 102.1h1.9M229.3 100.3h1.9M226.1 91.3h1.9M227.8 86.2h1.9M225.8 107.3h1.9M222.2 94.9h1.9M221.9 80.8h1.9M223.8 91.0h1.9M227.8 80.6h1.9M226.7 105.3h1.9M228.8 87.2h1.9M221.8 99.6h1.9M222.9 91.6h1.9M221.5 117.1h1.9M224.6 103.8h1.9M228.0 85.6h1.9M222.1 78.7h1.9M229.0 98.1h1.9M228.7 90.4h1.9M228.3 88.4h1.9M221.6 98.0h1.9M221.3 100.2h1.9M226.3 103.9h1.9M221.4 99.1h1.9M228.4 108.0h1.9M226.6 96.5h1.9M225.0 89.8h1.9M227.7 81.0h1.9M225.5 105.5h1.9M228.0 99.3h1.9M221.6 101.3h1.9M221.5 88.1h1.9M225.6 80.3h1.9M227.5 84.2h1.9M225.6 99.6h1.9M222.3 101.7h1.9M227.4 95.0h1.9M227.7 104.7h1.9M222.2 101.3h1.9M224.0 94.5h1.9M226.5 89.5h1.9M221.9 98.3h1.9M226.3 77.3h1.9M226.4 97.4h1.9M227.9 93.9h1.9M225.9 103.6h1.9M221.8 88.1h1.9M221.8 103.9h1.9M225.6 108.8h1.9M226.5 104.9h1.9M226.1 113.7h1.9M221.5 110.6h1.9M222.2 99.1h1.9M224.2 114.0h1.9M221.7 84.5h1.9M229.4 97.9h1.9M226.2 108.2h1.9M228.5 102.4h1.9M224.3 92.9h1.9M222.6 82.9h1.9M226.3 90.9h1.9M226.5 111.7h1.9M226.0 99.3h1.9M224.8 117.2h1.9M225.7 102.1h1.9M224.4 103.9h1.9M228.4 98.1h1.9M222.6 98.7h1.9M226.5 93.8h1.9M222.7 103.0h1.9M226.7 108.7h1.9M223.9 88.5h1.9M228.5 91.5h1.9M226.3 87.6h1.9M229.4 92.9h1.9M263.5 95.0h1.9M257.9 93.6h1.9M258.0 102.2h1.9M255.2 85.1h1.9M258.7 98.4h1.9M258.8 110.3h1.9M262.1 90.5h1.9M259.3 105.6h1.9M258.6 68.6h1.9M258.3 98.2h1.9M264.8 90.6h1.9M257.5 105.1h1.9M258.3 94.9h1.9M255.6 81.8h1.9M256.1 99.9h1.9M258.9 100.6h1.9M263.6 85.9h1.9M256.1 96.9h1.9M258.4 94.4h1.9M262.6 99.0h1.9M263.1 86.0h1.9M258.9 93.9h1.9M258.2 85.4h1.9M258.4 87.6h1.9M258.3 69.9h1.9M257.1 101.9h1.9M257.8 99.1h1.9M259.3 86.7h1.9M261.6 88.2h1.9M257.6 98.2h1.9M257.5 104.5h1.9M257.7 102.1h1.9M264.4 97.5h1.9M255.6 104.7h1.9M258.3 94.1h1.9M261.9 95.3h1.9M258.9 94.5h1.9M259.5 78.9h1.9M258.0 92.1h1.9M255.2 78.3h1.9M258.1 100.3h1.9M257.1 107.3h1.9M254.6 100.3h1.9M258.3 85.0h1.9M256.4 96.0h1.9M254.6 91.0h1.9M259.9 89.9h1.9M256.2 94.7h1.9M256.8 107.3h1.9M257.6 73.0h1.9M258.5 98.7h1.9M256.5 90.7h1.9M259.0 83.4h1.9M255.0 112.1h1.9M257.7 82.4h1.9M259.1 87.2h1.9M258.2 108.8h1.9M259.0 83.9h1.9M261.7 90.8h1.9M259.4 74.2h1.9M258.2 73.3h1.9M258.3 81.3h1.9M258.6 77.6h1.9M257.6 79.5h1.9M258.0 100.8h1.9M258.7 84.1h1.9M258.5 91.6h1.9M256.5 83.4h1.9M258.4 79.2h1.9M275.5 100.9h1.9M275.4 91.2h1.9M267.3 99.0h1.9M276.5 96.6h1.9M266.9 78.5h1.9M266.7 97.1h1.9M267.6 102.5h1.9M267.1 86.0h1.9M269.1 105.9h1.9M269.2 104.7h1.9M266.6 90.1h1.9M274.2 103.1h1.9M270.0 103.9h1.9M267.1 89.1h1.9M275.6 92.9h1.9M275.5 90.6h1.9M274.4 85.1h1.9M271.4 94.3h1.9M269.0 113.0h1.9M275.1 93.5h1.9M274.1 88.0h1.9M266.7 96.2h1.9M268.3 97.6h1.9M274.1 92.2h1.9M275.9 89.8h1.9M276.3 78.1h1.9M275.6 76.8h1.9M271.3 98.6h1.9M267.3 96.7h1.9M272.7 92.1h1.9M266.4 89.3h1.9M266.8 101.4h1.9M271.9 93.2h1.9M269.3 79.9h1.9M272.4 105.0h1.9M266.9 86.5h1.9M266.8 90.8h1.9M276.3 77.8h1.9M268.6 105.2h1.9M273.3 99.7h1.9M272.8 93.3h1.9M275.2 101.4h1.9M268.6 118.3h1.9M276.0 96.8h1.9M266.6 90.7h1.9M272.6 75.6h1.9M276.5 83.8h1.9M275.1 106.9h1.9M266.9 91.3h1.9M274.0 104.9h1.9M276.7 84.4h1.9M267.4 110.1h1.9M266.5 85.9h1.9M275.7 66.9h1.9M276.4 96.2h1.9M266.4 93.1h1.9M274.9 103.7h1.9M276.3 91.0h1.9M269.9 98.0h1.9M272.4 86.7h1.9M272.6 88.3h1.9M266.5 91.6h1.9M276.2 102.4h1.9M273.5 100.2h1.9M269.8 94.1h1.9M266.9 98.2h1.9M275.9 97.7h1.9M276.2 98.3h1.9M266.4 77.7h1.9M273.3 92.3h1.9M276.4 79.4h1.9M267.2 90.6h1.9M276.3 77.6h1.9M274.6 100.1h1.9M269.5 84.6h1.9M265.3 114.7h1.9M271.1 85.3h1.9M275.3 95.9h1.9M272.6 81.4h1.9M272.3 86.9h1.9M267.2 86.7h1.9M276.0 94.7h1.9M266.8 94.8h1.9M271.4 94.4h1.9M276.6 106.0h1.9M266.9 81.5h1.9M275.8 88.5h1.9M276.5 84.5h1.9M266.1 98.7h1.9M266.1 95.1h1.9M265.7 85.7h1.9M273.3 74.0h1.9M273.9 109.3h1.9M268.8 84.2h1.9M275.1 98.9h1.9M272.5 103.1h1.9M269.3 93.2h1.9M274.8 104.1h1.9M265.2 101.6h1.9M274.4 88.2h1.9M275.0 96.0h1.9M266.5 79.2h1.9M275.4 94.0h1.9M271.7 85.1h1.9M265.5 97.3h1.9M265.4 95.0h1.9M266.8 91.7h1.9M270.9 87.7h1.9M275.8 103.1h1.9M267.1 87.9h1.9M267.1 78.0h1.9M266.5 83.3h1.9M266.9 92.9h1.9M276.3 89.2h1.9M271.3 91.0h1.9M267.4 92.6h1.9M275.4 94.3h1.9M271.8 82.6h1.9M276.2 90.0h1.9M267.2 77.5h1.9M293.3 89.3h1.9M300.5 81.4h1.9M299.8 89.3h1.9M296.1 80.7h1.9M299.0 100.0h1.9M295.7 84.8h1.9M301.3 98.1h1.9M312.7 100.3h1.9M296.1 103.1h1.9M298.8 96.2h1.9M300.6 99.9h1.9M300.3 94.1h1.9M305.4 103.4h1.9M303.1 95.3h1.9M299.3 97.1h1.9M308.1 83.3h1.9M305.9 77.4h1.9M302.6 98.0h1.9M299.3 106.9h1.9M307.8 93.7h1.9M304.9 99.2h1.9M297.5 98.9h1.9M306.1 101.7h1.9M299.6 111.2h1.9M298.8 106.5h1.9M301.2 92.5h1.9M298.5 91.8h1.9M298.5 117.7h1.9M297.8 104.3h1.9M300.1 94.6h1.9M298.5 105.9h1.9M296.4 113.9h1.9M311.3 102.1h1.9M310.7 86.0h1.9M299.0 111.3h1.9M311.3 85.4h1.9M299.1 112.5h1.9M312.5 100.6h1.9M295.1 103.3h1.9M296.7 101.3h1.9M310.1 98.8h1.9M298.5 110.8h1.9M294.8 99.1h1.9M298.8 107.4h1.9M308.6 108.7h1.9M294.3 97.0h1.9M296.5 92.2h1.9M307.7 77.9h1.9M299.6 97.4h1.9M298.1 109.3h1.9M308.1 102.6h1.9M298.2 109.2h1.9M312.9 88.8h1.9M312.3 97.4h1.9M299.8 97.7h1.9M298.6 84.8h1.9M295.7 107.9h1.9M296.8 83.7h1.9M298.0 110.5h1.9M310.6 105.7h1.9M303.1 89.3h1.9M311.5 83.0h1.9M298.8 100.0h1.9M298.6 99.1h1.9M298.8 95.2h1.9M300.8 96.6h1.9M296.2 114.0h1.9M303.1 112.4h1.9M298.4 114.7h1.9M293.6 107.8h1.9M297.9 85.2h1.9M294.5 93.4h1.9M301.6 93.1h1.9M303.1 94.3h1.9M313.1 96.1h1.9M293.6 93.6h1.9M295.2 105.3h1.9M299.2 85.8h1.9M299.7 93.2h1.9M308.8 104.1h1.9M296.6 80.6h1.9M298.9 97.5h1.9M305.0 92.1h1.9M312.0 106.6h1.9M308.0 84.9h1.9M306.9 83.4h1.9M304.9 125.3h1.9M309.8 95.4h1.9M302.1 82.8h1.9M310.0 100.4h1.9M293.6 89.4h1.9M298.4 91.4h1.9M311.6 75.1h1.9M307.8 96.4h1.9M311.3 87.0h1.9M298.9 104.0h1.9M313.1 108.4h1.9M294.1 104.7h1.9M293.4 98.0h1.9M307.8 93.2h1.9M305.9 101.7h1.9M312.7 104.5h1.9M300.6 103.3h1.9M299.9 99.7h1.9M298.4 102.2h1.9M305.9 84.0h1.9M298.5 112.4h1.9M311.9 92.3h1.9M311.5 92.0h1.9M296.1 93.6h1.9M302.6 99.9h1.9M305.1 85.5h1.9M326.4 104.1h1.9M317.1 94.4h1.9M318.5 92.6h1.9M321.2 82.4h1.9M317.4 106.1h1.9M315.3 105.9h1.9M315.2 108.4h1.9M328.1 91.7h1.9M321.8 90.8h1.9M326.5 76.2h1.9M321.9 99.9h1.9M326.1 104.1h1.9M321.9 95.7h1.9M324.2 115.5h1.9M320.9 98.3h1.9M326.5 100.5h1.9M320.1 78.3h1.9M313.8 100.0h1.9M326.0 87.2h1.9M320.8 97.4h1.9M326.0 97.8h1.9M318.3 72.3h1.9M325.4 108.5h1.9M321.0 81.8h1.9M314.4 108.7h1.9M326.5 112.4h1.9M329.4 106.8h1.9M316.3 89.3h1.9M315.1 94.3h1.9M326.6 111.0h1.9M325.8 93.8h1.9M314.6 83.4h1.9M313.8 98.3h1.9M315.8 98.8h1.9M315.0 108.7h1.9M324.0 116.8h1.9M321.1 98.7h1.9M326.2 119.9h1.9M314.9 100.6h1.9M317.9 83.0h1.9M329.9 108.6h1.9M323.8 76.7h1.9M326.7 102.3h1.9M318.8 106.2h1.9M313.8 105.5h1.9M326.4 85.0h1.9M322.4 106.2h1.9M325.5 103.7h1.9M322.0 77.9h1.9M327.2 82.7h1.9M326.1 103.1h1.9M326.8 93.0h1.9M317.8 97.4h1.9M321.9 95.8h1.9M313.0 87.1h1.9M323.2 112.1h1.9M326.4 101.6h1.9M324.8 101.4h1.9M317.0 92.9h1.9M330.0 100.6h1.9M329.6 105.1h1.9M318.5 96.4h1.9M317.9 107.1h1.9M323.0 94.5h1.9M316.0 106.0h1.9M317.8 98.2h1.9M322.3 117.0h1.9M321.2 87.4h1.9M318.2 90.7h1.9M327.4 97.1h1.9M329.9 110.2h1.9M313.5 108.9h1.9M321.3 114.4h1.9M313.9 110.9h1.9M320.5 106.0h1.9M320.5 76.3h1.9M313.8 74.7h1.9M317.2 89.9h1.9M326.7 107.5h1.9M316.7 120.5h1.9M324.0 97.9h1.9M314.0 92.0h1.9M342.0 97.6h1.9M342.5 108.5h1.9M342.3 112.3h1.9M342.0 104.8h1.9M343.7 110.6h1.9M375.2 88.1h1.9M376.0 103.8h1.9M380.8 100.7h1.9M378.6 99.4h1.9M370.8 84.6h1.9M380.3 104.7h1.9M375.8 102.3h1.9M381.1 94.5h1.9M371.5 102.2h1.9M376.7 101.0h1.9M382.1 95.3h1.9M372.9 109.9h1.9M382.1 106.2h1.9M380.9 99.2h1.9M380.6 82.2h1.9M380.2 104.2h1.9M371.7 106.5h1.9M379.9 111.8h1.9M375.5 107.3h1.9M380.3 103.3h1.9M384.1 98.8h1.9M378.0 100.6h1.9M384.6 114.5h1.9M399.0 93.5h1.9M399.0 105.1h1.9M398.5 90.4h1.9M404.7 86.5h1.9M396.2 111.3h1.9M404.4 95.1h1.9M406.7 107.9h1.9M407.7 91.4h1.9M398.3 91.7h1.9M398.1 93.6h1.9M409.5 94.5h1.9M398.8 93.0h1.9M411.7 90.9h1.9M411.6 88.3h1.9M413.9 79.3h1.9M412.2 90.3h1.9M415.9 97.8h1.9M415.3 79.9h1.9M411.3 97.9h1.9M411.9 104.1h1.9M436.7 100.5h1.9M437.1 98.6h1.9M434.9 86.4h1.9M436.9 103.2h1.9M437.4 107.8h1.9M435.3 90.7h1.9M434.2 83.8h1.9M435.8 98.7h1.9M435.2 115.6h1.9M436.5 83.7h1.9M434.2 79.3h1.9M435.9 93.3h1.9M435.1 97.8h1.9M437.1 93.8h1.9M437.6 90.2h1.9M434.5 104.8h1.9M437.3 95.9h1.9M435.5 84.4h1.9M442.7 85.8h1.9M439.9 78.7h1.9M444.7 104.5h1.9M440.9 108.7h1.9M440.2 104.3h1.9M440.1 98.6h1.9M445.8 78.5h1.9M443.7 98.0h1.9M440.3 99.5h1.9M445.9 104.1h1.9M441.7 85.0h1.9M446.3 89.0h1.9M445.4 100.3h1.9M442.7 99.0h1.9M441.9 84.3h1.9M439.5 96.8h1.9M444.5 91.4h1.9M439.6 71.0h1.9M446.7 98.7h1.9M446.6 95.0h1.9M441.9 100.0h1.9M446.3 109.4h1.9M439.8 102.4h1.9M446.5 101.6h1.9M444.7 107.9h1.9M441.8 97.6h1.9M451.9 123.3h1.9M453.8 110.2h1.9M452.8 84.5h1.9M458.0 98.1h1.9M453.9 107.7h1.9M457.4 111.1h1.9M454.7 87.1h1.9M455.7 91.7h1.9M457.6 99.1h1.9M453.2 115.1h1.9M453.9 100.8h1.9M457.9 103.3h1.9M457.4 113.2h1.9M457.4 94.3h1.9M459.8 96.9h1.9M453.8 100.7h1.9M455.5 109.0h1.9M453.3 88.4h1.9M453.3 95.3h1.9M458.2 102.4h1.9M457.8 106.2h1.9M453.7 125.7h1.9M457.6 80.5h1.9M453.8 116.4h1.9M454.8 98.2h1.9M455.8 102.3h1.9M460.8 105.5h1.9M452.1 110.6h1.9M453.9 93.1h1.9M453.9 105.1h1.9M455.1 89.3h1.9M452.9 115.9h1.9M455.8 96.3h1.9M460.9 110.2h1.9M459.8 83.4h1.9M453.1 104.3h1.9M453.2 104.7h1.9M457.6 97.0h1.9M457.9 105.4h1.9M460.9 105.0h1.9M453.8 86.1h1.9M453.9 108.5h1.9M453.9 86.8h1.9M457.8 108.6h1.9M453.6 88.5h1.9M457.3 98.7h1.9M457.9 112.3h1.9M452.8 107.0h1.9M453.5 106.8h1.9M453.7 97.1h1.9M458.1 102.0h1.9M452.0 80.8h1.9M450.7 92.3h1.9M455.2 107.2h1.9M457.9 99.8h1.9M459.5 78.0h1.9M455.6 89.0h1.9M450.8 99.5h1.9M452.1 98.4h1.9M450.9 95.8h1.9M458.1 74.9h1.9M451.2 85.7h1.9M453.9 91.0h1.9M451.2 80.3h1.9M453.3 102.6h1.9M461.8 92.7h1.9M454.5 89.6h1.9M454.4 95.7h1.9M461.6 82.4h1.9M451.8 90.8h1.9M451.0 89.3h1.9M453.2 93.0h1.9M457.8 112.8h1.9M451.5 102.9h1.9M455.7 98.6h1.9M451.8 85.7h1.9M455.6 103.5h1.9M461.8 86.3h1.9M451.0 103.8h1.9M453.4 103.6h1.9M462.0 87.8h1.9M459.0 91.6h1.9M454.5 91.2h1.9M453.7 106.0h1.9M455.7 80.4h1.9M453.6 100.8h1.9M457.4 111.9h1.9M459.2 98.9h1.9M461.0 101.7h1.9M454.9 83.4h1.9M452.4 103.4h1.9M453.8 92.7h1.9M452.9 95.4h1.9M457.9 94.4h1.9M459.9 91.8h1.9M451.9 86.3h1.9M452.7 96.8h1.9M458.5 92.4h1.9M459.2 96.9h1.9M458.2 96.0h1.9M458.6 107.7h1.9M457.9 104.7h1.9M458.1 100.4h1.9M461.2 106.6h1.9M459.0 84.9h1.9M453.5 110.9h1.9M457.4 91.5h1.9M455.6 85.6h1.9M453.7 86.4h1.9M454.2 71.4h1.9M455.0 103.4h1.9M454.0 100.5h1.9M454.0 104.7h1.9M454.0 81.4h1.9M454.2 79.5h1.9M454.1 111.2h1.9M455.8 101.6h1.9M459.2 98.5h1.9M460.5 79.8h1.9M453.9 94.0h1.9M453.7 83.9h1.9M460.6 82.9h1.9M453.7 100.5h1.9M452.8 79.1h1.9M462.2 75.3h1.9M453.9 91.7h1.9M456.4 102.2h1.9M457.6 103.1h1.9M453.7 87.7h1.9M458.8 105.6h1.9M457.8 114.9h1.9M458.0 91.6h1.9M461.7 104.2h1.9M459.7 81.9h1.9M453.6 92.4h1.9M452.4 90.1h1.9M455.7 88.4h1.9M460.7 113.1h1.9M455.3 87.7h1.9M453.6 95.1h1.9M458.1 116.8h1.9M456.2 97.0h1.9M459.2 95.5h1.9M454.4 109.9h1.9M455.6 101.3h1.9M455.9 117.7h1.9M454.3 98.2h1.9M456.1 111.9h1.9M460.7 101.0h1.9M453.8 93.0h1.9M462.1 106.3h1.9M454.7 94.4h1.9M456.5 95.9h1.9M461.4 79.4h1.9M461.2 78.3h1.9M453.5 103.8h1.9M453.5 101.4h1.9M458.7 95.2h1.9M453.4 98.6h1.9M454.5 105.0h1.9M450.9 78.6h1.9M456.0 102.7h1.9M461.0 98.6h1.9M453.6 116.2h1.9M453.6 99.6h1.9M453.5 97.5h1.9M452.2 93.8h1.9M453.5 98.7h1.9M453.8 90.0h1.9M458.2 99.5h1.9M453.9 89.8h1.9M453.7 104.4h1.9M453.2 105.0h1.9M453.6 87.9h1.9M451.4 108.4h1.9M458.2 102.0h1.9M450.7 74.9h1.9M453.3 109.8h1.9M456.1 114.8h1.9M453.6 106.8h1.9M454.0 105.0h1.9M454.8 109.1h1.9M455.2 109.6h1.9M452.7 97.6h1.9M453.6 93.3h1.9M454.4 104.1h1.9M453.9 102.5h1.9M455.3 115.1h1.9M451.2 93.8h1.9M459.8 85.7h1.9M457.9 101.4h1.9M453.7 101.0h1.9M454.5 87.3h1.9M453.2 88.8h1.9M453.8 83.6h1.9M453.8 107.4h1.9M451.6 106.7h1.9M458.3 84.3h1.9M453.7 85.0h1.9M458.2 88.4h1.9M451.5 88.5h1.9M453.0 103.3h1.9M458.0 108.0h1.9M469.3 109.4h1.9M466.1 107.7h1.9M465.0 82.6h1.9M467.9 95.6h1.9M467.4 98.5h1.9M462.8 103.0h1.9M466.8 86.7h1.9M467.6 84.4h1.9M464.1 107.0h1.9M466.5 99.3h1.9M466.1 100.8h1.9M467.7 89.4h1.9M468.5 101.9h1.9M463.3 90.1h1.9M466.4 94.0h1.9M462.6 77.1h1.9M468.1 102.1h1.9M467.4 84.4h1.9M468.1 102.9h1.9M463.0 95.0h1.9M463.4 110.0h1.9M462.3 98.6h1.9M478.9 107.1h1.9M478.3 89.6h1.9M482.4 97.3h1.9M485.5 92.2h1.9M478.2 101.8h1.9M482.8 95.4h1.9M481.7 112.3h1.9M476.4 100.3h1.9M479.0 106.8h1.9M479.2 102.9h1.9M478.3 96.4h1.9M474.6 96.4h1.9M474.2 93.7h1.9M477.5 95.9h1.9M478.1 101.6h1.9M484.5 108.5h1.9M474.6 81.3h1.9M478.7 85.3h1.9M477.0 91.1h1.9M482.9 104.1h1.9M480.6 75.4h1.9M476.1 108.9h1.9M478.3 84.4h1.9M473.3 94.8h1.9M479.3 79.0h1.9M482.8 87.6h1.9M483.2 78.2h1.9M477.8 99.5h1.9M484.4 114.2h1.9M475.5 101.9h1.9M478.1 104.0h1.9M477.8 80.2h1.9M477.6 101.4h1.9M480.3 100.5h1.9M477.9 91.8h1.9M477.2 70.7h1.9M482.1 88.6h1.9M474.1 90.6h1.9M474.7 92.5h1.9M482.9 92.3h1.9M479.8 101.6h1.9M474.2 86.2h1.9M478.6 90.9h1.9M478.7 88.8h1.9M476.8 95.1h1.9M480.5 89.5h1.9M482.5 91.5h1.9M477.9 90.2h1.9M478.4 110.3h1.9M476.0 110.1h1.9M485.0 79.9h1.9M478.3 75.8h1.9M473.6 87.9h1.9M478.3 90.3h1.9M478.6 89.6h1.9M483.9 100.5h1.9M477.3 89.2h1.9M482.9 110.4h1.9M478.8 108.1h1.9M478.5 105.8h1.9M478.5 109.8h1.9M474.3 102.8h1.9M478.3 88.1h1.9M476.5 92.5h1.9M473.8 109.1h1.9M478.4 80.1h1.9M482.7 99.4h1.9M478.0 89.5h1.9M483.3 100.7h1.9M485.2 99.2h1.9M479.0 96.6h1.9M482.6 121.1h1.9M485.3 73.7h1.9M485.4 94.0h1.9M482.6 97.4h1.9M478.8 77.0h1.9M473.8 88.8h1.9M473.5 96.4h1.9M482.3 83.4h1.9M482.4 88.3h1.9M476.0 102.3h1.9M485.1 105.2h1.9M478.2 82.6h1.9M478.3 98.8h1.9M477.1 84.1h1.9M473.4 97.1h1.9M480.7 104.3h1.9M477.6 117.6h1.9M482.1 104.2h1.9M483.7 98.4h1.9M474.9 70.4h1.9M483.0 73.5h1.9M477.7 77.7h1.9M478.2 95.9h1.9M478.6 104.5h1.9M476.5 101.4h1.9M478.5 102.2h1.9M478.6 79.4h1.9M477.8 105.5h1.9M478.8 104.0h1.9M479.4 94.7h1.9M478.3 106.5h1.9M478.7 96.8h1.9M478.6 89.5h1.9M482.3 78.4h1.9M477.7 87.3h1.9M473.0 115.0h1.9M478.1 96.1h1.9M482.0 99.1h1.9M480.0 90.1h1.9M478.4 88.9h1.9M484.9 102.4h1.9M482.5 91.8h1.9M484.6 85.9h1.9M478.2 90.6h1.9M478.1 79.3h1.9M479.1 101.8h1.9M476.7 92.8h1.9M478.3 70.9h1.9M473.2 96.7h1.9M478.7 100.0h1.9M482.5 82.5h1.9M472.9 92.3h1.9M474.0 90.5h1.9M477.9 86.5h1.9M496.5 104.8h1.9M496.9 111.3h1.9M493.1 109.5h1.9M496.4 92.0h1.9M497.8 101.6h1.9M496.6 98.5h1.9M490.0 86.3h1.9M498.3 88.6h1.9M492.8 99.6h1.9M497.6 100.6h1.9M490.3 94.0h1.9M494.9 79.1h1.9M494.1 79.5h1.9M496.5 78.2h1.9M492.0 97.7h1.9M496.5 96.7h1.9M489.5 107.2h1.9M498.9 103.8h1.9M496.7 99.6h1.9M498.6 101.5h1.9M495.1 103.4h1.9M494.2 78.2h1.9M491.7 84.8h1.9M489.8 93.7h1.9M494.0 114.9h1.9M497.3 99.6h1.9M496.5 78.6h1.9M489.3 95.5h1.9M491.8 84.1h1.9M493.1 98.1h1.9M491.2 110.4h1.9M496.5 83.9h1.9M491.2 97.6h1.9M511.0 104.9h1.9M511.4 98.1h1.9M510.0 105.1h1.9M511.3 81.7h1.9M511.1 97.5h1.9M508.8 87.2h1.9M508.5 93.6h1.9M509.1 90.7h1.9M511.9 99.9h1.9M506.7 87.4h1.9M511.9 100.6h1.9M507.0 102.6h1.9M507.6 96.9h1.9M511.0 94.1h1.9M507.6 90.0h1.9M509.6 86.0h1.9M507.5 98.3h1.9M511.9 101.5h1.9M511.7 93.1h1.9M512.0 105.4h1.9M510.1 93.9h1.9M509.0 79.0h1.9M507.1 89.5h1.9M511.5 93.2h1.9M509.0 90.2h1.9" stroke="#ee1c24" stroke-width="1.5" stroke-opacity="0.58" fill="none"/>
<path d="M100.6 66.8h2.1M97.2 72.5h2.1M100.0 53.4h2.1M94.4 36.1h2.1M111.0 79.0h2.1M106.6 70.9h2.1M95.1 93.4h2.1M101.9 58.9h2.1M101.2 61.6h2.1M95.9 59.3h2.1M98.3 70.0h2.1M102.7 75.3h2.1M109.5 89.0h2.1M95.2 61.5h2.1M102.6 61.0h2.1M102.1 64.0h2.1M110.2 81.6h2.1M102.1 50.7h2.1M105.7 77.2h2.1M97.9 79.0h2.1M102.5 89.3h2.1M104.7 42.8h2.1M110.3 90.3h2.1M102.7 46.0h2.1M110.4 74.4h2.1M102.1 74.2h2.1M94.6 65.1h2.1M95.6 44.3h2.1M102.2 39.4h2.1M102.9 65.2h2.1M106.0 39.0h2.1M106.6 63.6h2.1M107.5 45.8h2.1M102.7 80.7h2.1M109.8 81.9h2.1M109.1 71.7h2.1M108.4 68.7h2.1M96.5 49.0h2.1M93.7 67.8h2.1M95.9 70.7h2.1M96.8 68.2h2.1M106.6 89.9h2.1M102.7 63.1h2.1M107.3 78.8h2.1M105.4 61.5h2.1M94.3 70.6h2.1M102.0 24.6h2.1M102.4 66.0h2.1M105.7 64.6h2.1M104.0 61.8h2.1M96.0 63.8h2.1M95.8 75.4h2.1M110.3 53.6h2.1M98.9 43.0h2.1M100.1 33.5h2.1M108.5 45.3h2.1M105.0 72.9h2.1M110.0 47.8h2.1M102.2 73.1h2.1M108.4 85.0h2.1M102.8 71.1h2.1M95.8 78.7h2.1M96.2 72.2h2.1M104.4 52.4h2.1M98.4 73.9h2.1M98.5 76.7h2.1M110.8 78.7h2.1M106.5 38.9h2.1M111.2 83.7h2.1M100.4 39.0h2.1M110.2 84.2h2.1M101.4 70.5h2.1M106.4 54.4h2.1M110.1 77.9h2.1M104.2 72.8h2.1M101.2 81.7h2.1M110.8 53.1h2.1M102.4 74.3h2.1M109.5 78.1h2.1M102.8 82.4h2.1M95.5 46.2h2.1M110.3 58.3h2.1M100.9 90.1h2.1M102.5 79.3h2.1M110.3 64.2h2.1M110.0 73.2h2.1M109.1 80.0h2.1M94.0 92.6h2.1M109.6 71.0h2.1M107.9 39.1h2.1M105.1 80.8h2.1M106.4 68.0h2.1M109.6 42.8h2.1M110.2 76.9h2.1M96.8 71.8h2.1M106.7 62.5h2.1M107.6 94.0h2.1M103.3 75.1h2.1M106.8 57.7h2.1M106.5 74.0h2.1M103.4 73.4h2.1M95.8 44.9h2.1M96.9 47.8h2.1M107.7 95.4h2.1M102.7 38.8h2.1M105.0 58.7h2.1M101.6 68.8h2.1M110.7 89.8h2.1M98.7 71.0h2.1M98.2 19.1h2.1M104.5 65.8h2.1M102.5 62.5h2.1M98.7 63.4h2.1M102.7 69.5h2.1M102.6 95.7h2.1M94.6 74.9h2.1M110.7 70.2h2.1M96.7 77.2h2.1M107.2 72.0h2.1M109.3 66.2h2.1M102.7 59.7h2.1M102.5 55.7h2.1M102.2 69.2h2.1M107.5 69.0h2.1M93.5 82.9h2.1M109.6 53.8h2.1M100.6 75.9h2.1M101.8 73.6h2.1M110.5 62.9h2.1M113.5 89.3h2.1M113.2 79.5h2.1M120.1 71.8h2.1M111.6 31.2h2.1M123.3 88.9h2.1M123.1 54.2h2.1M123.9 59.8h2.1M119.3 81.4h2.1M112.4 62.7h2.1M122.4 79.1h2.1M116.1 73.8h2.1M121.9 79.5h2.1M115.6 45.5h2.1M117.8 42.7h2.1M112.0 87.9h2.1M122.2 48.4h2.1M114.9 53.0h2.1M112.8 74.2h2.1M117.7 96.5h2.1M123.5 83.8h2.1M119.9 81.7h2.1M111.5 77.6h2.1M123.4 50.6h2.1M119.7 25.0h2.1M121.3 68.8h2.1M114.0 82.2h2.1M125.2 65.5h2.1M125.3 57.2h2.1M131.7 77.8h2.1M129.4 74.8h2.1M134.9 57.6h2.1M132.0 64.1h2.1M130.9 52.8h2.1M130.7 77.4h2.1M134.5 47.3h2.1M127.8 61.6h2.1M125.2 58.0h2.1M133.0 86.0h2.1M129.8 35.0h2.1M128.7 70.6h2.1M127.9 68.0h2.1M133.2 77.7h2.1M132.0 60.8h2.1M133.8 53.6h2.1M124.3 31.2h2.1M128.0 58.0h2.1M129.9 91.7h2.1M126.9 69.3h2.1M136.8 36.5h2.1M133.9 79.1h2.1M133.6 67.6h2.1M132.7 54.5h2.1M125.7 67.7h2.1M127.5 74.5h2.1M135.7 92.8h2.1M127.9 82.9h2.1M129.6 66.1h2.1M125.4 95.0h2.1M134.5 58.9h2.1M125.1 53.1h2.1M134.9 41.7h2.1M136.1 60.6h2.1M136.4 47.8h2.1M129.5 77.0h2.1M126.6 66.7h2.1M131.6 80.0h2.1M136.0 79.9h2.1M126.1 43.2h2.1M132.7 46.1h2.1M136.8 80.5h2.1M130.2 85.5h2.1M132.2 76.9h2.1M134.7 62.7h2.1M136.4 56.1h2.1M133.8 78.9h2.1M129.7 68.9h2.1M130.8 68.6h2.1M132.2 73.9h2.1M135.7 82.1h2.1M126.3 65.4h2.1M129.1 52.6h2.1M134.0 61.0h2.1M134.7 86.7h2.1M127.9 77.8h2.1M130.0 61.0h2.1M134.7 77.3h2.1M126.4 76.8h2.1M134.0 61.5h2.1M130.6 42.7h2.1M126.4 36.4h2.1M130.1 39.7h2.1M130.2 58.9h2.1M133.6 86.9h2.1M133.6 67.1h2.1M126.6 50.9h2.1M126.4 48.4h2.1M133.4 42.1h2.1M130.4 50.7h2.1M129.3 65.7h2.1M130.5 82.4h2.1M139.7 82.3h2.1M140.7 83.0h2.1M139.8 78.4h2.1M139.3 84.1h2.1M146.3 56.7h2.1M142.2 83.5h2.1M141.2 60.7h2.1M142.8 75.8h2.1M140.0 60.5h2.1M142.5 66.2h2.1M140.2 81.8h2.1M143.5 68.9h2.1M145.9 63.2h2.1M145.2 75.5h2.1M142.9 49.8h2.1M143.1 50.5h2.1M143.2 64.7h2.1M146.5 73.8h2.1M170.5 86.2h2.1M172.2 85.2h2.1M170.9 53.0h2.1M174.4 81.7h2.1M176.9 87.5h2.1M175.7 82.3h2.1M171.9 79.8h2.1M171.5 70.7h2.1M188.3 83.8h2.1M187.6 93.8h2.1M182.7 84.1h2.1M183.6 69.0h2.1M189.6 82.0h2.1M182.5 53.6h2.1M187.0 55.2h2.1M182.6 47.1h2.1M189.1 84.1h2.1M179.7 96.0h2.1M184.7 87.7h2.1M179.9 69.6h2.1M186.8 83.8h2.1M188.6 85.9h2.1M189.4 82.2h2.1M185.0 50.1h2.1M183.0 56.9h2.1M184.2 85.0h2.1M189.9 63.4h2.1M180.3 82.9h2.1M180.1 73.5h2.1M180.2 68.0h2.1M181.1 92.3h2.1M189.8 76.1h2.1M186.5 90.5h2.1M185.2 80.4h2.1M188.9 78.4h2.1M179.5 55.7h2.1M187.4 62.2h2.1M186.7 76.6h2.1M233.8 55.9h2.1M234.0 81.2h2.1M235.2 64.9h2.1M233.4 87.9h2.1M233.9 83.4h2.1M234.9 46.1h2.1M233.5 80.9h2.1M234.3 84.7h2.1M234.7 76.5h2.1M234.0 84.3h2.1M233.2 78.9h2.1M234.2 65.0h2.1M234.3 99.4h2.1M234.4 97.3h2.1M240.1 86.0h2.1M252.8 84.7h2.1M252.5 73.3h2.1M252.5 91.5h2.1M251.5 72.4h2.1M252.8 88.3h2.1M253.4 85.3h2.1M253.7 47.0h2.1M253.8 98.3h2.1M252.3 87.2h2.1M270.8 41.7h2.1M271.1 53.0h2.1M292.7 82.3h2.1M283.9 113.9h2.1M289.4 81.0h2.1M287.6 84.5h2.1M289.1 108.4h2.1M281.8 101.7h2.1M284.9 82.3h2.1M292.0 91.8h2.1M288.3 76.3h2.1M288.6 92.4h2.1M283.6 46.2h2.1M288.3 98.7h2.1M282.4 61.6h2.1M292.0 85.3h2.1M285.3 87.3h2.1M280.6 100.2h2.1M286.6 61.6h2.1M288.3 74.7h2.1M286.1 68.4h2.1M288.6 83.9h2.1M289.2 63.7h2.1M288.6 87.4h2.1M286.3 61.1h2.1M287.8 84.5h2.1M283.8 75.8h2.1M289.8 38.0h2.1M291.9 67.8h2.1M283.4 64.4h2.1M283.1 97.6h2.1M286.7 98.0h2.1M289.8 92.0h2.1M286.2 54.5h2.1M290.9 71.3h2.1M288.1 78.3h2.1M288.6 108.1h2.1M283.8 67.7h2.1M288.8 90.0h2.1M284.4 101.9h2.1M288.1 80.5h2.1M290.8 84.9h2.1M284.7 104.8h2.1M289.5 88.1h2.1M291.0 91.2h2.1M278.8 89.9h2.1M278.1 82.3h2.1M280.6 71.5h2.1M292.2 55.6h2.1M279.9 82.3h2.1M288.2 81.8h2.1M284.6 68.9h2.1M284.3 57.7h2.1M288.6 92.3h2.1M285.3 61.1h2.1M281.2 69.2h2.1M286.4 84.7h2.1M283.4 92.1h2.1M284.4 69.7h2.1M288.6 37.1h2.1M291.4 74.3h2.1M284.1 90.6h2.1M282.1 76.2h2.1M284.9 64.1h2.1M278.1 85.7h2.1M281.5 80.1h2.1M283.4 87.7h2.1M284.7 77.2h2.1M287.8 70.1h2.1M290.4 60.9h2.1M282.6 77.3h2.1M288.2 72.1h2.1M285.5 98.2h2.1M284.8 80.8h2.1M280.7 86.9h2.1M288.4 81.8h2.1M291.9 83.9h2.1M289.2 93.3h2.1M287.9 60.7h2.1M277.9 86.6h2.1M285.6 90.3h2.1M281.5 96.6h2.1M284.7 85.3h2.1M280.8 88.0h2.1M290.0 81.4h2.1M292.0 84.1h2.1M291.6 88.7h2.1M287.7 74.6h2.1M288.8 44.5h2.1M288.6 69.5h2.1M290.2 82.3h2.1M284.1 68.5h2.1M284.0 91.6h2.1M278.2 63.0h2.1M288.4 66.9h2.1M291.8 89.6h2.1M280.0 96.1h2.1M287.9 72.7h2.1M292.6 51.9h2.1M289.4 87.3h2.1M285.7 89.0h2.1M288.2 49.4h2.1M281.1 75.7h2.1M292.5 96.7h2.1M284.4 87.2h2.1M288.6 90.1h2.1M278.6 65.0h2.1M288.9 79.7h2.1M280.6 99.8h2.1M281.8 81.0h2.1M291.2 60.7h2.1M288.8 82.0h2.1M281.3 81.4h2.1M287.8 88.6h2.1M287.1 78.5h2.1M280.5 87.5h2.1M291.1 91.1h2.1M289.8 65.4h2.1M286.1 49.5h2.1M287.9 79.6h2.1M281.4 83.9h2.1M292.6 88.7h2.1M280.8 63.3h2.1M281.4 76.1h2.1M280.7 63.1h2.1M287.3 108.0h2.1M288.8 49.5h2.1M280.7 79.8h2.1M281.1 52.6h2.1M284.6 85.8h2.1M278.3 67.1h2.1M286.3 90.3h2.1M279.8 91.0h2.1M289.9 87.6h2.1M291.2 38.8h2.1M283.2 81.2h2.1M288.8 74.5h2.1M284.4 95.3h2.1M292.1 96.5h2.1M288.4 63.1h2.1M279.1 61.5h2.1M281.2 53.4h2.1M292.4 100.4h2.1M280.1 88.6h2.1M290.1 75.0h2.1M279.7 97.7h2.1M281.8 95.2h2.1M278.1 80.9h2.1M281.6 34.4h2.1M279.6 89.9h2.1M288.5 76.8h2.1M280.7 97.2h2.1M282.0 79.9h2.1M292.6 77.7h2.1M289.4 77.0h2.1M287.8 72.7h2.1M291.8 80.5h2.1M280.5 90.9h2.1M288.8 88.6h2.1M292.3 71.7h2.1M288.2 46.5h2.1M285.9 85.9h2.1M292.3 80.5h2.1M280.9 69.4h2.1M285.5 90.8h2.1M291.5 87.3h2.1M285.8 84.9h2.1M291.5 95.9h2.1M292.6 71.8h2.1M291.9 93.6h2.1M290.5 69.8h2.1M279.4 39.4h2.1M292.6 83.8h2.1M289.9 92.2h2.1M278.4 99.4h2.1M287.1 65.9h2.1M284.3 84.9h2.1M286.1 68.9h2.1M287.7 55.7h2.1M284.4 45.2h2.1M284.1 86.7h2.1M292.4 73.6h2.1M278.4 78.3h2.1M282.9 89.1h2.1M284.5 71.3h2.1M283.8 73.5h2.1M288.0 95.9h2.1M286.4 89.8h2.1M283.4 47.0h2.1M287.3 94.6h2.1M280.7 59.1h2.1M287.8 88.4h2.1M291.9 40.3h2.1M284.5 59.5h2.1M279.2 83.8h2.1M292.4 104.6h2.1M281.2 81.4h2.1M288.1 103.7h2.1M287.3 68.2h2.1M289.0 85.6h2.1M288.4 56.8h2.1M286.0 65.9h2.1M281.6 68.4h2.1M288.3 77.7h2.1M281.1 84.3h2.1M286.8 102.9h2.1M284.4 74.8h2.1M291.9 61.3h2.1M288.3 63.2h2.1M291.1 103.4h2.1M280.9 29.3h2.1M280.4 73.3h2.1M279.2 56.0h2.1M285.2 72.0h2.1M278.9 52.4h2.1M288.1 64.0h2.1M288.5 98.5h2.1M280.8 94.6h2.1M292.1 93.6h2.1M292.2 74.8h2.1M286.3 104.1h2.1M291.2 89.2h2.1M282.0 76.0h2.1M286.5 87.5h2.1M279.4 68.3h2.1M292.2 91.7h2.1M278.2 86.6h2.1M286.6 84.2h2.1M292.0 85.9h2.1M283.6 89.3h2.1M289.2 59.1h2.1M286.4 77.6h2.1M283.5 86.0h2.1M291.2 89.3h2.1M289.3 88.9h2.1M291.7 70.8h2.1M285.5 93.4h2.1M281.1 40.1h2.1M285.1 81.4h2.1M284.4 69.1h2.1M292.6 81.0h2.1M292.1 80.7h2.1M288.4 51.8h2.1M291.3 77.1h2.1M292.1 58.4h2.1M288.7 82.1h2.1M291.6 81.7h2.1M292.1 65.1h2.1M287.0 94.8h2.1M285.4 84.9h2.1M284.3 73.6h2.1M283.8 84.2h2.1M284.2 84.9h2.1M278.2 90.0h2.1M288.4 86.3h2.1M289.3 62.2h2.1M285.5 47.4h2.1M290.1 79.6h2.1M291.6 93.1h2.1M279.0 80.6h2.1M279.5 93.3h2.1M290.5 89.0h2.1M292.3 72.7h2.1M281.8 74.6h2.1M283.5 70.1h2.1M282.5 86.1h2.1M286.8 89.6h2.1M288.7 83.5h2.1M291.7 83.0h2.1M288.3 87.6h2.1M281.3 102.2h2.1M279.5 63.1h2.1M289.4 71.9h2.1M280.8 113.6h2.1M286.7 87.2h2.1M283.0 90.3h2.1M285.2 74.9h2.1M279.4 82.9h2.1M288.6 52.7h2.1M290.4 43.5h2.1M290.0 57.1h2.1M292.2 66.1h2.1M287.8 41.4h2.1M278.0 91.2h2.1M277.8 77.6h2.1M290.3 99.5h2.1M285.2 80.9h2.1M288.5 85.5h2.1M282.2 50.5h2.1M291.9 82.3h2.1M281.3 53.3h2.1M290.1 68.6h2.1M286.9 68.2h2.1M279.5 68.6h2.1M284.6 82.3h2.1M279.1 55.2h2.1M284.4 83.9h2.1M280.3 54.3h2.1M280.0 79.7h2.1M286.2 88.1h2.1M292.7 74.3h2.1M291.0 94.9h2.1M277.8 84.7h2.1M280.4 77.5h2.1M288.2 90.9h2.1M281.5 98.5h2.1M287.5 55.7h2.1M288.1 95.6h2.1M288.0 79.9h2.1M292.3 74.3h2.1M282.6 71.6h2.1M290.4 59.5h2.1M288.5 83.6h2.1M283.8 84.9h2.1M291.2 75.4h2.1M280.9 94.8h2.1M282.4 82.7h2.1M280.3 68.6h2.1M281.5 69.7h2.1M281.5 72.9h2.1M291.6 92.7h2.1M282.4 94.8h2.1M284.1 88.9h2.1M289.5 97.6h2.1M288.4 66.9h2.1M290.8 67.6h2.1M280.9 72.8h2.1M285.4 78.3h2.1M281.8 82.5h2.1M280.3 108.6h2.1M283.1 96.7h2.1M287.9 77.3h2.1M283.6 66.2h2.1M281.6 83.9h2.1M282.9 103.4h2.1M283.2 81.1h2.1M283.7 98.4h2.1M292.0 59.8h2.1M289.8 85.2h2.1M291.6 68.1h2.1M281.4 87.2h2.1M288.5 60.6h2.1M285.2 74.2h2.1M292.3 88.0h2.1M288.8 59.9h2.1M280.6 70.3h2.1M282.5 84.3h2.1M286.8 107.3h2.1M286.7 64.5h2.1M288.6 88.3h2.1M281.3 95.8h2.1M288.3 76.7h2.1M284.3 89.8h2.1M287.2 58.9h2.1M279.0 73.4h2.1M281.2 60.2h2.1M280.8 93.2h2.1M288.5 61.5h2.1M290.5 68.2h2.1M282.3 83.7h2.1M280.7 60.1h2.1M285.2 57.0h2.1M291.8 95.3h2.1M284.7 103.6h2.1M355.2 62.2h2.1M353.5 82.1h2.1M349.9 63.1h2.1M353.2 91.9h2.1M350.0 83.9h2.1M353.5 77.0h2.1M353.9 126.8h2.1M350.0 99.0h2.1M355.5 84.3h2.1M355.9 85.4h2.1M352.8 101.5h2.1M354.8 75.6h2.1M351.8 74.1h2.1M363.4 71.8h2.1M363.8 102.8h2.1M363.3 70.7h2.1M363.7 106.3h2.1M365.0 59.4h2.1M364.0 76.1h2.1M364.2 22.4h2.1M364.0 53.0h2.1M363.9 103.9h2.1M363.7 94.8h2.1M419.7 82.9h2.1M419.6 33.3h2.1M422.1 82.1h2.1M418.3 99.7h2.1M419.2 98.6h2.1M423.8 85.1h2.1M423.5 93.7h2.1M419.8 63.7h2.1M421.3 42.5h2.1M424.8 92.1h2.1M419.0 69.6h2.1M418.3 100.7h2.1M419.4 40.0h2.1M430.4 100.8h2.1M430.0 92.3h2.1M430.3 74.8h2.1M430.4 50.1h2.1" stroke="#47aa43" stroke-width="1.6" stroke-opacity="0.58" fill="none"/>
<path d="M109.6 72.3h2.1M105.0 72.6h2.1M107.6 89.3h2.1M111.0 61.3h2.1M110.3 67.9h2.1M103.7 55.6h2.1M96.2 42.2h2.1M107.4 83.0h2.1M93.9 69.7h2.1M110.4 71.3h2.1M102.8 65.4h2.1M102.6 78.1h2.1M111.0 74.6h2.1M105.6 83.3h2.1M103.4 76.9h2.1M99.8 38.9h2.1M108.1 60.6h2.1M106.4 74.0h2.1M108.6 51.9h2.1M103.1 72.2h2.1M99.5 66.0h2.1M102.4 46.9h2.1M93.7 72.9h2.1M101.3 71.1h2.1M105.8 71.0h2.1M100.1 77.7h2.1M110.5 63.4h2.1M110.3 75.6h2.1M96.9 45.6h2.1M94.5 71.6h2.1M96.9 65.6h2.1M95.3 59.6h2.1M98.0 78.1h2.1M106.3 49.6h2.1M96.3 66.7h2.1M97.1 35.2h2.1M94.0 65.0h2.1M98.9 52.5h2.1M102.8 84.6h2.1M106.8 65.5h2.1M96.9 81.2h2.1M93.3 78.0h2.1M96.9 31.9h2.1M110.8 70.1h2.1M104.1 81.3h2.1M102.8 73.1h2.1M102.6 65.8h2.1M107.3 47.3h2.1M102.1 81.3h2.1M110.0 48.5h2.1M110.2 61.2h2.1M98.9 62.3h2.1M111.2 82.9h2.1M93.5 72.3h2.1M96.3 41.9h2.1M109.8 65.1h2.1M111.1 60.2h2.1M102.3 74.6h2.1M111.1 42.3h2.1M101.5 36.1h2.1M102.2 59.4h2.1M93.9 71.7h2.1M111.2 64.5h2.1M95.0 59.1h2.1M103.3 94.3h2.1M98.6 66.1h2.1M97.7 57.5h2.1M100.3 76.3h2.1M95.1 80.1h2.1M109.8 34.7h2.1M107.1 61.7h2.1M95.8 82.4h2.1M101.2 68.5h2.1M102.6 54.1h2.1M96.2 99.6h2.1M106.2 74.0h2.1M106.7 77.2h2.1M94.8 50.4h2.1M99.1 74.2h2.1M101.1 41.8h2.1M97.8 83.7h2.1M102.0 53.3h2.1M97.5 85.6h2.1M102.1 77.8h2.1M103.0 81.2h2.1M111.0 55.0h2.1M109.4 94.4h2.1M96.9 65.3h2.1M105.3 45.7h2.1M103.5 61.5h2.1M99.9 78.8h2.1M106.3 77.4h2.1M99.7 67.3h2.1M106.8 69.3h2.1M106.2 57.9h2.1M111.0 84.2h2.1M103.4 58.8h2.1M106.4 55.3h2.1M99.5 60.7h2.1M106.2 77.4h2.1M102.9 54.3h2.1M106.3 43.0h2.1M111.1 66.5h2.1M98.2 81.6h2.1M109.4 64.7h2.1M113.3 72.9h2.1M112.9 84.8h2.1M123.6 86.5h2.1M117.8 67.9h2.1M114.3 52.6h2.1M123.0 43.5h2.1M120.3 88.1h2.1M123.8 84.3h2.1M119.3 53.2h2.1M114.4 71.1h2.1M116.7 43.0h2.1M116.9 77.2h2.1M117.8 62.1h2.1M122.6 36.3h2.1M112.3 78.6h2.1M112.8 76.8h2.1M123.5 73.6h2.1M111.4 73.2h2.1M116.0 66.1h2.1M115.3 91.4h2.1M122.9 64.6h2.1M120.5 53.5h2.1M121.6 82.7h2.1M116.5 65.2h2.1M112.2 68.6h2.1M118.1 72.0h2.1M115.1 82.1h2.1M116.4 69.6h2.1M113.0 56.8h2.1M112.6 68.1h2.1M123.6 48.9h2.1M116.9 64.6h2.1M115.3 80.5h2.1M119.1 56.2h2.1M116.2 63.6h2.1M129.6 56.1h2.1M132.1 70.7h2.1M130.7 66.3h2.1M134.1 46.4h2.1M132.4 33.2h2.1M127.6 52.4h2.1M131.8 65.1h2.1M126.3 71.5h2.1M124.5 48.7h2.1M136.0 81.0h2.1M135.7 93.5h2.1M137.2 76.5h2.1M125.8 40.8h2.1M131.5 55.1h2.1M134.5 66.0h2.1M131.1 78.0h2.1M131.8 78.6h2.1M129.5 85.9h2.1M128.3 71.3h2.1M131.1 52.0h2.1M130.6 81.2h2.1M135.1 87.6h2.1M133.5 54.8h2.1M136.9 63.6h2.1M131.8 50.9h2.1M130.8 86.2h2.1M125.4 69.2h2.1M132.1 59.7h2.1M137.1 71.1h2.1M127.1 66.6h2.1M136.6 39.9h2.1M134.5 73.8h2.1M127.9 75.9h2.1M136.1 67.3h2.1M133.8 75.7h2.1M126.8 71.7h2.1M134.8 62.4h2.1M124.6 66.7h2.1M134.0 82.6h2.1M134.4 52.8h2.1M124.7 77.5h2.1M131.2 65.8h2.1M136.7 80.0h2.1M126.3 62.3h2.1M134.2 57.5h2.1M134.0 40.5h2.1M126.8 72.8h2.1M135.3 89.8h2.1M126.4 22.9h2.1M125.2 65.3h2.1M128.2 104.1h2.1M133.9 24.0h2.1M125.3 72.1h2.1M130.0 57.5h2.1M135.8 63.2h2.1M134.2 55.6h2.1M125.0 84.6h2.1M129.3 63.9h2.1M135.0 72.3h2.1M125.9 32.7h2.1M136.2 27.8h2.1M134.2 73.5h2.1M134.2 68.4h2.1M132.4 59.6h2.1M135.9 76.1h2.1M128.5 85.5h2.1M134.9 71.3h2.1M134.2 71.4h2.1M136.8 67.6h2.1M128.0 77.4h2.1M134.8 59.8h2.1M132.8 69.2h2.1M129.8 73.5h2.1M130.9 76.3h2.1M126.2 88.0h2.1M130.6 70.4h2.1M132.6 49.0h2.1M129.6 74.3h2.1M135.1 67.9h2.1M134.2 72.3h2.1M129.8 74.5h2.1M125.8 32.3h2.1M136.9 87.5h2.1M130.1 23.3h2.1M130.2 51.1h2.1M126.8 91.8h2.1M125.5 52.0h2.1M144.4 74.3h2.1M146.1 62.7h2.1M139.7 57.4h2.1M140.2 51.0h2.1M139.9 63.6h2.1M142.9 85.7h2.1M137.5 85.3h2.1M145.0 77.7h2.1M139.8 42.6h2.1M140.0 98.5h2.1M144.9 70.9h2.1M139.0 75.2h2.1M173.9 56.2h2.1M178.1 88.6h2.1M178.8 84.6h2.1M175.9 88.6h2.1M173.8 57.3h2.1M170.7 79.8h2.1M170.2 15.6h2.1M175.4 97.0h2.1M171.6 70.9h2.1M174.1 93.0h2.1M174.8 55.9h2.1M174.9 92.8h2.1M174.5 68.1h2.1M179.5 82.5h2.1M171.5 96.2h2.1M170.9 71.2h2.1M186.5 78.0h2.1M185.9 75.6h2.1M187.4 72.7h2.1M190.0 65.4h2.1M188.4 83.0h2.1M188.4 77.4h2.1M188.5 76.3h2.1M190.5 88.1h2.1M181.2 78.3h2.1M184.5 88.9h2.1M185.6 86.0h2.1M188.8 61.2h2.1M182.4 59.5h2.1M179.9 92.4h2.1M187.0 68.8h2.1M182.0 88.0h2.1M182.2 71.4h2.1M183.5 67.8h2.1M188.8 53.6h2.1M182.0 53.3h2.1M186.9 59.5h2.1M182.8 65.3h2.1M184.7 52.1h2.1M188.9 69.4h2.1M189.9 56.9h2.1M189.6 86.6h2.1M183.6 92.9h2.1M185.6 61.6h2.1M184.9 66.7h2.1M187.3 38.3h2.1M182.1 78.8h2.1M187.9 89.5h2.1M183.4 78.3h2.1M185.2 44.6h2.1M189.2 83.9h2.1M231.8 79.9h2.1M232.3 49.7h2.1M233.0 85.4h2.1M235.7 75.8h2.1M233.2 91.9h2.1M231.1 67.3h2.1M234.0 84.9h2.1M232.4 107.8h2.1M233.9 67.0h2.1M234.1 60.3h2.1M232.3 47.9h2.1M234.5 63.6h2.1M240.4 63.4h2.1M239.5 90.9h2.1M239.5 66.6h2.1M241.0 82.9h2.1M252.1 72.8h2.1M253.4 57.5h2.1M252.6 21.7h2.1M251.7 64.5h2.1M252.7 88.4h2.1M251.5 78.7h2.1M252.0 69.4h2.1M253.9 72.1h2.1M271.4 69.2h2.1M278.0 69.4h2.1M284.9 65.7h2.1M281.1 104.8h2.1M291.5 82.8h2.1M278.6 87.6h2.1M290.2 83.9h2.1M288.0 91.7h2.1M282.5 72.6h2.1M285.3 81.2h2.1M286.2 84.6h2.1M279.6 62.0h2.1M278.9 71.9h2.1M286.1 95.5h2.1M289.2 45.3h2.1M292.7 102.0h2.1M286.6 87.7h2.1M288.2 91.2h2.1M288.5 116.1h2.1M288.9 71.8h2.1M288.7 82.4h2.1M287.5 97.3h2.1M290.0 95.9h2.1M284.6 67.9h2.1M284.0 68.4h2.1M281.2 73.8h2.1M282.1 92.9h2.1M283.5 46.7h2.1M284.7 79.5h2.1M292.7 97.9h2.1M282.2 59.4h2.1M288.3 76.0h2.1M283.0 98.4h2.1M285.9 84.9h2.1M286.1 90.6h2.1M290.0 90.4h2.1M281.2 87.9h2.1M289.4 67.5h2.1M282.6 67.7h2.1M288.3 85.5h2.1M290.0 65.5h2.1M292.5 93.0h2.1M281.8 84.4h2.1M284.2 64.6h2.1M288.1 40.6h2.1M288.2 77.6h2.1M286.4 85.5h2.1M284.5 80.1h2.1M281.9 91.8h2.1M290.8 71.1h2.1M282.1 78.7h2.1M288.5 93.0h2.1M288.9 38.5h2.1M281.4 66.4h2.1M288.4 82.5h2.1M288.4 58.0h2.1M288.3 84.7h2.1M279.6 70.1h2.1M277.8 99.9h2.1M280.5 62.2h2.1M283.3 83.6h2.1M284.9 89.4h2.1M282.1 87.3h2.1M280.1 82.6h2.1M288.9 85.0h2.1M280.5 57.8h2.1M288.3 75.2h2.1M281.5 76.8h2.1M281.1 61.3h2.1M286.5 103.7h2.1M292.4 94.0h2.1M282.4 67.6h2.1M292.6 101.4h2.1M278.6 81.8h2.1M286.5 86.8h2.1M286.4 90.4h2.1M288.1 85.4h2.1M283.2 48.4h2.1M278.8 103.6h2.1M282.0 93.8h2.1M283.9 83.9h2.1M280.3 79.8h2.1M286.9 95.6h2.1M283.4 98.5h2.1M286.1 58.7h2.1M285.3 89.6h2.1M291.6 93.3h2.1M279.0 60.8h2.1M291.0 72.6h2.1M284.1 54.4h2.1M278.5 72.6h2.1M288.4 95.9h2.1M284.0 90.4h2.1M282.4 96.7h2.1M288.0 80.2h2.1M280.8 95.8h2.1M292.6 83.9h2.1M288.4 92.7h2.1M285.2 59.9h2.1M281.6 92.8h2.1M279.2 101.8h2.1M278.7 91.7h2.1M284.5 98.1h2.1M288.2 43.6h2.1M283.8 66.9h2.1M283.6 71.9h2.1M288.3 82.5h2.1M278.2 88.8h2.1M282.9 51.6h2.1M282.8 85.8h2.1M283.5 83.4h2.1M283.1 64.0h2.1M280.4 97.3h2.1M286.4 105.5h2.1M290.7 81.4h2.1M286.6 84.5h2.1M283.1 55.0h2.1M285.0 66.6h2.1M288.7 95.0h2.1M287.2 81.0h2.1M283.7 90.9h2.1M280.0 85.0h2.1M278.1 64.9h2.1M291.0 69.5h2.1M282.6 74.3h2.1M285.9 72.5h2.1M280.5 91.6h2.1M284.9 79.1h2.1M290.1 75.9h2.1M278.5 74.1h2.1M292.6 87.0h2.1M283.0 53.2h2.1M281.4 82.1h2.1M290.3 86.4h2.1M283.0 74.4h2.1M280.0 52.4h2.1M291.3 91.2h2.1M283.6 99.1h2.1M287.8 75.7h2.1M290.2 79.8h2.1M290.5 73.0h2.1M283.8 69.8h2.1M281.8 40.4h2.1M281.1 81.2h2.1M283.1 84.0h2.1M289.0 88.4h2.1M288.7 68.8h2.1M283.1 74.4h2.1M278.1 77.5h2.1M280.0 70.0h2.1M280.8 105.5h2.1M278.1 76.7h2.1M290.2 62.8h2.1M290.4 74.9h2.1M287.9 94.8h2.1M289.4 89.9h2.1M279.6 79.4h2.1M280.6 64.5h2.1M288.5 56.4h2.1M288.3 104.9h2.1M288.5 69.2h2.1M292.0 91.9h2.1M288.3 83.8h2.1M283.4 69.9h2.1M280.8 83.4h2.1M281.0 76.3h2.1M285.7 84.8h2.1M288.0 78.9h2.1M281.2 105.6h2.1M283.9 82.2h2.1M280.9 93.0h2.1M278.8 84.0h2.1M288.4 106.3h2.1M286.9 54.9h2.1M284.1 87.5h2.1M290.0 72.1h2.1M279.4 58.5h2.1M282.2 99.6h2.1M279.4 81.1h2.1M280.1 91.4h2.1M282.7 81.2h2.1M286.2 83.2h2.1M291.9 47.4h2.1M286.7 101.6h2.1M280.5 69.9h2.1M292.2 83.5h2.1M292.0 74.9h2.1M285.0 80.3h2.1M290.7 82.0h2.1M288.1 87.1h2.1M280.5 61.7h2.1M288.3 76.5h2.1M285.4 86.8h2.1M279.2 91.8h2.1M288.2 83.5h2.1M282.9 89.5h2.1M288.5 98.2h2.1M280.8 70.0h2.1M292.5 68.3h2.1M283.4 80.8h2.1M288.2 99.0h2.1M278.4 59.5h2.1M284.2 92.8h2.1M278.8 120.8h2.1M289.3 71.4h2.1M280.7 86.6h2.1M291.8 72.8h2.1M292.2 90.8h2.1M280.7 83.5h2.1M279.4 86.6h2.1M288.9 100.8h2.1M291.6 92.1h2.1M288.4 81.1h2.1M284.9 110.8h2.1M282.8 106.4h2.1M280.5 87.2h2.1M285.2 93.6h2.1M291.4 70.9h2.1M288.9 61.8h2.1M288.8 38.4h2.1M282.9 103.5h2.1M279.1 70.6h2.1M282.7 91.6h2.1M280.6 82.2h2.1M290.6 81.6h2.1M288.5 77.8h2.1M277.9 80.4h2.1M288.1 90.2h2.1M280.8 72.0h2.1M287.2 100.2h2.1M283.8 63.8h2.1M292.1 95.9h2.1M282.5 73.0h2.1M286.2 78.2h2.1M290.8 92.1h2.1M282.7 82.3h2.1M277.9 85.6h2.1M279.0 77.3h2.1M288.4 95.0h2.1M281.6 64.7h2.1M287.9 64.4h2.1M286.3 94.3h2.1M292.6 89.4h2.1M284.5 68.5h2.1M279.9 61.2h2.1M281.3 80.1h2.1M284.9 89.3h2.1M291.5 76.6h2.1M280.2 65.6h2.1M278.7 64.1h2.1M292.2 101.4h2.1M290.0 89.7h2.1M284.6 78.0h2.1M286.4 78.0h2.1M291.2 78.3h2.1M281.7 95.2h2.1M283.8 82.0h2.1M287.9 63.9h2.1M284.3 82.6h2.1M282.1 83.7h2.1M291.6 82.3h2.1M282.8 83.1h2.1M289.2 80.8h2.1M288.9 83.3h2.1M288.2 80.8h2.1M291.8 82.7h2.1M290.4 64.6h2.1M288.6 92.5h2.1M288.9 80.6h2.1M292.2 96.9h2.1M279.3 52.6h2.1M283.3 72.7h2.1M287.7 87.7h2.1M287.1 74.0h2.1M287.1 68.8h2.1M282.4 62.6h2.1M284.2 74.5h2.1M281.8 100.3h2.1M284.6 97.8h2.1M283.0 57.1h2.1M279.9 89.1h2.1M288.6 91.9h2.1M286.5 97.2h2.1M277.9 65.3h2.1M288.2 76.7h2.1M290.0 91.1h2.1M284.7 74.7h2.1M284.3 99.7h2.1M284.8 84.9h2.1M286.3 94.9h2.1M278.2 75.3h2.1M278.5 90.8h2.1M278.0 50.3h2.1M281.0 81.0h2.1M287.6 91.9h2.1M291.8 69.0h2.1M284.4 95.0h2.1M280.9 58.1h2.1M291.1 84.7h2.1M284.1 71.3h2.1M285.0 81.8h2.1M289.9 84.3h2.1M286.1 110.7h2.1M280.7 92.1h2.1M284.1 93.1h2.1M284.4 81.0h2.1M291.1 82.0h2.1M288.0 51.2h2.1M292.2 90.0h2.1M282.0 98.3h2.1M280.0 78.9h2.1M279.1 90.4h2.1M287.3 74.3h2.1M288.0 55.9h2.1M291.6 80.8h2.1M279.7 62.5h2.1M289.7 57.7h2.1M283.8 53.4h2.1M283.7 83.4h2.1M280.5 87.6h2.1M283.3 58.5h2.1M292.0 75.0h2.1M288.1 108.0h2.1M291.7 103.4h2.1M287.8 71.4h2.1M286.9 102.2h2.1M281.7 80.5h2.1M284.6 95.6h2.1M282.1 55.4h2.1M281.9 71.3h2.1M288.7 80.5h2.1M282.6 63.2h2.1M284.2 81.5h2.1M284.1 91.4h2.1M288.1 41.9h2.1M290.9 90.7h2.1M281.2 73.2h2.1M292.6 70.9h2.1M280.1 76.8h2.1M287.7 74.6h2.1M279.1 89.6h2.1M278.8 90.4h2.1M288.1 55.2h2.1M289.7 44.4h2.1M290.0 49.1h2.1M283.9 109.2h2.1M284.2 51.3h2.1M288.1 70.2h2.1M288.0 53.4h2.1M290.6 48.8h2.1M279.3 84.4h2.1M288.3 84.1h2.1M278.9 68.3h2.1M287.7 106.3h2.1M280.2 58.7h2.1M284.8 90.6h2.1M280.7 65.6h2.1M282.4 86.9h2.1M288.0 61.2h2.1M291.8 94.3h2.1M284.6 101.6h2.1M281.4 91.4h2.1M283.5 63.2h2.1M286.7 72.8h2.1M283.8 74.1h2.1M285.3 95.9h2.1M288.8 102.2h2.1M283.2 80.9h2.1M283.7 86.9h2.1M288.3 79.2h2.1M280.0 73.5h2.1M292.3 84.4h2.1M288.5 85.0h2.1M281.1 73.3h2.1M288.1 86.2h2.1M289.2 77.3h2.1M283.4 67.6h2.1M283.0 59.6h2.1M287.0 84.6h2.1M290.9 77.5h2.1M288.3 88.3h2.1M281.7 78.2h2.1M282.5 82.0h2.1M284.8 86.7h2.1M288.2 91.7h2.1M351.3 77.4h2.1M355.9 46.9h2.1M355.3 94.2h2.1M351.4 51.8h2.1M350.8 75.3h2.1M355.5 50.0h2.1M355.9 42.5h2.1M350.5 80.9h2.1M350.9 72.6h2.1M355.8 65.0h2.1M350.5 60.3h2.1M351.6 70.6h2.1M363.8 87.8h2.1M364.0 82.6h2.1M362.9 113.9h2.1M364.9 27.2h2.1M365.4 69.8h2.1M365.4 50.0h2.1M362.9 75.7h2.1M364.3 81.8h2.1M364.5 71.7h2.1M363.6 96.3h2.1M363.5 92.8h2.1M363.7 78.8h2.1M364.0 85.2h2.1M363.9 92.1h2.1M362.9 107.3h2.1M362.6 47.6h2.1M363.4 97.8h2.1M422.8 85.0h2.1M423.6 100.3h2.1M425.2 33.0h2.1M418.6 59.8h2.1M426.0 44.8h2.1M418.9 95.4h2.1M419.5 77.6h2.1M420.1 47.1h2.1M419.1 65.6h2.1M426.2 84.2h2.1M426.0 66.1h2.1M423.6 79.1h2.1M424.6 93.5h2.1M421.9 49.5h2.1M425.7 67.8h2.1M419.6 57.4h2.1M420.5 108.7h2.1M420.9 94.6h2.1M430.9 67.6h2.1M429.4 98.0h2.1M430.0 62.0h2.1M429.2 103.4h2.1M429.9 117.4h2.1M431.0 59.3h2.1M430.2 59.2h2.1M429.3 86.2h2.1M430.0 106.5h2.1M428.9 87.0h2.1M428.9 105.1h2.1" stroke="#47aa43" stroke-width="1.6" stroke-opacity="0.58" fill="none"/>
<path d="M96.3 45.5h2.1M102.2 53.2h2.1M96.6 67.0h2.1M96.3 66.3h2.1M102.2 60.0h2.1M109.5 50.3h2.1M97.2 71.9h2.1M101.2 70.9h2.1M106.5 73.9h2.1M102.4 53.8h2.1M93.6 42.4h2.1M108.8 32.2h2.1M106.3 66.5h2.1M108.4 52.9h2.1M110.3 83.6h2.1M106.3 47.5h2.1M97.3 86.9h2.1M99.6 64.3h2.1M100.1 64.2h2.1M109.8 67.4h2.1M101.3 69.1h2.1M99.1 60.7h2.1M110.0 82.4h2.1M107.0 65.4h2.1M111.2 77.1h2.1M102.2 70.7h2.1M106.1 61.5h2.1M105.0 78.8h2.1M104.5 71.8h2.1M108.3 93.1h2.1M102.0 77.7h2.1M107.1 55.8h2.1M111.1 63.6h2.1M100.0 54.8h2.1M100.3 84.9h2.1M106.6 74.1h2.1M109.6 86.7h2.1M101.1 41.4h2.1M95.3 53.3h2.1M106.1 36.5h2.1M107.5 67.4h2.1M104.6 76.8h2.1M102.3 70.4h2.1M96.9 55.2h2.1M109.5 70.4h2.1M94.2 69.8h2.1M107.4 65.6h2.1M103.5 68.7h2.1M102.2 74.5h2.1M110.9 69.5h2.1M105.7 74.3h2.1M103.4 71.1h2.1M102.5 88.3h2.1M103.8 60.1h2.1M108.0 48.2h2.1M103.6 77.2h2.1M104.8 42.6h2.1M109.8 95.1h2.1M106.5 71.9h2.1M103.7 69.2h2.1M95.9 44.6h2.1M99.4 73.2h2.1M109.6 77.9h2.1M103.2 58.4h2.1M105.1 82.3h2.1M106.3 48.3h2.1M98.9 53.9h2.1M100.3 87.0h2.1M96.1 72.3h2.1M100.1 57.1h2.1M94.7 84.8h2.1M103.0 47.1h2.1M106.5 79.3h2.1M101.9 79.1h2.1M94.8 82.0h2.1M97.0 55.1h2.1M96.8 90.4h2.1M98.0 51.6h2.1M102.9 68.4h2.1M102.8 63.4h2.1M110.2 81.1h2.1M96.3 42.5h2.1M97.3 55.3h2.1M102.8 63.1h2.1M100.0 48.1h2.1M99.4 65.7h2.1M99.6 58.2h2.1M110.4 58.4h2.1M109.7 87.3h2.1M99.5 58.5h2.1M97.8 76.4h2.1M102.8 76.8h2.1M101.8 75.7h2.1M103.0 67.8h2.1M104.7 91.9h2.1M97.1 79.6h2.1M95.4 75.9h2.1M95.8 103.0h2.1M96.9 54.4h2.1M107.3 66.8h2.1M108.8 77.8h2.1M102.6 71.8h2.1M106.4 51.4h2.1M100.8 53.0h2.1M105.0 73.5h2.1M100.1 61.0h2.1M107.1 49.9h2.1M109.3 70.5h2.1M107.1 18.8h2.1M104.9 74.6h2.1M96.8 53.0h2.1M109.9 106.1h2.1M107.1 73.9h2.1M106.4 49.7h2.1M114.8 73.5h2.1M111.2 55.5h2.1M121.7 58.4h2.1M118.9 71.0h2.1M121.2 93.4h2.1M122.5 82.1h2.1M123.0 105.7h2.1M116.9 54.5h2.1M118.5 65.8h2.1M112.5 35.1h2.1M114.3 62.3h2.1M121.5 69.8h2.1M112.7 101.5h2.1M122.1 87.0h2.1M122.7 80.5h2.1M123.2 58.1h2.1M119.1 72.5h2.1M111.9 14.0h2.1M113.1 63.6h2.1M118.7 44.3h2.1M113.5 94.0h2.1M122.1 100.9h2.1M123.1 76.6h2.1M112.8 67.8h2.1M117.8 70.1h2.1M131.7 71.4h2.1M132.2 73.4h2.1M124.9 51.6h2.1M131.9 68.1h2.1M126.9 95.1h2.1M130.1 45.0h2.1M134.4 78.5h2.1M130.3 64.8h2.1M134.5 81.5h2.1M136.9 62.8h2.1M136.5 54.0h2.1M137.0 49.3h2.1M126.3 46.4h2.1M135.3 74.6h2.1M133.6 77.9h2.1M126.6 82.1h2.1M126.6 86.6h2.1M126.6 56.8h2.1M129.5 88.5h2.1M132.8 95.9h2.1M130.6 57.7h2.1M131.2 79.8h2.1M130.4 51.9h2.1M126.8 62.0h2.1M134.8 63.6h2.1M125.0 51.8h2.1M129.3 59.9h2.1M130.8 29.3h2.1M134.3 66.0h2.1M126.2 73.3h2.1M134.7 59.6h2.1M124.4 83.9h2.1M133.3 55.0h2.1M132.5 69.3h2.1M134.0 64.2h2.1M134.3 82.4h2.1M134.5 64.9h2.1M125.2 70.1h2.1M134.5 66.6h2.1M126.4 61.2h2.1M125.7 54.2h2.1M128.3 80.2h2.1M134.6 66.4h2.1M124.5 51.0h2.1M128.1 76.3h2.1M136.6 71.1h2.1M136.1 72.0h2.1M127.9 77.3h2.1M132.9 69.1h2.1M136.0 40.4h2.1M128.1 66.2h2.1M134.9 71.0h2.1M126.8 65.5h2.1M136.6 47.1h2.1M134.3 73.8h2.1M129.3 78.2h2.1M127.8 51.8h2.1M136.4 89.4h2.1M135.6 56.4h2.1M133.4 76.3h2.1M134.6 33.7h2.1M130.0 74.0h2.1M134.1 38.5h2.1M133.9 79.2h2.1M125.8 79.1h2.1M134.3 94.1h2.1M129.9 81.9h2.1M134.9 56.0h2.1M127.1 56.0h2.1M124.8 50.5h2.1M130.0 75.1h2.1M135.1 58.3h2.1M139.9 60.5h2.1M145.3 53.8h2.1M142.4 79.0h2.1M140.1 77.6h2.1M137.7 68.5h2.1M139.4 69.2h2.1M144.2 65.3h2.1M138.9 42.0h2.1M138.5 70.3h2.1M139.9 70.2h2.1M139.6 69.0h2.1M143.9 57.8h2.1M143.0 69.6h2.1M140.0 80.2h2.1M138.8 58.7h2.1M143.7 100.9h2.1M141.2 48.9h2.1M144.1 77.3h2.1M174.4 87.3h2.1M174.8 82.7h2.1M171.7 108.3h2.1M171.3 56.7h2.1M170.4 85.7h2.1M175.3 57.7h2.1M171.3 88.5h2.1M173.2 56.9h2.1M174.3 77.0h2.1M176.6 85.7h2.1M185.8 79.0h2.1M179.4 82.8h2.1M182.5 85.7h2.1M182.7 82.2h2.1M190.0 78.6h2.1M189.1 57.4h2.1M184.4 67.9h2.1M188.4 74.2h2.1M184.6 61.1h2.1M183.1 64.0h2.1M180.1 86.5h2.1M183.2 71.3h2.1M182.4 76.6h2.1M185.0 63.7h2.1M182.6 51.7h2.1M188.9 84.3h2.1M188.2 83.2h2.1M186.8 61.7h2.1M183.1 72.7h2.1M181.9 84.7h2.1M183.9 45.7h2.1M188.7 33.8h2.1M179.7 76.1h2.1M181.3 75.0h2.1M189.2 84.0h2.1M183.4 87.1h2.1M188.4 79.1h2.1M184.7 75.7h2.1M188.3 89.6h2.1M185.2 53.5h2.1M185.7 79.4h2.1M179.3 85.7h2.1M186.8 88.5h2.1M182.8 79.0h2.1M182.0 52.5h2.1M234.0 90.4h2.1M233.6 71.0h2.1M236.1 73.1h2.1M234.2 79.1h2.1M233.5 93.2h2.1M234.3 98.6h2.1M233.4 63.4h2.1M233.5 88.8h2.1M233.3 92.7h2.1M231.9 68.6h2.1M230.3 87.1h2.1M235.9 76.0h2.1M234.1 84.9h2.1M233.3 65.2h2.1M232.8 89.3h2.1M240.3 78.1h2.1M240.6 90.5h2.1M253.6 102.3h2.1M253.9 79.2h2.1M251.9 105.2h2.1M252.3 90.0h2.1M252.8 63.5h2.1M252.5 77.8h2.1M253.8 48.2h2.1M271.8 67.8h2.1M291.6 91.7h2.1M281.3 82.9h2.1M281.1 78.3h2.1M290.9 82.0h2.1M291.9 61.7h2.1M288.4 59.7h2.1M285.8 86.3h2.1M279.9 94.7h2.1M288.4 80.3h2.1M279.8 62.4h2.1M286.8 55.1h2.1M291.0 56.9h2.1M282.4 93.4h2.1M279.4 78.8h2.1M281.7 86.5h2.1M292.2 69.3h2.1M284.1 71.5h2.1M280.7 66.2h2.1M291.1 73.0h2.1M284.3 104.3h2.1M291.5 68.5h2.1M280.8 81.4h2.1M287.5 105.7h2.1M292.5 47.4h2.1M283.3 79.7h2.1M284.4 65.1h2.1M279.9 46.2h2.1M280.5 76.9h2.1M279.9 50.5h2.1M279.0 78.8h2.1M283.7 83.6h2.1M280.4 92.6h2.1M286.0 101.9h2.1M289.4 86.3h2.1M281.2 69.3h2.1M279.8 100.2h2.1M288.2 99.8h2.1M287.9 46.3h2.1M287.1 95.2h2.1M281.4 70.8h2.1M288.5 75.3h2.1M284.6 51.2h2.1M283.6 88.6h2.1M280.6 98.1h2.1M284.9 101.8h2.1M288.1 84.6h2.1M279.6 84.5h2.1M287.9 89.9h2.1M291.3 67.9h2.1M291.3 86.6h2.1M277.9 103.2h2.1M281.7 83.7h2.1M288.7 47.5h2.1M286.1 57.1h2.1M288.3 95.2h2.1M287.4 58.7h2.1M288.0 95.7h2.1M284.5 67.3h2.1M288.4 61.1h2.1M284.1 56.6h2.1M290.8 73.0h2.1M281.8 71.9h2.1M282.1 74.0h2.1M282.1 78.5h2.1M284.7 97.1h2.1M284.5 88.7h2.1M278.9 106.2h2.1M292.1 62.3h2.1M291.8 61.3h2.1M291.6 53.5h2.1M291.8 108.0h2.1M290.3 98.0h2.1M292.0 70.5h2.1M280.1 85.9h2.1M284.3 79.7h2.1M291.0 66.1h2.1M290.5 73.2h2.1M285.0 74.6h2.1M286.5 37.3h2.1M288.3 67.9h2.1M287.4 87.8h2.1M280.8 100.0h2.1M287.8 87.2h2.1M280.4 52.9h2.1M280.6 94.0h2.1M284.5 92.9h2.1M281.6 58.5h2.1M280.7 96.9h2.1M280.7 85.8h2.1M282.8 97.8h2.1M290.8 90.5h2.1M281.0 86.7h2.1M288.9 75.4h2.1M291.3 97.1h2.1M284.9 55.1h2.1M291.7 79.8h2.1M280.9 52.6h2.1M291.1 40.8h2.1M290.9 74.2h2.1M292.3 84.9h2.1M287.5 71.5h2.1M288.6 79.0h2.1M281.0 89.6h2.1M281.4 72.6h2.1M284.6 60.8h2.1M292.0 50.9h2.1M286.6 51.2h2.1M282.8 93.9h2.1M284.2 69.9h2.1M287.1 96.6h2.1M279.6 87.4h2.1M286.0 58.8h2.1M285.7 66.5h2.1M287.9 49.3h2.1M287.9 65.5h2.1M282.0 75.9h2.1M286.5 75.6h2.1M280.3 87.7h2.1M287.5 102.8h2.1M290.6 80.7h2.1M290.8 82.1h2.1M291.2 82.9h2.1M288.4 74.1h2.1M281.2 74.0h2.1M288.7 45.2h2.1M292.0 79.9h2.1M292.2 98.2h2.1M283.1 93.1h2.1M288.9 95.0h2.1M290.0 82.5h2.1M292.0 100.9h2.1M287.7 92.9h2.1M281.6 69.8h2.1M278.3 86.7h2.1M290.9 37.6h2.1M292.7 77.7h2.1M288.1 40.5h2.1M281.7 60.4h2.1M288.3 61.0h2.1M286.3 95.9h2.1M280.9 84.1h2.1M280.9 74.5h2.1M290.9 70.9h2.1M292.0 80.6h2.1M283.7 85.7h2.1M279.7 86.4h2.1M282.3 81.6h2.1M280.9 86.7h2.1M282.2 89.8h2.1M288.2 61.8h2.1M291.4 89.3h2.1M291.2 94.1h2.1M283.3 107.0h2.1M281.9 81.6h2.1M281.0 80.3h2.1M286.8 97.4h2.1M291.9 85.6h2.1M284.5 89.2h2.1M292.5 78.4h2.1M292.4 72.3h2.1M290.2 66.0h2.1M281.1 96.0h2.1M287.9 84.2h2.1M282.6 86.9h2.1M280.7 74.6h2.1M291.5 46.2h2.1M288.6 86.5h2.1M288.9 96.4h2.1M289.9 97.7h2.1M281.0 81.5h2.1M289.1 85.8h2.1M281.3 83.8h2.1M278.4 94.3h2.1M292.0 96.6h2.1M291.4 64.9h2.1M281.7 92.2h2.1M288.7 83.2h2.1M290.7 89.8h2.1M282.6 79.3h2.1M277.9 49.2h2.1M281.8 54.6h2.1M291.5 67.5h2.1M291.7 64.0h2.1M289.2 64.5h2.1M282.9 79.9h2.1M288.5 73.1h2.1M280.8 69.9h2.1M288.5 54.7h2.1M284.9 86.5h2.1M288.2 72.7h2.1M284.7 82.4h2.1M292.3 89.2h2.1M283.9 72.5h2.1M281.9 93.0h2.1M288.3 84.8h2.1M281.1 97.7h2.1M291.9 59.7h2.1M282.5 80.7h2.1M287.7 63.0h2.1M288.3 52.8h2.1M284.1 68.2h2.1M289.6 92.5h2.1M278.1 62.7h2.1M286.7 77.7h2.1M288.3 75.6h2.1M285.3 68.4h2.1M286.4 102.2h2.1M288.1 94.3h2.1M277.9 90.5h2.1M284.4 94.0h2.1M282.2 79.3h2.1M292.5 86.0h2.1M287.4 85.6h2.1M287.9 51.8h2.1M288.1 75.1h2.1M288.4 76.0h2.1M288.4 93.6h2.1M291.9 88.5h2.1M288.7 78.1h2.1M286.9 56.2h2.1M288.9 87.5h2.1M288.1 76.2h2.1M289.0 70.1h2.1M289.6 78.1h2.1M287.1 92.0h2.1M288.4 97.3h2.1M292.3 45.7h2.1M279.9 93.6h2.1M287.9 98.6h2.1M281.9 94.9h2.1M278.3 83.5h2.1M284.5 93.8h2.1M292.1 69.7h2.1M283.0 75.3h2.1M282.5 77.7h2.1M283.3 56.6h2.1M281.7 72.4h2.1M284.8 85.2h2.1M290.9 77.8h2.1M286.5 97.1h2.1M280.5 94.5h2.1M284.7 65.1h2.1M278.1 82.5h2.1M280.8 91.3h2.1M285.0 76.7h2.1M279.4 94.4h2.1M291.2 96.6h2.1M285.7 115.5h2.1M288.6 92.8h2.1M288.3 71.7h2.1M288.7 106.6h2.1M290.6 80.8h2.1M284.3 71.6h2.1M290.8 67.0h2.1M284.8 75.1h2.1M284.4 65.3h2.1M290.2 63.7h2.1M292.1 71.9h2.1M288.5 87.8h2.1M288.2 76.2h2.1M288.4 77.2h2.1M278.8 72.0h2.1M288.8 81.2h2.1M281.3 79.4h2.1M278.5 68.9h2.1M285.8 88.2h2.1M288.8 74.0h2.1M292.0 92.3h2.1M281.2 82.3h2.1M291.5 104.6h2.1M292.2 57.1h2.1M278.7 87.0h2.1M288.5 84.9h2.1M277.9 51.4h2.1M279.2 59.5h2.1M281.7 70.6h2.1M286.5 79.2h2.1M280.5 84.3h2.1M289.9 67.6h2.1M288.2 82.2h2.1M280.8 98.8h2.1M289.8 72.9h2.1M285.5 66.1h2.1M283.4 62.0h2.1M285.4 85.4h2.1M280.7 82.7h2.1M287.8 70.6h2.1M290.0 103.8h2.1M279.2 80.3h2.1M289.6 76.9h2.1M278.3 56.2h2.1M286.4 62.3h2.1M291.2 75.4h2.1M281.5 98.2h2.1M287.9 83.8h2.1M280.2 97.0h2.1M281.3 98.7h2.1M292.4 89.9h2.1M283.9 87.2h2.1M281.5 101.9h2.1M284.2 77.0h2.1M282.7 87.3h2.1M292.1 88.0h2.1M289.9 84.0h2.1M291.0 80.8h2.1M291.1 66.0h2.1M284.0 90.3h2.1M288.4 63.1h2.1M288.8 54.1h2.1M288.3 95.1h2.1M288.0 50.9h2.1M289.1 39.3h2.1M282.1 91.7h2.1M282.6 88.6h2.1M291.8 86.8h2.1M284.9 86.2h2.1M291.3 85.4h2.1M292.2 117.9h2.1M291.8 96.5h2.1M291.4 84.9h2.1M279.5 105.5h2.1M289.7 101.6h2.1M288.4 54.4h2.1M281.7 94.0h2.1M279.8 86.4h2.1M290.2 71.9h2.1M280.8 85.0h2.1M288.2 61.7h2.1M286.0 79.7h2.1M291.2 73.7h2.1M291.2 98.7h2.1M285.8 63.2h2.1M280.3 91.0h2.1M292.0 85.2h2.1M284.4 85.3h2.1M280.5 81.2h2.1M279.7 106.4h2.1M288.8 84.1h2.1M279.3 52.3h2.1M280.8 82.3h2.1M283.9 33.3h2.1M281.0 78.8h2.1M291.6 100.2h2.1M280.9 95.5h2.1M292.1 60.3h2.1M292.0 103.4h2.1M286.9 78.3h2.1M279.1 84.3h2.1M280.0 79.9h2.1M292.8 102.8h2.1M287.3 90.3h2.1M280.8 83.3h2.1M288.2 85.0h2.1M278.3 84.3h2.1M282.9 95.7h2.1M288.8 54.7h2.1M288.5 92.1h2.1M279.4 58.9h2.1M278.1 83.2h2.1M290.9 86.0h2.1M285.2 76.8h2.1M287.4 77.2h2.1M288.3 85.2h2.1M288.1 90.0h2.1M287.5 98.8h2.1M290.9 86.3h2.1M281.0 76.3h2.1M283.5 91.5h2.1M284.3 72.3h2.1M289.5 85.9h2.1M283.0 61.1h2.1M282.1 92.5h2.1M284.2 94.8h2.1M291.2 60.0h2.1M279.0 76.8h2.1M287.4 85.3h2.1M353.2 92.1h2.1M356.0 73.5h2.1M355.4 85.2h2.1M350.9 85.4h2.1M355.5 81.7h2.1M351.8 42.1h2.1M351.5 78.9h2.1M352.1 108.0h2.1M354.1 55.1h2.1M354.7 83.8h2.1M355.8 81.8h2.1M352.2 87.5h2.1M354.5 83.7h2.1M363.8 82.8h2.1M363.0 81.6h2.1M363.7 121.4h2.1M364.0 93.3h2.1M365.4 69.5h2.1M363.8 76.4h2.1M364.4 62.6h2.1M364.1 74.6h2.1M363.9 85.9h2.1M363.9 66.6h2.1M363.6 105.7h2.1M362.7 79.5h2.1M364.9 87.8h2.1M364.2 104.6h2.1M422.5 99.7h2.1M418.3 94.6h2.1M418.3 20.9h2.1M419.5 85.4h2.1M424.9 75.9h2.1M421.2 63.7h2.1M422.6 93.8h2.1M422.9 86.1h2.1M418.8 101.9h2.1M420.2 112.3h2.1M424.8 82.2h2.1M421.5 25.0h2.1M418.5 87.1h2.1M423.0 72.3h2.1M425.0 43.4h2.1M421.3 111.9h2.1M421.6 75.4h2.1M425.4 58.0h2.1M419.1 9.2h2.1M419.6 91.4h2.1M419.2 63.0h2.1M422.9 58.1h2.1M431.1 83.8h2.1M431.7 104.4h2.1M431.3 81.8h2.1M429.9 101.5h2.1" stroke="#47aa43" stroke-width="1.6" stroke-opacity="0.58" fill="none"/>
<path d="M107.7 50.0h2.1M104.0 74.3h2.1M97.8 63.7h2.1M109.0 61.9h2.1M106.6 61.3h2.1M110.5 81.2h2.1M106.7 75.6h2.1M106.7 55.3h2.1M107.4 76.4h2.1M96.8 59.4h2.1M98.5 58.6h2.1M107.0 50.0h2.1M105.7 63.4h2.1M105.7 52.0h2.1M109.2 66.9h2.1M103.2 90.8h2.1M108.7 78.6h2.1M110.3 87.8h2.1M102.8 73.3h2.1M94.7 71.0h2.1M102.5 43.9h2.1M110.9 59.4h2.1M94.6 62.7h2.1M95.3 77.6h2.1M110.7 52.5h2.1M102.5 65.0h2.1M109.4 76.6h2.1M94.8 84.3h2.1M109.8 67.9h2.1M95.4 84.5h2.1M95.8 110.1h2.1M96.1 74.6h2.1M103.1 75.1h2.1M102.7 62.0h2.1M99.3 68.9h2.1M109.3 70.8h2.1M109.8 73.8h2.1M99.0 56.5h2.1M106.3 40.1h2.1M96.0 65.4h2.1M97.0 60.8h2.1M106.0 62.7h2.1M100.2 51.8h2.1M108.6 50.4h2.1M106.7 56.7h2.1M102.2 53.2h2.1M107.2 67.9h2.1M102.6 96.1h2.1M97.2 83.3h2.1M95.7 69.1h2.1M111.0 65.6h2.1M105.8 86.2h2.1M111.0 82.4h2.1M107.3 70.8h2.1M96.0 81.9h2.1M102.4 58.2h2.1M97.0 72.1h2.1M97.2 83.1h2.1M103.8 60.4h2.1M100.6 61.4h2.1M102.4 86.1h2.1M96.5 57.2h2.1M108.0 97.4h2.1M102.2 47.5h2.1M110.8 79.7h2.1M104.4 68.3h2.1M105.5 77.6h2.1M99.2 66.4h2.1M109.9 90.3h2.1M104.9 68.9h2.1M109.4 76.0h2.1M103.2 60.0h2.1M108.9 48.2h2.1M101.5 72.2h2.1M100.3 75.2h2.1M106.8 63.8h2.1M104.3 70.8h2.1M100.2 43.5h2.1M108.8 32.2h2.1M102.0 61.8h2.1M94.8 57.5h2.1M99.7 71.3h2.1M107.0 79.9h2.1M94.6 74.4h2.1M99.5 78.4h2.1M101.7 60.5h2.1M96.4 63.0h2.1M98.2 81.3h2.1M109.1 60.4h2.1M105.5 77.0h2.1M96.4 66.4h2.1M101.9 52.8h2.1M100.1 58.7h2.1M103.7 74.5h2.1M106.6 55.3h2.1M109.4 87.0h2.1M102.5 87.9h2.1M104.0 101.9h2.1M94.6 72.3h2.1M102.3 58.2h2.1M94.4 72.3h2.1M106.4 83.2h2.1M109.9 75.5h2.1M100.5 74.3h2.1M109.6 56.1h2.1M95.6 66.4h2.1M109.3 51.7h2.1M104.0 84.2h2.1M103.6 86.8h2.1M102.9 34.6h2.1M96.7 61.7h2.1M109.3 74.2h2.1M100.7 82.7h2.1M96.8 69.2h2.1M100.7 82.8h2.1M107.2 84.6h2.1M99.5 72.8h2.1M96.8 83.4h2.1M110.9 61.4h2.1M110.1 59.8h2.1M102.5 46.3h2.1M93.5 74.8h2.1M120.4 77.7h2.1M122.7 48.6h2.1M120.0 43.8h2.1M118.2 49.9h2.1M119.6 69.8h2.1M123.5 64.9h2.1M122.4 85.4h2.1M112.3 57.8h2.1M121.2 73.4h2.1M123.0 70.4h2.1M119.4 54.9h2.1M120.6 76.8h2.1M120.8 73.5h2.1M120.1 43.1h2.1M114.4 72.7h2.1M123.1 42.3h2.1M123.6 74.9h2.1M123.8 61.8h2.1M113.2 83.3h2.1M123.3 58.5h2.1M122.6 61.5h2.1M116.7 95.2h2.1M122.6 55.6h2.1M118.4 74.8h2.1M133.8 70.4h2.1M126.5 31.7h2.1M132.4 83.2h2.1M134.2 59.7h2.1M133.7 71.2h2.1M126.4 50.9h2.1M133.8 74.0h2.1M136.5 48.3h2.1M134.5 70.1h2.1M126.5 55.8h2.1M128.6 70.3h2.1M129.3 43.2h2.1M136.5 75.6h2.1M129.8 74.2h2.1M128.0 69.3h2.1M132.3 68.0h2.1M134.3 91.3h2.1M126.3 48.1h2.1M129.4 51.5h2.1M131.1 84.0h2.1M132.4 82.9h2.1M127.6 73.4h2.1M126.7 23.7h2.1M130.1 77.4h2.1M133.4 78.7h2.1M133.9 64.9h2.1M132.7 63.7h2.1M131.6 69.8h2.1M126.2 49.2h2.1M134.4 72.2h2.1M126.2 68.4h2.1M136.8 70.3h2.1M128.0 59.6h2.1M134.4 65.1h2.1M132.9 70.9h2.1M124.5 59.5h2.1M135.8 54.1h2.1M134.7 76.5h2.1M126.4 79.4h2.1M133.5 73.6h2.1M126.6 64.0h2.1M125.4 60.1h2.1M130.3 51.2h2.1M131.0 91.5h2.1M126.4 76.6h2.1M126.3 83.0h2.1M129.8 71.4h2.1M128.4 87.1h2.1M136.5 86.4h2.1M133.5 71.3h2.1M124.4 49.2h2.1M127.7 71.8h2.1M126.6 74.7h2.1M127.0 92.7h2.1M132.6 70.8h2.1M130.5 60.3h2.1M131.6 80.0h2.1M132.3 53.9h2.1M127.9 78.6h2.1M129.5 87.4h2.1M134.2 67.2h2.1M126.5 68.4h2.1M130.5 81.2h2.1M134.6 72.5h2.1M134.0 72.3h2.1M126.6 36.7h2.1M128.7 35.4h2.1M126.4 75.2h2.1M135.4 70.4h2.1M134.2 67.1h2.1M126.1 50.3h2.1M132.8 80.1h2.1M129.9 58.7h2.1M126.3 77.0h2.1M132.3 72.7h2.1M126.2 80.9h2.1M133.6 91.3h2.1M140.3 78.1h2.1M142.5 55.8h2.1M142.9 56.6h2.1M139.7 74.2h2.1M145.8 58.7h2.1M144.9 55.2h2.1M146.4 66.9h2.1M139.8 75.9h2.1M139.9 80.6h2.1M146.5 57.4h2.1M144.0 75.4h2.1M146.4 65.6h2.1M144.7 91.6h2.1M137.6 77.1h2.1M139.7 94.3h2.1M144.8 61.1h2.1M146.1 66.4h2.1M139.9 54.7h2.1M144.0 49.7h2.1M140.0 67.9h2.1M139.7 74.2h2.1M144.0 84.3h2.1M174.3 37.9h2.1M172.6 92.1h2.1M175.2 59.4h2.1M175.4 53.2h2.1M178.6 84.8h2.1M172.6 68.4h2.1M170.4 98.2h2.1M178.0 69.3h2.1M170.6 91.9h2.1M177.5 84.6h2.1M174.2 60.6h2.1M179.5 61.9h2.1M184.3 79.6h2.1M186.3 50.9h2.1M181.9 65.0h2.1M187.7 68.3h2.1M188.8 74.9h2.1M187.6 82.3h2.1M188.2 45.2h2.1M180.0 86.2h2.1M179.7 53.9h2.1M181.2 86.7h2.1M188.9 76.7h2.1M188.7 65.3h2.1M186.6 77.0h2.1M184.2 92.4h2.1M187.5 52.3h2.1M188.1 79.8h2.1M184.3 43.6h2.1M187.8 62.6h2.1M186.1 60.9h2.1M186.3 75.1h2.1M179.9 75.0h2.1M183.7 79.4h2.1M185.7 81.1h2.1M188.0 83.4h2.1M181.6 87.3h2.1M182.8 58.5h2.1M188.6 81.7h2.1M182.6 60.8h2.1M184.4 75.5h2.1M186.6 67.6h2.1M188.3 65.4h2.1M186.3 71.4h2.1M182.4 79.9h2.1M179.7 77.9h2.1M234.5 83.3h2.1M234.0 83.5h2.1M234.3 75.1h2.1M230.8 104.7h2.1M230.4 86.3h2.1M233.8 73.8h2.1M234.5 87.1h2.1M232.3 93.9h2.1M231.9 94.7h2.1M230.4 57.1h2.1M235.3 80.2h2.1M231.1 65.5h2.1M233.2 67.9h2.1M235.2 102.4h2.1M240.5 90.4h2.1M239.9 86.2h2.1M239.6 88.0h2.1M253.9 43.5h2.1M250.9 45.9h2.1M253.5 55.8h2.1M252.1 105.2h2.1M252.4 50.4h2.1M251.5 44.6h2.1M253.7 84.6h2.1M252.2 50.3h2.1M253.3 86.7h2.1M252.5 84.8h2.1M252.4 50.8h2.1M252.2 82.9h2.1M253.9 70.0h2.1M252.1 68.3h2.1M252.8 83.2h2.1M251.4 49.6h2.1M270.8 35.7h2.1M271.6 72.4h2.1M270.7 60.9h2.1M270.8 64.4h2.1M288.2 67.4h2.1M283.0 75.2h2.1M280.4 86.7h2.1M288.5 76.4h2.1M280.5 105.1h2.1M284.8 76.8h2.1M287.3 81.6h2.1M286.8 83.2h2.1M288.0 99.1h2.1M290.8 80.0h2.1M290.0 85.2h2.1M288.3 67.1h2.1M284.2 86.4h2.1M290.8 98.0h2.1M292.5 58.1h2.1M280.1 74.3h2.1M290.2 62.2h2.1M281.0 79.8h2.1M291.5 76.5h2.1M288.5 70.0h2.1M290.1 68.2h2.1M284.5 75.4h2.1M280.9 62.0h2.1M291.5 93.8h2.1M291.3 101.6h2.1M286.2 73.6h2.1M291.1 84.9h2.1M281.1 71.2h2.1M290.9 79.3h2.1M288.1 83.6h2.1M289.8 82.4h2.1M288.2 76.3h2.1M283.1 54.1h2.1M286.7 64.8h2.1M279.5 87.0h2.1M288.5 103.8h2.1M291.8 81.4h2.1M279.3 78.9h2.1M281.8 94.6h2.1M284.3 85.1h2.1M278.5 49.7h2.1M288.2 65.7h2.1M291.0 79.8h2.1M279.1 86.5h2.1M287.7 83.6h2.1M291.8 92.8h2.1M288.4 70.7h2.1M285.4 64.6h2.1M289.7 68.7h2.1M288.1 61.6h2.1M283.9 86.8h2.1M279.3 67.9h2.1M282.8 61.9h2.1M284.8 57.9h2.1M284.2 84.6h2.1M290.4 89.2h2.1M285.2 92.1h2.1M281.9 77.9h2.1M288.0 88.0h2.1M288.6 93.0h2.1M288.3 69.8h2.1M282.7 82.6h2.1M285.5 73.1h2.1M284.2 79.1h2.1M288.5 87.7h2.1M286.6 93.3h2.1M291.3 65.0h2.1M280.0 63.1h2.1M288.0 101.6h2.1M277.9 95.4h2.1M288.3 51.6h2.1M282.7 74.2h2.1M288.3 87.3h2.1M288.3 84.5h2.1M289.4 79.5h2.1M287.5 68.9h2.1M288.0 105.3h2.1M291.3 92.0h2.1M284.4 92.7h2.1M286.5 78.7h2.1M285.8 96.5h2.1M283.3 85.6h2.1M291.6 39.5h2.1M292.3 74.2h2.1M288.0 97.2h2.1M288.5 95.7h2.1M283.4 72.5h2.1M281.1 90.7h2.1M281.6 77.6h2.1M280.5 79.0h2.1M280.3 85.4h2.1M280.3 81.5h2.1M281.0 54.5h2.1M291.0 96.5h2.1M289.2 95.1h2.1M290.9 75.2h2.1M291.4 87.3h2.1M279.5 79.7h2.1M287.6 96.4h2.1M281.2 72.8h2.1M281.1 98.6h2.1M282.1 45.3h2.1M292.7 71.8h2.1M283.3 112.0h2.1M289.4 85.8h2.1M280.8 69.3h2.1M291.3 74.7h2.1M291.8 62.5h2.1M291.7 93.6h2.1M288.5 81.9h2.1M283.8 70.0h2.1M286.7 94.2h2.1M278.5 61.2h2.1M288.2 87.2h2.1M288.8 100.3h2.1M291.8 67.4h2.1M286.8 50.7h2.1M287.3 67.3h2.1M279.1 88.6h2.1M288.1 79.2h2.1M280.8 82.3h2.1M285.3 36.4h2.1M288.5 69.5h2.1M292.6 77.4h2.1M281.2 93.8h2.1M285.8 62.7h2.1M288.7 76.5h2.1M289.8 93.5h2.1M279.1 50.5h2.1M279.1 97.0h2.1M283.8 58.4h2.1M291.7 68.4h2.1M290.7 88.4h2.1M288.2 70.6h2.1M288.8 77.3h2.1M284.9 83.3h2.1M290.7 64.1h2.1M289.1 74.9h2.1M280.8 74.0h2.1M291.2 89.6h2.1M283.8 88.8h2.1M281.7 67.0h2.1M283.1 78.4h2.1M285.5 59.4h2.1M285.0 68.2h2.1M290.3 84.0h2.1M288.3 95.7h2.1M288.0 58.0h2.1M288.4 89.0h2.1M288.4 41.9h2.1M283.2 87.2h2.1M288.3 91.1h2.1M283.5 80.7h2.1M280.9 105.8h2.1M280.3 82.0h2.1M281.1 61.4h2.1M283.6 75.4h2.1M287.3 88.2h2.1M277.8 56.0h2.1M286.9 50.3h2.1M284.6 90.7h2.1M284.1 96.2h2.1M284.2 85.9h2.1M281.3 79.5h2.1M284.6 84.1h2.1M287.0 72.2h2.1M278.8 95.3h2.1M285.9 61.6h2.1M277.9 69.9h2.1M285.7 78.8h2.1M278.7 77.2h2.1M291.7 74.6h2.1M289.2 67.1h2.1M286.5 80.7h2.1M288.5 79.5h2.1M282.6 82.4h2.1M292.5 74.9h2.1M287.5 73.7h2.1M282.5 74.6h2.1M289.3 95.2h2.1M281.1 67.1h2.1M284.9 86.6h2.1M278.6 55.6h2.1M286.4 57.8h2.1M281.3 69.6h2.1M281.0 96.1h2.1M290.4 103.2h2.1M286.7 85.4h2.1M284.6 69.0h2.1M284.2 95.8h2.1M292.3 68.6h2.1M285.0 61.5h2.1M280.7 99.5h2.1M289.7 86.0h2.1M285.2 97.7h2.1M286.4 58.1h2.1M281.5 63.5h2.1M286.4 94.0h2.1M282.0 86.1h2.1M283.9 84.5h2.1M290.6 64.1h2.1M288.1 104.2h2.1M281.5 71.6h2.1M281.0 77.7h2.1M279.0 78.5h2.1M281.4 76.9h2.1M291.1 82.7h2.1M285.1 48.7h2.1M279.3 49.3h2.1M288.5 60.4h2.1M285.4 100.5h2.1M289.0 75.0h2.1M288.5 74.3h2.1M288.6 68.5h2.1M288.4 87.8h2.1M280.8 47.5h2.1M284.4 91.0h2.1M291.7 85.7h2.1M288.7 66.2h2.1M288.9 98.7h2.1M280.5 75.6h2.1M278.1 70.2h2.1M289.4 84.9h2.1M280.9 48.5h2.1M288.5 86.0h2.1M281.1 56.2h2.1M290.3 95.8h2.1M288.5 91.4h2.1M292.0 94.4h2.1M280.7 42.1h2.1M282.3 93.6h2.1M288.6 76.8h2.1M289.1 79.2h2.1M286.2 60.5h2.1M283.4 69.9h2.1M285.7 71.5h2.1M281.8 84.1h2.1M288.0 51.2h2.1M291.2 83.0h2.1M291.5 79.5h2.1M287.8 62.7h2.1M291.9 80.0h2.1M290.3 67.1h2.1M286.3 110.5h2.1M282.0 85.4h2.1M291.0 62.3h2.1M288.3 71.1h2.1M285.7 84.4h2.1M279.3 57.7h2.1M288.0 58.7h2.1M291.3 88.4h2.1M292.6 95.7h2.1M280.9 104.5h2.1M284.0 88.3h2.1M286.2 99.3h2.1M279.1 60.4h2.1M282.1 113.5h2.1M281.5 67.3h2.1M291.6 77.1h2.1M282.1 69.9h2.1M288.5 84.0h2.1M288.9 62.3h2.1M277.9 104.0h2.1M284.2 97.3h2.1M282.0 78.0h2.1M291.6 74.4h2.1M291.7 102.8h2.1M281.6 105.7h2.1M281.3 63.7h2.1M286.7 31.4h2.1M292.1 67.5h2.1M285.4 60.2h2.1M283.1 87.7h2.1M288.2 88.8h2.1M287.5 93.0h2.1M292.3 89.1h2.1M284.8 86.9h2.1M288.3 61.1h2.1M282.3 73.7h2.1M291.6 97.5h2.1M285.8 49.9h2.1M291.5 86.9h2.1M284.2 90.0h2.1M281.6 68.5h2.1M279.8 80.8h2.1M283.0 87.3h2.1M286.3 87.4h2.1M279.1 97.5h2.1M284.8 65.4h2.1M286.6 56.0h2.1M291.8 96.1h2.1M289.5 98.5h2.1M279.1 65.2h2.1M289.4 92.9h2.1M284.6 83.9h2.1M283.5 82.8h2.1M285.0 44.2h2.1M282.7 56.4h2.1M280.1 56.4h2.1M288.3 72.5h2.1M280.7 89.4h2.1M282.0 109.5h2.1M282.7 93.8h2.1M278.1 37.5h2.1M292.6 91.0h2.1M278.0 75.3h2.1M289.6 91.3h2.1M282.6 87.1h2.1M285.1 84.8h2.1M288.3 84.1h2.1M287.5 82.5h2.1M284.0 86.0h2.1M289.9 51.9h2.1M289.3 81.5h2.1M280.9 44.3h2.1M279.9 74.7h2.1M284.0 70.7h2.1M289.8 72.7h2.1M285.4 96.9h2.1M280.6 75.9h2.1M278.5 82.3h2.1M288.2 94.3h2.1M288.8 90.4h2.1M283.3 91.6h2.1M284.5 61.9h2.1M282.5 100.9h2.1M288.2 80.8h2.1M281.8 82.6h2.1M288.3 85.7h2.1M285.9 82.3h2.1M282.2 105.8h2.1M289.4 96.4h2.1M278.0 77.3h2.1M288.2 78.3h2.1M282.5 87.5h2.1M291.3 55.5h2.1M292.7 81.4h2.1M290.8 84.0h2.1M282.7 89.3h2.1M286.3 84.4h2.1M291.7 70.2h2.1M284.7 75.9h2.1M282.5 51.9h2.1M287.7 103.9h2.1M281.1 89.6h2.1M283.1 96.6h2.1M279.2 57.1h2.1M280.9 85.4h2.1M292.0 99.0h2.1M280.3 81.9h2.1M288.3 78.2h2.1M291.0 51.6h2.1M284.3 64.6h2.1M279.3 99.7h2.1M289.1 88.7h2.1M285.3 82.9h2.1M289.6 83.2h2.1M281.0 60.4h2.1M284.1 85.7h2.1M292.2 60.6h2.1M285.7 99.1h2.1M283.8 88.2h2.1M282.6 106.0h2.1M285.5 98.5h2.1M290.2 66.5h2.1M282.3 81.4h2.1M291.7 82.2h2.1M292.1 94.6h2.1M281.2 67.6h2.1M280.5 50.5h2.1M281.3 73.5h2.1M284.2 70.6h2.1M284.8 72.2h2.1M279.4 69.5h2.1M283.3 88.9h2.1M288.6 90.3h2.1M288.5 46.5h2.1M281.0 81.5h2.1M351.4 67.8h2.1M354.9 67.1h2.1M349.6 38.8h2.1M351.9 91.2h2.1M350.3 86.9h2.1M349.5 87.2h2.1M355.2 68.3h2.1M352.4 88.1h2.1M353.2 87.9h2.1M349.9 56.3h2.1M350.7 84.2h2.1M351.3 82.7h2.1M365.1 96.8h2.1M362.8 33.3h2.1M363.9 98.1h2.1M364.0 68.1h2.1M363.2 72.2h2.1M363.7 90.8h2.1M363.0 70.8h2.1M364.0 54.9h2.1M363.1 101.3h2.1M363.6 75.8h2.1M362.8 75.4h2.1M363.4 122.8h2.1M363.1 84.9h2.1M362.6 121.2h2.1M419.2 74.7h2.1M424.0 89.3h2.1M425.0 58.1h2.1M419.3 63.6h2.1M423.8 80.3h2.1M422.9 56.5h2.1M422.2 17.0h2.1M423.9 70.7h2.1M422.1 63.5h2.1M425.8 68.9h2.1M421.1 76.9h2.1M419.7 67.0h2.1M423.4 59.3h2.1M425.4 91.6h2.1M419.6 78.7h2.1M419.7 87.9h2.1M419.4 90.3h2.1M422.5 80.3h2.1M424.1 91.4h2.1M419.1 77.7h2.1M420.4 77.7h2.1M419.0 84.0h2.1M429.0 81.3h2.1M430.3 62.2h2.1M430.0 121.2h2.1M429.0 99.4h2.1M429.1 94.1h2.1M429.6 110.8h2.1" stroke="#47aa43" stroke-width="1.6" stroke-opacity="0.58" fill="none"/>
<path d="M93.6 35.3h1.9M93.9 54.1h1.9M93.5 18.8h1.9M94.3 43.5h1.9M93.4 16.5h1.9M94.5 15.7h1.9M94.2 42.0h1.9M93.4 40.5h1.9M93.6 29.7h1.9M93.5 54.5h1.9M131.2 47.5h1.9M133.1 23.7h1.9M130.7 40.2h1.9M131.7 24.1h1.9M289.1 53.0h1.9M289.1 11.4h1.9M285.1 40.7h1.9M286.6 12.6h1.9M287.4 46.9h1.9M288.2 42.0h1.9M287.7 64.8h1.9M286.1 25.1h1.9M288.9 13.1h1.9M288.7 23.3h1.9" stroke="#4a6fc4" stroke-width="1.5" stroke-opacity="0.58" fill="none"/>
<path d="M93.6 54.4h1.9M94.1 47.4h1.9M93.4 10.6h1.9M94.0 24.9h1.9M94.0 49.6h1.9M131.9 15.4h1.9M132.0 47.7h1.9M132.1 42.1h1.9M130.8 34.2h1.9M132.2 42.2h1.9M132.3 43.8h1.9M287.4 56.5h1.9M291.7 20.0h1.9M286.2 8.5h1.9M285.9 5.3h1.9M284.7 33.5h1.9M289.9 45.4h1.9M290.8 56.4h1.9M287.9 4.2h1.9M287.2 39.9h1.9M285.4 55.2h1.9M291.0 26.2h1.9M288.8 9.5h1.9" stroke="#4a6fc4" stroke-width="1.5" stroke-opacity="0.58" fill="none"/>
</g>
<path d="M74 100.7H92.5M146.5 89.4H150M152 89.4H155M159.6 98.6H166.4M192 95.6H194.5M203 93H204.6M210 96.3H230M255 94.4H278M294 98.4H332M340 98H345M343 85.8H350M373 101.4H380M380 102.6H387M396 102H410M409.6 94.4H418.7M433 95H442M442 99H449M451 99H471M473 95.6H487M490 95.6H500M503 95.6H505M507 95.6H513" stroke="#e31a1c" stroke-width="2.1" stroke-opacity="1" fill="none"/>
<path d="M166.4 98.6H172" stroke="#e31a1c" stroke-width="1.5" stroke-opacity="0.4" fill="none"/>
<path d="M158.6 89.4H161.8" stroke="#e31a1c" stroke-width="3.0" stroke-opacity="1" fill="none"/>
<path d="M94 70.4H118M121 70.4H147M170.8 83.2H182.8M181 76.8H191.5M191 80.3H193M231 85.5H237M251 80H254M253.5 88.6H256M350 83.2H366M418 84.4H424M424 86.2H432M430 95H433" stroke="#3fa83c" stroke-width="2.4" stroke-opacity="1" fill="none"/>
<g id="bafpts">
<path d="M79.6 167.3h2.4M74.4 176.9h2.4M79.0 170.9h2.4M76.6 170.8h2.4M77.4 169.7h2.4M79.5 174.5h2.4M77.7 175.4h2.4M74.4 170.9h2.4M80.0 167.6h2.4M75.8 177.7h2.4M76.5 168.7h2.4M79.1 173.4h2.4M74.8 271.0h2.4M74.0 261.9h2.4M79.0 264.4h2.4M77.2 261.4h2.4M80.6 255.2h2.4M77.1 262.1h2.4M78.8 257.1h2.4M78.3 271.0h2.4M79.1 257.1h2.4M77.1 246.1h2.4M78.6 261.6h2.4M77.6 254.8h2.4M81.8 261.8h2.4M77.3 260.1h2.4M77.0 264.7h2.4M77.3 264.6h2.4M74.5 256.9h2.4M78.9 252.6h2.4M84.8 169.0h2.4M82.5 172.0h2.4M83.4 168.7h2.4M83.5 255.3h2.4M83.7 262.0h2.4M83.2 258.1h2.4M91.8 173.8h2.4M91.6 171.7h2.4M90.3 179.4h2.4M87.3 169.4h2.4M92.3 176.9h2.4M88.6 170.5h2.4M88.6 168.0h2.4M86.7 171.4h2.4M87.0 160.0h2.4M91.7 182.2h2.4M92.1 170.6h2.4M91.4 166.8h2.4M92.0 176.3h2.4M91.9 170.7h2.4M91.6 169.1h2.4M87.2 166.5h2.4M87.0 183.8h2.4M92.8 167.7h2.4M91.8 167.4h2.4M90.6 168.1h2.4M91.7 160.0h2.4M86.8 172.6h2.4M86.9 160.0h2.4M87.9 164.0h2.4M89.3 169.6h2.4M88.7 249.2h2.4M91.9 258.8h2.4M92.1 271.0h2.4M90.4 247.4h2.4M88.6 262.6h2.4M91.9 267.2h2.4M90.1 258.5h2.4M88.8 271.0h2.4M88.8 268.6h2.4M89.7 262.8h2.4M87.1 265.7h2.4M92.3 271.0h2.4M75.1 212.3h2.4M76.0 199.5h2.4M76.1 187.5h2.4M83.6 230.9h2.4M82.9 242.1h2.4M91.7 208.7h2.4M159.5 179.0h2.4M154.5 192.0h2.4M192.5 201.0h2.4M192.7 217.5h2.4M198.0 170.0h2.4M210.0 166.0h2.4M224.0 200.0h2.4M229.5 236.0h2.4M201.5 265.0h2.4M202.0 268.0h2.4M217.4 259.0h2.4M217.7 260.1h2.4M225.7 167.5h2.4M221.8 171.3h2.4M223.3 172.3h2.4M229.0 160.0h2.4M229.9 179.5h2.4M222.3 175.6h2.4M224.9 167.8h2.4M226.5 165.5h2.4M222.0 165.6h2.4M225.8 173.5h2.4M222.5 260.1h2.4M228.7 264.4h2.4M228.9 259.3h2.4M221.1 262.9h2.4M225.5 261.1h2.4M227.0 264.5h2.4M229.4 268.2h2.4M223.6 260.5h2.4M222.1 269.1h2.4M222.1 271.0h2.4M226.3 259.3h2.4M229.1 262.3h2.4M258.6 183.7h2.4M256.8 172.5h2.4M262.0 174.2h2.4M259.9 168.2h2.4M259.2 165.5h2.4M256.8 170.1h2.4M256.4 177.3h2.4M261.8 175.7h2.4M259.4 179.1h2.4M257.4 253.4h2.4M257.7 256.8h2.4M257.2 264.5h2.4M262.2 266.0h2.4M257.2 258.4h2.4M262.6 257.8h2.4M255.4 261.2h2.4M256.9 260.4h2.4M258.4 255.7h2.4M258.3 259.3h2.4M255.7 267.7h2.4M262.0 257.8h2.4M259.5 258.3h2.4M264.5 180.6h2.4M275.8 174.4h2.4M275.5 172.4h2.4M276.5 160.0h2.4M274.2 163.7h2.4M276.2 171.3h2.4M275.0 176.3h2.4M269.4 160.0h2.4M270.1 160.0h2.4M269.6 170.6h2.4M271.3 245.0h2.4M272.4 253.9h2.4M268.3 261.0h2.4M275.3 252.7h2.4M269.3 264.5h2.4M271.8 261.1h2.4M268.1 255.8h2.4M275.0 228.0h2.4M273.0 241.0h2.4M252.3 223.0h2.4M306.0 159.0h2.4M303.0 175.1h2.4M299.9 170.9h2.4M303.7 175.6h2.4M304.3 165.9h2.4M305.3 180.3h2.4M302.9 159.0h2.4M305.7 180.4h2.4M299.2 194.6h2.4M309.7 184.9h2.4M304.1 159.0h2.4M305.0 172.0h2.4M302.6 159.0h2.4M300.5 170.3h2.4M302.0 159.0h2.4M295.5 183.3h2.4M305.5 183.4h2.4M307.5 171.0h2.4M302.5 173.1h2.4M311.1 173.3h2.4M299.5 171.9h2.4M298.0 169.3h2.4M306.7 188.5h2.4M299.1 188.8h2.4M303.8 174.6h2.4M309.8 159.0h2.4M305.0 265.3h2.4M301.7 249.5h2.4M298.5 255.8h2.4M297.9 263.1h2.4M306.7 257.3h2.4M298.4 257.7h2.4M298.5 249.9h2.4M301.6 264.6h2.4M298.5 254.9h2.4M303.3 255.7h2.4M308.1 271.0h2.4M297.4 262.0h2.4M306.1 263.4h2.4M301.3 263.5h2.4M301.7 259.2h2.4M303.9 255.8h2.4M303.5 271.0h2.4M311.4 260.8h2.4M303.7 251.2h2.4M296.4 262.1h2.4M310.8 266.8h2.4M303.7 258.0h2.4M307.7 262.5h2.4M303.5 260.9h2.4M302.0 253.2h2.4M310.9 257.6h2.4M307.2 271.0h2.4M322.1 181.7h2.4M314.5 174.6h2.4M313.4 173.3h2.4M315.4 178.5h2.4M319.8 177.0h2.4M319.2 170.5h2.4M322.6 175.1h2.4M313.8 181.7h2.4M319.0 175.8h2.4M313.4 259.5h2.4M320.4 252.3h2.4M313.9 255.1h2.4M319.2 257.9h2.4M323.2 267.1h2.4M323.8 264.3h2.4M315.7 267.9h2.4M324.0 267.7h2.4M315.1 254.3h2.4M320.1 263.3h2.4M320.6 252.4h2.4M314.8 260.2h2.4M314.9 258.4h2.4M315.4 263.1h2.4M329.9 172.4h2.4M303.0 196.0h2.4M313.0 197.0h2.4M296.0 224.0h2.4M345.0 160.0h2.4M340.5 180.0h2.4M367.5 197.0h2.4M380.0 180.0h2.4M385.0 174.0h2.4M379.0 253.0h2.4M374.5 271.0h2.4M392.5 170.0h2.4M431.5 227.0h2.4M414.0 203.0h2.4M410.0 235.0h2.4M399.6 168.0h2.4M404.3 174.1h2.4M401.0 259.5h2.4M408.8 249.4h2.4M403.6 260.6h2.4M403.8 247.9h2.4M403.7 272.0h2.4M415.4 186.7h2.4M413.6 173.5h2.4M444.1 163.8h2.4M443.0 164.3h2.4M435.9 172.0h2.4M434.8 168.1h2.4M439.2 257.0h2.4M438.5 258.1h2.4M442.7 266.4h2.4M436.6 265.2h2.4M438.0 266.7h2.4M439.0 258.8h2.4M444.3 202.6h2.4M443.5 207.0h2.4M444.3 207.6h2.4M444.3 209.6h2.4M460.5 167.8h2.4M460.8 172.6h2.4M462.0 176.7h2.4M464.5 175.0h2.4M463.5 181.0h2.4M453.6 169.5h2.4M460.0 171.1h2.4M458.6 167.9h2.4M455.6 178.1h2.4M463.6 184.7h2.4M462.4 174.7h2.4M452.8 175.3h2.4M461.9 188.9h2.4M454.7 181.1h2.4M455.6 160.0h2.4M457.2 189.0h2.4M458.8 172.9h2.4M458.8 166.0h2.4M460.8 184.5h2.4M450.3 171.0h2.4M459.1 180.6h2.4M456.0 178.3h2.4M450.5 184.4h2.4M462.9 172.7h2.4M462.9 186.0h2.4M462.2 176.8h2.4M461.1 178.7h2.4M463.2 173.2h2.4M457.9 258.4h2.4M459.7 261.5h2.4M465.3 261.1h2.4M455.6 271.0h2.4M464.1 255.6h2.4M459.7 247.1h2.4M463.5 271.0h2.4M459.6 258.6h2.4M458.5 240.4h2.4M460.2 255.3h2.4M463.2 257.6h2.4M457.5 271.0h2.4M459.4 248.9h2.4M466.0 253.3h2.4M459.9 245.2h2.4M460.6 253.2h2.4M465.7 271.0h2.4M450.3 263.3h2.4M455.4 255.9h2.4M460.5 251.8h2.4M463.0 254.7h2.4M455.3 247.9h2.4M451.9 243.1h2.4M460.1 247.9h2.4M474.3 182.8h2.4M484.9 160.0h2.4M484.5 168.3h2.4M472.0 181.0h2.4M476.0 185.9h2.4M473.3 173.0h2.4M473.9 173.9h2.4M474.5 187.7h2.4M471.9 184.7h2.4M472.0 168.7h2.4M477.5 176.0h2.4M483.4 177.5h2.4M476.2 168.2h2.4M482.0 169.4h2.4M472.4 171.2h2.4M478.3 184.7h2.4M470.7 172.1h2.4M477.7 175.3h2.4M474.2 173.5h2.4M474.4 183.0h2.4M471.6 259.1h2.4M471.0 243.7h2.4M470.9 253.4h2.4M470.8 271.0h2.4M480.3 245.1h2.4M471.2 255.2h2.4M480.4 254.0h2.4M470.9 248.1h2.4M472.5 271.0h2.4M481.5 262.3h2.4M484.2 256.4h2.4M471.3 247.2h2.4M479.8 259.5h2.4M470.4 254.4h2.4M473.6 238.7h2.4M473.0 247.8h2.4M471.9 257.7h2.4M490.7 166.4h2.4M493.9 160.0h2.4M499.4 257.0h2.4M490.0 250.1h2.4M498.0 257.3h2.4M490.7 258.5h2.4M508.9 172.0h2.4M506.6 180.3h2.4M506.3 177.1h2.4M506.6 170.0h2.4M507.0 173.4h2.4M507.1 266.1h2.4M506.2 254.9h2.4M507.0 254.8h2.4M507.7 263.8h2.4M508.0 263.6h2.4M507.7 245.9h2.4M471.0 228.0h2.4M490.0 212.0h2.4M507.0 238.0h2.4" stroke="#ee1c24" stroke-width="1.1" stroke-opacity="0.8" fill="none"/>
<path d="M74.3 160.0h2.4M75.7 173.4h2.4M79.1 177.8h2.4M79.1 174.7h2.4M76.8 176.8h2.4M77.4 178.1h2.4M79.6 167.0h2.4M79.1 168.3h2.4M74.2 182.3h2.4M75.9 169.7h2.4M76.4 178.2h2.4M76.4 176.9h2.4M79.2 174.1h2.4M74.7 172.7h2.4M80.5 160.0h2.4M77.2 174.8h2.4M81.9 178.0h2.4M74.6 172.2h2.4M74.5 160.0h2.4M78.3 170.4h2.4M79.3 172.9h2.4M76.1 167.2h2.4M77.4 262.0h2.4M77.4 263.2h2.4M77.4 260.2h2.4M76.9 256.9h2.4M77.4 259.4h2.4M77.2 271.0h2.4M78.9 254.5h2.4M79.0 245.8h2.4M78.7 262.9h2.4M77.6 254.8h2.4M76.8 260.4h2.4M77.1 252.8h2.4M77.2 255.6h2.4M80.5 261.4h2.4M76.9 263.9h2.4M79.2 271.0h2.4M77.1 263.7h2.4M79.4 259.5h2.4M79.4 271.0h2.4M77.1 259.7h2.4M77.2 257.3h2.4M82.4 177.3h2.4M82.5 168.0h2.4M82.8 167.5h2.4M82.7 165.1h2.4M83.2 251.4h2.4M84.7 258.1h2.4M92.7 177.3h2.4M88.9 183.3h2.4M91.3 169.2h2.4M91.9 168.5h2.4M91.8 177.8h2.4M91.4 169.4h2.4M92.2 169.0h2.4M87.2 174.9h2.4M87.4 176.4h2.4M91.2 168.8h2.4M90.3 171.3h2.4M86.1 174.4h2.4M91.9 260.9h2.4M91.0 257.4h2.4M93.2 247.9h2.4M90.0 255.9h2.4M92.3 271.0h2.4M90.2 262.2h2.4M91.8 266.2h2.4M92.0 261.0h2.4M89.6 260.2h2.4M92.1 254.2h2.4M92.1 260.6h2.4M91.8 262.7h2.4M91.0 253.3h2.4M92.4 249.1h2.4M91.8 262.4h2.4M86.9 260.7h2.4M91.2 256.9h2.4M92.4 252.2h2.4M86.7 260.0h2.4M91.6 248.2h2.4M89.4 262.9h2.4M89.6 258.7h2.4M92.1 264.8h2.4M75.0 195.9h2.4M75.0 217.4h2.4M74.9 220.5h2.4M77.2 206.1h2.4M74.3 224.6h2.4M75.0 188.0h2.4M78.0 187.1h2.4M74.9 200.2h2.4M75.5 194.6h2.4M78.0 202.0h2.4M77.3 237.8h2.4M76.4 237.5h2.4M82.0 235.0h2.4M147.5 193.0h2.4M148.0 222.0h2.4M147.6 227.0h2.4M148.2 231.0h2.4M149.0 209.0h2.4M159.8 244.0h2.4M160.0 250.0h2.4M160.0 253.0h2.4M159.8 258.0h2.4M160.0 262.0h2.4M227.0 221.0h2.4M219.6 164.0h2.4M219.5 169.6h2.4M214.8 165.8h2.4M217.7 269.1h2.4M217.7 251.7h2.4M214.1 248.1h2.4M222.2 170.5h2.4M221.7 160.0h2.4M222.0 161.7h2.4M222.3 165.2h2.4M222.0 173.0h2.4M227.3 168.4h2.4M222.0 166.7h2.4M223.1 170.5h2.4M228.9 260.9h2.4M228.0 265.6h2.4M228.2 251.5h2.4M228.1 267.2h2.4M222.6 266.6h2.4M221.3 262.7h2.4M225.4 261.2h2.4M228.6 250.1h2.4M228.6 258.6h2.4M226.9 266.9h2.4M259.4 170.5h2.4M259.6 160.0h2.4M256.6 177.1h2.4M256.2 171.0h2.4M256.7 171.3h2.4M259.8 173.3h2.4M262.2 162.4h2.4M255.4 178.6h2.4M262.6 165.2h2.4M259.3 171.0h2.4M259.9 179.7h2.4M256.2 169.3h2.4M259.4 171.0h2.4M256.3 174.9h2.4M262.3 262.1h2.4M263.1 253.3h2.4M261.3 271.0h2.4M258.4 271.0h2.4M255.1 266.8h2.4M261.5 261.7h2.4M262.8 265.7h2.4M259.6 260.8h2.4M262.1 271.0h2.4M262.7 253.9h2.4M260.3 246.7h2.4M257.4 264.9h2.4M267.0 168.5h2.4M265.0 179.3h2.4M265.8 174.3h2.4M267.3 257.0h2.4M264.2 249.0h2.4M266.2 254.4h2.4M267.6 261.4h2.4M274.9 181.6h2.4M276.4 179.8h2.4M269.1 171.2h2.4M269.7 160.0h2.4M276.3 170.9h2.4M276.3 174.1h2.4M268.1 172.8h2.4M274.6 169.7h2.4M274.5 176.0h2.4M269.0 165.0h2.4M275.2 171.9h2.4M275.7 181.8h2.4M276.3 165.8h2.4M276.6 170.5h2.4M276.3 171.7h2.4M276.3 185.1h2.4M271.5 256.4h2.4M272.4 246.4h2.4M271.8 252.0h2.4M274.7 262.8h2.4M274.4 249.8h2.4M272.4 262.3h2.4M268.6 253.9h2.4M271.6 253.8h2.4M271.5 271.0h2.4M269.1 259.6h2.4M267.7 258.3h2.4M270.1 257.4h2.4M268.6 260.9h2.4M275.2 255.8h2.4M268.0 260.8h2.4M268.4 255.5h2.4M274.7 265.5h2.4M268.2 259.5h2.4M256.5 227.0h2.4M257.0 230.0h2.4M257.2 232.0h2.4M298.3 176.2h2.4M301.9 180.0h2.4M303.1 179.1h2.4M309.0 159.0h2.4M304.5 177.3h2.4M302.0 187.9h2.4M310.3 170.5h2.4M299.6 169.8h2.4M302.6 172.7h2.4M310.1 170.1h2.4M299.4 175.5h2.4M298.7 174.8h2.4M295.3 172.5h2.4M310.1 173.7h2.4M308.5 159.0h2.4M309.9 185.6h2.4M310.1 164.9h2.4M302.4 159.0h2.4M304.5 178.0h2.4M298.1 181.8h2.4M310.7 176.1h2.4M310.1 171.0h2.4M301.5 254.2h2.4M301.3 251.1h2.4M301.0 263.2h2.4M303.0 250.9h2.4M303.2 261.1h2.4M301.2 262.1h2.4M307.0 264.9h2.4M303.3 265.2h2.4M301.6 254.6h2.4M300.3 257.6h2.4M297.9 271.0h2.4M303.3 257.8h2.4M303.3 256.3h2.4M306.4 256.6h2.4M301.6 271.0h2.4M298.0 247.8h2.4M314.4 180.7h2.4M313.4 171.7h2.4M321.1 173.3h2.4M320.5 174.7h2.4M319.1 179.8h2.4M313.3 186.1h2.4M313.4 179.5h2.4M316.7 172.3h2.4M315.2 185.1h2.4M315.1 181.7h2.4M315.2 174.3h2.4M315.2 257.3h2.4M323.8 263.5h2.4M315.0 251.3h2.4M325.2 258.0h2.4M320.3 257.5h2.4M320.7 263.1h2.4M321.4 265.4h2.4M315.2 264.9h2.4M312.5 263.1h2.4M323.4 251.4h2.4M313.1 271.0h2.4M323.0 264.1h2.4M323.1 262.4h2.4M320.9 255.6h2.4M323.1 248.9h2.4M323.7 257.7h2.4M323.9 264.3h2.4M313.7 261.9h2.4M320.5 271.0h2.4M327.2 178.1h2.4M326.3 179.8h2.4M328.7 255.1h2.4M328.6 257.1h2.4M324.0 195.0h2.4M301.0 227.0h2.4M342.5 264.0h2.4M348.5 260.0h2.4M379.0 173.0h2.4M376.0 176.0h2.4M374.0 253.0h2.4M376.0 264.0h2.4M417.0 216.0h2.4M431.5 205.0h2.4M442.0 235.0h2.4M408.9 174.0h2.4M404.9 160.0h2.4M408.2 170.7h2.4M401.3 174.8h2.4M403.8 173.6h2.4M405.2 178.1h2.4M403.2 174.7h2.4M401.7 167.7h2.4M402.7 272.0h2.4M402.6 262.6h2.4M401.8 272.0h2.4M414.6 180.4h2.4M413.7 183.6h2.4M414.2 179.2h2.4M414.8 183.2h2.4M414.4 248.2h2.4M442.9 170.8h2.4M439.7 168.6h2.4M436.7 172.3h2.4M439.9 256.0h2.4M437.3 266.5h2.4M444.2 257.0h2.4M439.5 263.8h2.4M443.5 263.3h2.4M439.9 258.0h2.4M443.5 190.0h2.4M444.3 194.6h2.4M443.5 209.0h2.4M451.7 174.9h2.4M455.7 169.4h2.4M461.0 160.0h2.4M459.9 173.2h2.4M458.6 179.8h2.4M458.3 172.0h2.4M458.0 160.0h2.4M457.7 178.7h2.4M463.1 183.9h2.4M453.8 170.1h2.4M462.0 160.0h2.4M461.9 181.6h2.4M456.2 173.3h2.4M462.8 183.2h2.4M462.8 169.6h2.4M458.6 171.4h2.4M462.2 167.7h2.4M460.7 177.6h2.4M466.8 175.9h2.4M455.5 181.5h2.4M460.2 171.7h2.4M452.0 172.5h2.4M460.0 168.1h2.4M455.7 187.2h2.4M462.4 167.8h2.4M456.6 243.2h2.4M465.2 254.7h2.4M457.9 257.6h2.4M452.1 248.7h2.4M450.4 271.0h2.4M457.8 258.0h2.4M463.8 259.7h2.4M455.3 247.2h2.4M460.0 252.9h2.4M459.7 261.3h2.4M457.2 262.3h2.4M457.3 264.1h2.4M460.7 244.6h2.4M455.9 255.4h2.4M459.9 257.1h2.4M459.7 261.0h2.4M466.1 241.6h2.4M457.4 251.2h2.4M465.6 246.2h2.4M459.9 258.6h2.4M450.5 264.1h2.4M478.5 190.9h2.4M482.3 170.8h2.4M475.8 170.1h2.4M484.4 183.2h2.4M475.4 190.2h2.4M474.7 168.6h2.4M472.0 177.0h2.4M474.1 168.8h2.4M482.3 184.9h2.4M473.6 160.0h2.4M479.2 172.7h2.4M470.2 171.9h2.4M482.2 180.1h2.4M475.9 192.4h2.4M470.4 172.9h2.4M474.5 187.8h2.4M470.5 169.5h2.4M472.8 184.9h2.4M482.2 176.1h2.4M470.8 181.8h2.4M471.9 176.0h2.4M473.0 160.0h2.4M470.0 182.4h2.4M474.3 170.1h2.4M484.1 176.2h2.4M473.5 187.5h2.4M479.9 184.4h2.4M471.3 259.8h2.4M471.5 252.7h2.4M471.9 266.2h2.4M481.6 258.5h2.4M470.7 262.8h2.4M470.8 260.6h2.4M480.2 246.5h2.4M475.4 258.9h2.4M470.7 271.0h2.4M471.0 253.8h2.4M470.7 257.9h2.4M470.4 250.2h2.4M480.1 252.2h2.4M481.2 242.1h2.4M473.0 257.9h2.4M479.0 255.2h2.4M479.4 250.6h2.4M475.1 262.2h2.4M471.3 271.0h2.4M471.5 266.3h2.4M481.1 262.3h2.4M480.3 249.8h2.4M471.8 246.6h2.4M480.1 254.2h2.4M479.2 236.8h2.4M491.9 173.6h2.4M494.1 176.1h2.4M488.5 172.8h2.4M489.9 246.4h2.4M488.9 250.9h2.4M492.9 259.7h2.4M492.5 260.5h2.4M506.5 169.2h2.4M506.6 171.5h2.4M510.4 162.5h2.4M507.8 168.1h2.4M506.4 180.3h2.4M510.2 174.9h2.4M506.9 170.1h2.4M506.4 251.9h2.4M510.1 264.5h2.4M508.3 267.1h2.4M507.1 253.0h2.4M465.0 197.0h2.4M442.0 234.0h2.4M456.0 239.0h2.4M481.0 236.0h2.4M479.0 243.0h2.4" stroke="#ee1c24" stroke-width="1.1" stroke-opacity="0.8" fill="none"/>
<path d="M76.8 170.5h2.4M74.5 160.0h2.4M74.4 172.0h2.4M76.6 179.1h2.4M81.2 171.8h2.4M74.5 171.3h2.4M74.4 176.6h2.4M78.7 160.0h2.4M81.1 166.1h2.4M76.2 166.2h2.4M79.0 168.1h2.4M74.3 173.8h2.4M79.4 175.8h2.4M73.9 175.0h2.4M74.0 174.6h2.4M77.6 263.2h2.4M75.3 262.9h2.4M76.9 257.8h2.4M76.8 246.7h2.4M77.1 255.3h2.4M77.3 268.1h2.4M78.5 253.9h2.4M82.0 265.8h2.4M80.8 257.6h2.4M81.0 251.7h2.4M78.9 252.8h2.4M78.2 262.1h2.4M77.5 260.6h2.4M77.1 258.0h2.4M82.4 179.6h2.4M84.9 258.1h2.4M84.4 255.0h2.4M86.0 258.7h2.4M91.8 168.4h2.4M91.8 180.8h2.4M89.1 174.6h2.4M92.9 168.7h2.4M86.8 164.2h2.4M91.2 174.7h2.4M91.9 168.5h2.4M92.6 172.0h2.4M92.3 165.4h2.4M86.8 178.6h2.4M92.2 174.8h2.4M90.6 164.3h2.4M91.6 177.7h2.4M91.4 160.0h2.4M91.4 180.4h2.4M91.1 174.3h2.4M91.1 263.1h2.4M89.5 267.3h2.4M90.2 244.7h2.4M89.0 271.0h2.4M90.3 251.3h2.4M88.9 258.5h2.4M89.7 264.8h2.4M92.0 271.0h2.4M91.3 263.4h2.4M92.3 250.6h2.4M92.2 253.8h2.4M92.0 249.1h2.4M91.3 262.3h2.4M89.0 262.0h2.4M91.9 247.1h2.4M92.0 265.6h2.4M91.1 262.5h2.4M89.5 255.3h2.4M89.8 257.1h2.4M89.4 263.4h2.4M92.7 261.7h2.4M75.4 222.0h2.4M77.2 199.8h2.4M74.6 219.6h2.4M77.3 238.6h2.4M76.8 230.2h2.4M74.6 210.4h2.4M77.4 196.3h2.4M77.8 189.4h2.4M75.4 219.9h2.4M86.4 194.4h2.4M87.6 222.8h2.4M159.0 166.0h2.4M160.5 168.0h2.4M160.0 181.0h2.4M159.8 186.0h2.4M164.5 261.0h2.4M162.0 267.0h2.4M170.0 208.0h2.4M192.3 216.0h2.4M204.0 182.0h2.4M227.5 223.0h2.4M217.4 172.0h2.4M218.8 174.2h2.4M218.9 179.3h2.4M214.8 248.4h2.4M217.7 262.6h2.4M217.8 251.9h2.4M222.2 163.9h2.4M226.7 160.0h2.4M226.8 169.2h2.4M222.1 181.1h2.4M229.1 166.4h2.4M226.5 160.0h2.4M229.0 172.0h2.4M228.6 173.9h2.4M222.2 171.5h2.4M226.5 171.6h2.4M221.5 180.8h2.4M226.9 258.5h2.4M229.0 253.9h2.4M225.7 264.2h2.4M228.9 255.6h2.4M228.6 261.9h2.4M228.4 259.8h2.4M222.6 252.0h2.4M228.9 256.4h2.4M228.4 264.5h2.4M224.5 265.9h2.4M256.3 160.0h2.4M256.2 173.7h2.4M260.1 182.3h2.4M261.4 173.8h2.4M257.4 171.7h2.4M256.5 178.0h2.4M261.9 168.5h2.4M256.3 180.6h2.4M255.8 176.0h2.4M256.2 170.0h2.4M256.4 167.6h2.4M257.1 255.7h2.4M258.0 259.3h2.4M262.7 255.3h2.4M255.1 263.0h2.4M255.8 264.6h2.4M257.5 263.8h2.4M261.0 253.0h2.4M257.6 256.7h2.4M261.2 248.9h2.4M261.6 257.6h2.4M262.0 251.1h2.4M265.3 172.4h2.4M266.4 172.4h2.4M265.3 172.4h2.4M267.5 261.8h2.4M267.5 253.7h2.4M267.8 258.7h2.4M269.8 180.6h2.4M274.3 176.9h2.4M275.5 160.0h2.4M276.1 177.9h2.4M276.2 172.8h2.4M275.7 164.8h2.4M269.0 177.7h2.4M276.7 182.4h2.4M269.3 172.5h2.4M269.8 172.7h2.4M270.4 171.3h2.4M276.0 170.7h2.4M271.9 175.8h2.4M274.6 165.1h2.4M268.7 254.6h2.4M271.7 263.3h2.4M268.6 258.2h2.4M271.6 265.8h2.4M268.2 271.0h2.4M271.3 260.7h2.4M271.5 255.5h2.4M268.9 259.6h2.4M271.6 261.3h2.4M271.8 262.8h2.4M268.3 263.3h2.4M275.8 257.9h2.4M252.0 221.5h2.4M311.6 193.9h2.4M298.1 175.6h2.4M303.5 159.0h2.4M302.5 159.0h2.4M304.1 171.4h2.4M303.9 159.0h2.4M310.0 166.9h2.4M294.0 186.1h2.4M307.7 167.3h2.4M309.0 172.6h2.4M310.2 179.7h2.4M302.6 185.8h2.4M301.3 250.5h2.4M297.5 264.5h2.4M306.9 256.3h2.4M306.4 260.8h2.4M306.9 250.2h2.4M306.4 249.7h2.4M298.3 266.0h2.4M299.5 260.9h2.4M305.6 252.2h2.4M303.3 255.1h2.4M297.7 261.6h2.4M298.4 261.3h2.4M306.6 264.8h2.4M307.2 260.9h2.4M301.1 255.4h2.4M303.4 253.7h2.4M294.5 260.4h2.4M315.0 165.6h2.4M315.5 194.0h2.4M312.9 189.6h2.4M317.1 174.4h2.4M313.5 183.8h2.4M314.0 183.0h2.4M317.5 181.5h2.4M314.9 172.8h2.4M324.5 166.1h2.4M317.2 174.6h2.4M313.7 159.0h2.4M319.9 171.6h2.4M313.7 159.0h2.4M319.1 180.2h2.4M317.7 180.6h2.4M313.3 171.2h2.4M323.3 186.2h2.4M314.6 163.1h2.4M313.8 173.1h2.4M313.9 164.4h2.4M314.1 172.3h2.4M320.9 256.1h2.4M315.0 251.0h2.4M322.4 262.6h2.4M313.2 263.9h2.4M322.2 260.1h2.4M313.1 260.1h2.4M320.9 261.3h2.4M315.5 256.7h2.4M326.9 175.0h2.4M330.6 168.2h2.4M328.9 260.9h2.4M328.5 258.6h2.4M329.4 255.8h2.4M300.0 192.0h2.4M342.0 172.0h2.4M342.0 238.0h2.4M342.0 258.0h2.4M378.5 166.0h2.4M378.0 178.0h2.4M376.0 250.0h2.4M392.5 207.0h2.4M392.5 262.0h2.4M416.5 205.0h2.4M408.3 160.0h2.4M405.7 174.6h2.4M404.4 167.3h2.4M402.9 183.8h2.4M403.4 251.8h2.4M402.3 256.1h2.4M402.1 254.7h2.4M403.4 272.0h2.4M399.6 259.8h2.4M408.3 261.8h2.4M403.7 250.1h2.4M415.3 179.9h2.4M413.3 271.0h2.4M442.8 169.7h2.4M441.0 168.2h2.4M436.2 160.0h2.4M442.9 167.7h2.4M435.5 167.1h2.4M445.4 256.2h2.4M444.5 256.2h2.4M440.1 264.3h2.4M440.1 257.6h2.4M444.2 260.3h2.4M437.0 259.3h2.4M438.3 272.0h2.4M437.0 262.6h2.4M436.6 266.6h2.4M437.4 272.0h2.4M444.3 190.6h2.4M443.5 194.0h2.4M443.5 202.0h2.4M443.5 205.0h2.4M444.3 205.6h2.4M462.1 183.1h2.4M463.3 173.2h2.4M459.0 184.1h2.4M457.8 179.3h2.4M459.3 180.4h2.4M457.8 169.5h2.4M462.1 169.1h2.4M459.5 185.0h2.4M460.3 178.2h2.4M461.8 167.1h2.4M460.0 176.9h2.4M455.5 172.7h2.4M457.2 177.1h2.4M455.4 168.5h2.4M461.7 175.6h2.4M460.7 182.5h2.4M455.7 173.4h2.4M460.2 178.8h2.4M462.4 175.3h2.4M457.2 171.3h2.4M458.5 160.0h2.4M458.9 164.1h2.4M460.5 181.7h2.4M460.5 175.2h2.4M463.4 176.6h2.4M464.5 170.5h2.4M454.2 181.3h2.4M457.5 176.4h2.4M464.4 254.2h2.4M462.0 253.2h2.4M459.6 243.9h2.4M459.5 261.5h2.4M450.9 255.0h2.4M459.7 271.0h2.4M459.6 251.4h2.4M459.5 246.6h2.4M456.0 252.6h2.4M466.5 266.9h2.4M460.1 239.3h2.4M459.2 246.7h2.4M459.2 246.6h2.4M459.3 254.9h2.4M459.8 262.5h2.4M466.0 254.6h2.4M462.6 244.1h2.4M459.4 250.6h2.4M459.8 263.8h2.4M474.0 187.4h2.4M473.2 182.5h2.4M472.6 169.6h2.4M474.2 182.5h2.4M480.7 178.6h2.4M470.6 169.8h2.4M474.4 175.1h2.4M482.4 168.4h2.4M474.8 177.0h2.4M470.4 160.0h2.4M470.1 185.7h2.4M471.5 175.1h2.4M474.2 182.3h2.4M479.6 173.2h2.4M470.5 180.8h2.4M473.9 184.9h2.4M475.0 182.6h2.4M472.0 160.0h2.4M481.8 160.0h2.4M474.4 182.9h2.4M474.6 172.6h2.4M474.0 170.8h2.4M482.6 175.1h2.4M470.3 174.5h2.4M472.2 178.8h2.4M471.5 264.5h2.4M480.8 269.0h2.4M479.8 271.0h2.4M471.8 255.6h2.4M470.7 259.2h2.4M473.5 257.6h2.4M474.9 259.0h2.4M476.3 247.4h2.4M479.8 247.3h2.4M479.9 257.5h2.4M470.9 246.5h2.4M477.8 245.6h2.4M471.6 256.4h2.4M471.7 249.6h2.4M471.0 250.6h2.4M473.2 269.0h2.4M470.6 248.5h2.4M470.6 254.8h2.4M470.1 250.5h2.4M476.6 248.3h2.4M470.7 255.0h2.4M479.8 258.6h2.4M492.1 176.4h2.4M494.6 171.4h2.4M494.0 173.9h2.4M490.6 167.2h2.4M493.3 174.6h2.4M509.9 174.0h2.4M507.3 172.3h2.4M507.1 171.5h2.4M507.1 173.2h2.4M506.5 169.1h2.4M506.6 170.4h2.4M507.7 175.8h2.4M509.6 254.7h2.4M508.6 254.0h2.4M507.5 252.1h2.4M506.7 262.9h2.4M465.0 205.0h2.4M471.0 212.0h2.4M445.0 241.0h2.4" stroke="#ee1c24" stroke-width="1.1" stroke-opacity="0.8" fill="none"/>
<path d="M96.1 228.1h2.4M100.8 211.4h2.4M95.4 224.8h2.4M97.8 227.8h2.4M95.6 238.6h2.4M95.6 194.5h2.4M105.2 212.1h2.4M95.4 224.1h2.4M98.6 215.4h2.4M98.5 228.5h2.4M104.7 218.7h2.4M103.8 236.2h2.4M98.2 212.7h2.4M98.2 221.3h2.4M94.7 246.1h2.4M98.5 220.0h2.4M97.5 216.0h2.4M95.4 224.5h2.4M101.7 194.8h2.4M95.5 222.4h2.4M95.5 213.5h2.4M94.2 207.1h2.4M95.4 196.7h2.4M97.5 212.3h2.4M103.7 190.4h2.4M96.9 219.8h2.4M95.1 212.3h2.4M94.2 207.4h2.4M95.2 227.4h2.4M98.2 202.9h2.4M96.8 218.4h2.4M103.4 242.1h2.4M95.2 222.5h2.4M105.7 216.0h2.4M102.9 215.1h2.4M105.3 206.8h2.4M96.7 225.2h2.4M95.0 227.0h2.4M95.2 219.3h2.4M105.0 229.9h2.4M98.8 215.3h2.4M95.7 201.7h2.4M95.2 236.0h2.4M98.2 218.9h2.4M95.3 229.4h2.4M96.5 217.9h2.4M98.8 216.6h2.4M98.0 216.3h2.4M98.1 204.5h2.4M94.8 245.4h2.4M104.4 222.7h2.4M96.1 205.8h2.4M105.4 208.5h2.4M95.5 224.6h2.4M96.0 234.7h2.4M95.1 216.9h2.4M95.9 206.7h2.4M104.4 189.2h2.4M95.4 211.1h2.4M98.1 210.0h2.4M104.8 226.1h2.4M95.1 226.7h2.4M95.0 196.4h2.4M112.5 194.7h2.4M111.7 219.2h2.4M124.5 211.3h2.4M128.0 224.0h2.4M120.3 208.2h2.4M122.5 215.7h2.4M123.6 220.9h2.4M110.5 203.3h2.4M108.5 230.7h2.4M112.7 209.3h2.4M113.7 207.1h2.4M117.2 218.2h2.4M112.4 234.8h2.4M112.3 204.1h2.4M124.6 217.5h2.4M127.1 215.6h2.4M124.8 205.4h2.4M118.2 207.3h2.4M112.0 215.4h2.4M123.6 199.9h2.4M132.0 219.0h2.4M136.9 205.3h2.4M130.4 207.7h2.4M134.6 226.5h2.4M137.2 213.7h2.4M134.9 224.6h2.4M129.3 236.0h2.4M136.3 236.6h2.4M135.2 213.1h2.4M135.0 211.2h2.4M137.6 242.1h2.4M133.2 240.9h2.4M133.8 220.1h2.4M139.8 215.9h2.4M135.4 186.9h2.4M139.2 227.3h2.4M138.1 219.1h2.4M131.2 198.8h2.4M136.9 224.9h2.4M137.1 200.4h2.4M136.4 204.5h2.4M135.0 222.0h2.4M135.4 205.8h2.4M130.2 218.1h2.4M133.8 197.4h2.4M137.3 218.5h2.4M135.0 207.8h2.4M128.8 219.5h2.4M137.1 230.9h2.4M136.5 220.1h2.4M130.7 228.1h2.4M131.5 213.5h2.4M136.9 217.0h2.4M128.7 212.6h2.4M135.3 230.2h2.4M136.3 202.7h2.4M141.9 205.3h2.4M141.5 189.3h2.4M142.2 226.9h2.4M143.2 231.1h2.4M146.5 200.0h2.4M184.0 217.9h2.4M183.9 207.1h2.4M180.1 210.4h2.4M177.7 209.5h2.4M183.3 208.3h2.4M176.6 230.1h2.4M178.2 211.1h2.4M185.7 226.1h2.4M176.5 203.8h2.4M179.7 193.1h2.4M187.8 220.1h2.4M176.9 209.7h2.4M183.7 204.6h2.4M183.9 201.5h2.4M178.1 211.6h2.4M180.0 220.4h2.4M182.7 224.0h2.4M186.3 207.2h2.4M184.2 220.0h2.4M180.2 211.4h2.4M185.9 209.1h2.4M189.4 215.0h2.4M181.0 243.5h2.4M234.6 224.1h2.4M235.4 230.0h2.4M236.1 216.8h2.4M235.4 208.5h2.4M235.8 209.5h2.4M229.2 208.8h2.4M235.9 219.2h2.4M235.1 209.9h2.4M230.2 206.4h2.4M235.5 234.9h2.4M230.1 220.9h2.4M234.6 220.5h2.4M235.3 213.4h2.4M235.8 212.0h2.4M233.7 209.9h2.4M233.4 222.8h2.4M235.5 218.4h2.4M231.5 225.1h2.4M235.4 212.9h2.4M241.0 209.0h2.4M241.0 184.0h2.4M251.9 219.6h2.4M251.7 232.3h2.4M251.4 228.5h2.4M253.2 197.0h2.4M251.7 214.0h2.4M251.7 215.3h2.4M252.7 216.6h2.4M252.6 219.7h2.4M254.6 227.2h2.4M252.0 229.3h2.4M285.4 207.4h2.4M283.3 202.7h2.4M285.0 213.8h2.4M282.6 233.6h2.4M282.5 225.0h2.4M282.7 216.5h2.4M285.3 194.8h2.4M286.3 213.7h2.4M280.9 215.2h2.4M285.2 223.5h2.4M282.3 201.2h2.4M285.4 214.1h2.4M285.8 208.2h2.4M284.6 227.7h2.4M284.8 204.1h2.4M280.7 228.7h2.4M280.6 197.3h2.4M286.2 236.0h2.4M287.8 221.7h2.4M282.6 220.2h2.4M285.5 223.4h2.4M282.3 206.8h2.4M288.0 218.7h2.4M285.3 226.3h2.4M279.3 212.5h2.4M282.2 204.8h2.4M282.7 225.0h2.4M282.3 198.0h2.4M282.3 217.9h2.4M279.8 213.0h2.4M282.7 222.9h2.4M279.6 206.6h2.4M286.3 244.2h2.4M284.9 200.8h2.4M286.4 235.4h2.4M282.3 211.9h2.4M281.9 217.8h2.4M282.6 229.0h2.4M284.0 230.4h2.4M287.6 216.3h2.4M282.5 220.8h2.4M281.1 235.3h2.4M282.1 213.4h2.4M283.9 224.1h2.4M290.1 222.0h2.4M291.8 223.7h2.4M291.8 218.9h2.4M289.2 192.7h2.4M292.6 202.7h2.4M291.8 201.6h2.4M291.6 232.9h2.4M288.2 192.7h2.4M288.7 210.2h2.4M355.0 205.3h2.4M355.8 217.7h2.4M351.5 221.7h2.4M354.4 227.7h2.4M350.4 198.4h2.4M354.7 234.0h2.4M351.1 199.0h2.4M352.7 218.9h2.4M355.6 208.2h2.4M362.8 208.1h2.4M363.6 219.2h2.4M365.7 181.0h2.4M365.6 197.6h2.4M362.6 214.2h2.4M363.5 216.8h2.4M365.7 221.2h2.4M363.6 205.7h2.4M365.5 220.5h2.4M365.5 227.5h2.4M365.1 220.7h2.4M429.0 220.1h2.4M424.0 217.1h2.4M424.8 218.8h2.4M424.0 219.9h2.4M420.9 221.2h2.4M424.8 234.7h2.4M426.6 200.8h2.4M427.1 199.5h2.4M427.2 228.3h2.4" stroke="#47aa43" stroke-width="1.1" stroke-opacity="0.8" fill="none"/>
<path d="M95.2 220.0h2.4M101.1 197.8h2.4M98.2 218.6h2.4M96.5 209.4h2.4M95.5 223.6h2.4M95.4 207.4h2.4M96.5 200.9h2.4M95.2 208.2h2.4M95.0 215.6h2.4M94.2 216.4h2.4M96.7 207.5h2.4M105.2 216.5h2.4M104.6 217.0h2.4M102.9 223.8h2.4M101.5 231.0h2.4M94.5 207.5h2.4M95.3 209.0h2.4M95.1 206.1h2.4M104.9 219.3h2.4M95.7 222.4h2.4M98.3 229.1h2.4M96.4 234.8h2.4M96.0 213.0h2.4M104.3 201.4h2.4M98.5 202.7h2.4M94.8 215.5h2.4M98.1 214.6h2.4M99.8 202.2h2.4M95.8 201.1h2.4M97.5 208.5h2.4M95.5 244.0h2.4M96.8 221.8h2.4M97.8 220.8h2.4M96.9 219.7h2.4M94.9 210.5h2.4M98.2 227.1h2.4M96.0 218.1h2.4M104.8 217.6h2.4M98.2 216.9h2.4M96.0 219.3h2.4M98.3 220.2h2.4M105.1 207.0h2.4M102.1 230.6h2.4M98.8 221.4h2.4M98.6 219.5h2.4M97.2 224.7h2.4M95.4 238.0h2.4M104.9 214.6h2.4M95.4 192.6h2.4M97.5 207.9h2.4M101.3 202.5h2.4M105.4 221.2h2.4M119.2 213.9h2.4M119.0 221.3h2.4M127.3 208.0h2.4M124.4 219.2h2.4M119.7 243.5h2.4M125.0 242.7h2.4M121.4 204.6h2.4M122.3 222.5h2.4M127.4 253.0h2.4M125.0 211.9h2.4M124.9 220.8h2.4M113.8 222.0h2.4M127.0 262.0h2.4M119.0 229.5h2.4M127.3 231.4h2.4M113.8 216.0h2.4M117.0 211.3h2.4M115.8 200.0h2.4M117.1 200.8h2.4M108.8 217.3h2.4M127.3 208.4h2.4M127.1 210.9h2.4M127.2 233.1h2.4M109.3 252.4h2.4M110.9 210.7h2.4M127.3 203.8h2.4M111.0 227.0h2.4M112.6 222.5h2.4M135.3 195.0h2.4M135.1 217.8h2.4M130.2 228.0h2.4M136.9 224.1h2.4M135.1 225.0h2.4M131.6 183.8h2.4M135.2 221.4h2.4M136.3 229.6h2.4M131.5 206.9h2.4M129.4 196.3h2.4M135.3 206.0h2.4M135.3 208.5h2.4M135.4 234.9h2.4M138.9 231.6h2.4M131.2 201.1h2.4M131.6 215.1h2.4M130.1 201.7h2.4M132.6 200.0h2.4M129.7 216.6h2.4M136.0 226.8h2.4M129.1 194.4h2.4M137.8 222.2h2.4M128.1 202.5h2.4M131.3 228.3h2.4M135.0 228.6h2.4M135.9 208.3h2.4M143.3 235.5h2.4M141.9 204.8h2.4M142.1 218.0h2.4M143.1 226.8h2.4M144.0 209.7h2.4M146.2 209.0h2.4M183.6 223.0h2.4M176.9 221.9h2.4M183.5 229.7h2.4M182.5 223.8h2.4M177.2 211.5h2.4M176.8 209.4h2.4M187.8 217.9h2.4M183.7 210.4h2.4M178.0 210.3h2.4M186.9 209.2h2.4M188.8 215.4h2.4M177.1 219.7h2.4M187.6 222.8h2.4M179.8 227.8h2.4M181.1 212.4h2.4M183.6 219.2h2.4M188.6 223.9h2.4M180.8 225.3h2.4M183.5 225.5h2.4M184.4 231.0h2.4M178.2 213.1h2.4M183.7 229.3h2.4M176.7 200.4h2.4M183.4 204.1h2.4M179.9 222.7h2.4M183.5 205.5h2.4M182.7 227.2h2.4M180.0 217.8h2.4M189.1 225.4h2.4M182.5 213.5h2.4M185.0 192.5h2.4M176.0 227.0h2.4M175.0 234.0h2.4M182.0 237.0h2.4M231.8 197.7h2.4M231.3 249.1h2.4M235.8 231.0h2.4M231.1 181.0h2.4M230.5 200.9h2.4M233.8 229.7h2.4M236.4 217.6h2.4M235.6 216.9h2.4M235.6 220.8h2.4M234.9 224.2h2.4M236.4 214.5h2.4M235.7 229.2h2.4M232.6 223.9h2.4M235.5 216.8h2.4M230.8 238.3h2.4M233.1 232.1h2.4M229.4 209.3h2.4M236.5 229.7h2.4M236.3 226.4h2.4M235.4 219.0h2.4M231.8 232.4h2.4M233.7 222.6h2.4M229.1 218.8h2.4M235.8 206.8h2.4M241.2 226.6h2.4M251.8 212.9h2.4M253.0 225.4h2.4M253.4 217.3h2.4M251.5 207.0h2.4M254.4 212.4h2.4M251.6 219.8h2.4M253.0 216.6h2.4M251.3 211.5h2.4M252.0 206.1h2.4M251.6 210.8h2.4M287.6 204.4h2.4M287.9 224.3h2.4M281.5 228.4h2.4M286.6 203.8h2.4M283.4 214.2h2.4M282.8 226.5h2.4M282.7 215.7h2.4M286.2 206.9h2.4M282.1 198.4h2.4M285.2 221.7h2.4M279.5 221.8h2.4M282.4 217.0h2.4M280.5 224.7h2.4M282.8 213.4h2.4M286.0 212.7h2.4M279.3 216.6h2.4M282.0 213.1h2.4M283.5 202.9h2.4M286.7 213.9h2.4M286.1 213.0h2.4M283.0 219.1h2.4M285.2 219.9h2.4M285.2 210.0h2.4M285.3 213.8h2.4M286.2 211.6h2.4M279.9 233.4h2.4M282.6 215.8h2.4M287.2 206.9h2.4M286.2 211.2h2.4M282.4 221.6h2.4M281.4 218.6h2.4M279.6 217.0h2.4M285.2 217.2h2.4M279.6 224.2h2.4M279.2 225.2h2.4M286.5 232.9h2.4M282.2 204.1h2.4M281.5 221.5h2.4M285.9 207.6h2.4M282.6 223.0h2.4M286.0 233.9h2.4M281.8 202.1h2.4M282.2 203.0h2.4M282.2 210.1h2.4M285.6 220.7h2.4M287.8 227.8h2.4M286.9 202.1h2.4M282.4 210.5h2.4M285.8 208.2h2.4M285.1 227.6h2.4M292.4 219.4h2.4M288.1 189.0h2.4M288.3 219.2h2.4M291.7 226.2h2.4M288.7 203.3h2.4M288.6 247.1h2.4M289.7 216.7h2.4M288.2 226.5h2.4M288.6 203.1h2.4M291.9 231.5h2.4M292.3 224.4h2.4M291.9 203.5h2.4M354.1 197.8h2.4M355.3 208.4h2.4M352.9 215.2h2.4M355.2 217.8h2.4M352.2 222.7h2.4M354.2 214.1h2.4M352.8 205.3h2.4M354.7 228.8h2.4M354.7 224.5h2.4M354.9 212.8h2.4M350.3 223.6h2.4M363.0 212.0h2.4M365.7 219.3h2.4M365.0 224.4h2.4M362.6 225.9h2.4M363.9 241.6h2.4M364.9 202.6h2.4M365.5 230.8h2.4M365.4 181.0h2.4M363.0 242.2h2.4M364.9 209.6h2.4M364.0 249.0h2.4M365.0 260.0h2.4M429.7 224.4h2.4M428.7 202.8h2.4M426.9 213.6h2.4M422.5 240.7h2.4M420.9 218.8h2.4M428.3 205.5h2.4M421.6 224.7h2.4M426.8 200.9h2.4M424.8 240.6h2.4M428.7 208.5h2.4M423.2 214.0h2.4M428.6 225.1h2.4M429.9 224.2h2.4M420.0 221.3h2.4M421.6 235.3h2.4M428.3 234.2h2.4M426.6 223.1h2.4M425.0 200.1h2.4M419.0 244.0h2.4" stroke="#47aa43" stroke-width="1.1" stroke-opacity="0.8" fill="none"/>
<path d="M96.3 203.1h2.4M95.7 229.3h2.4M102.4 208.5h2.4M95.4 212.1h2.4M99.4 227.0h2.4M103.9 202.6h2.4M96.1 205.8h2.4M97.7 208.4h2.4M98.1 212.9h2.4M105.7 221.9h2.4M95.0 223.8h2.4M98.3 206.1h2.4M98.4 225.8h2.4M97.8 214.1h2.4M99.3 209.9h2.4M95.3 236.1h2.4M98.9 226.9h2.4M103.9 247.4h2.4M97.9 208.6h2.4M98.4 219.1h2.4M105.6 223.6h2.4M100.6 228.8h2.4M95.2 221.8h2.4M105.5 204.7h2.4M104.0 233.8h2.4M96.3 210.4h2.4M104.9 230.4h2.4M96.4 215.2h2.4M98.0 202.3h2.4M95.2 230.3h2.4M97.9 245.1h2.4M98.8 200.2h2.4M98.0 220.8h2.4M94.4 229.7h2.4M96.0 218.7h2.4M96.8 202.8h2.4M98.6 211.0h2.4M95.2 206.2h2.4M96.1 216.1h2.4M95.3 237.6h2.4M98.0 221.4h2.4M102.4 219.3h2.4M95.1 219.6h2.4M96.4 205.4h2.4M104.9 222.5h2.4M95.0 219.3h2.4M94.9 225.0h2.4M98.9 229.8h2.4M105.1 200.8h2.4M100.5 223.0h2.4M103.7 208.6h2.4M97.9 210.3h2.4M96.8 199.7h2.4M95.2 213.2h2.4M95.7 220.1h2.4M96.9 199.9h2.4M95.3 224.6h2.4M95.2 219.2h2.4M98.2 223.0h2.4M100.4 213.0h2.4M124.7 219.0h2.4M127.5 192.2h2.4M114.2 239.9h2.4M114.7 226.8h2.4M127.3 213.7h2.4M123.9 202.1h2.4M110.2 217.2h2.4M124.3 204.3h2.4M107.9 205.0h2.4M127.5 207.8h2.4M106.2 220.3h2.4M124.8 226.8h2.4M107.0 210.0h2.4M113.2 233.6h2.4M115.2 211.1h2.4M125.1 213.2h2.4M121.8 244.2h2.4M123.9 224.0h2.4M127.3 220.7h2.4M124.6 218.9h2.4M112.0 226.7h2.4M127.4 237.6h2.4M110.9 208.0h2.4M124.2 220.7h2.4M127.8 213.7h2.4M109.4 216.2h2.4M118.2 235.1h2.4M133.5 221.2h2.4M137.4 208.4h2.4M137.5 228.7h2.4M128.3 218.9h2.4M133.1 228.2h2.4M139.3 219.7h2.4M133.8 225.4h2.4M133.6 239.3h2.4M137.2 214.4h2.4M135.7 216.5h2.4M137.6 221.8h2.4M128.7 224.6h2.4M132.0 226.3h2.4M130.8 211.1h2.4M134.9 220.7h2.4M138.2 203.3h2.4M131.2 250.5h2.4M137.7 231.4h2.4M130.1 222.8h2.4M130.3 217.4h2.4M135.3 227.9h2.4M133.8 204.0h2.4M131.6 202.0h2.4M135.1 220.2h2.4M137.3 205.4h2.4M133.4 211.1h2.4M137.7 217.6h2.4M131.1 212.4h2.4M135.0 213.6h2.4M138.7 217.5h2.4M132.7 193.7h2.4M131.2 243.6h2.4M136.7 231.0h2.4M145.3 232.4h2.4M142.8 212.9h2.4M145.3 220.8h2.4M143.6 209.4h2.4M143.2 225.1h2.4M147.0 204.0h2.4M146.8 224.0h2.4M189.1 217.3h2.4M177.3 215.2h2.4M182.2 226.5h2.4M186.8 216.5h2.4M183.8 208.5h2.4M183.9 215.9h2.4M176.5 222.2h2.4M184.2 202.1h2.4M177.1 204.8h2.4M183.9 213.2h2.4M183.3 222.6h2.4M176.5 201.3h2.4M183.6 218.2h2.4M176.7 217.1h2.4M183.9 207.3h2.4M181.0 206.2h2.4M178.0 218.7h2.4M177.3 222.7h2.4M180.0 183.5h2.4M181.0 232.0h2.4M184.0 243.5h2.4M235.7 228.2h2.4M236.3 235.3h2.4M235.4 196.5h2.4M235.5 217.8h2.4M234.8 227.0h2.4M236.5 232.6h2.4M229.5 210.5h2.4M231.0 228.7h2.4M235.8 216.6h2.4M229.5 218.5h2.4M234.6 219.6h2.4M235.1 213.2h2.4M234.0 256.4h2.4M235.3 252.3h2.4M231.9 221.1h2.4M229.5 201.6h2.4M236.0 236.7h2.4M233.9 201.3h2.4M231.5 221.6h2.4M230.6 217.7h2.4M235.8 240.4h2.4M231.1 207.7h2.4M235.8 236.7h2.4M235.5 224.3h2.4M236.4 205.3h2.4M229.9 224.9h2.4M230.2 220.5h2.4M240.2 227.8h2.4M240.3 208.7h2.4M240.8 195.0h2.4M251.6 222.5h2.4M251.3 229.1h2.4M253.1 222.7h2.4M251.7 231.1h2.4M253.2 224.9h2.4M252.1 227.8h2.4M253.0 211.0h2.4M253.2 215.1h2.4M254.3 212.4h2.4M253.7 225.4h2.4M286.5 217.8h2.4M285.6 211.9h2.4M281.9 207.2h2.4M285.3 206.3h2.4M282.0 216.1h2.4M285.4 226.9h2.4M281.3 201.3h2.4M282.2 205.4h2.4M282.1 235.1h2.4M285.1 218.5h2.4M280.4 222.8h2.4M284.2 220.7h2.4M287.5 228.1h2.4M282.4 200.5h2.4M285.3 214.3h2.4M282.4 202.0h2.4M281.5 214.7h2.4M280.3 219.3h2.4M282.1 229.5h2.4M281.9 216.0h2.4M279.2 197.1h2.4M284.6 219.3h2.4M282.3 214.9h2.4M283.1 201.5h2.4M283.2 233.3h2.4M282.7 219.7h2.4M282.7 196.2h2.4M282.4 202.4h2.4M286.5 200.6h2.4M280.2 230.0h2.4M286.4 210.5h2.4M285.2 217.4h2.4M282.7 206.7h2.4M282.3 243.3h2.4M282.8 206.2h2.4M279.2 218.7h2.4M282.1 216.9h2.4M279.0 235.9h2.4M280.8 235.8h2.4M281.2 229.7h2.4M282.8 210.3h2.4M288.0 228.6h2.4M289.7 213.4h2.4M288.7 209.3h2.4M292.2 212.6h2.4M290.0 219.8h2.4M289.0 199.3h2.4M289.7 202.4h2.4M291.6 218.1h2.4M290.0 216.4h2.4M355.2 222.2h2.4M351.4 226.1h2.4M352.7 215.3h2.4M356.8 197.2h2.4M353.8 204.0h2.4M355.7 206.2h2.4M365.4 219.4h2.4M365.4 205.0h2.4M364.7 245.2h2.4M363.2 227.8h2.4M365.0 218.3h2.4M365.0 228.8h2.4M364.7 209.5h2.4M365.0 213.7h2.4M363.8 206.4h2.4M364.0 186.5h2.4M420.7 217.9h2.4M424.2 213.7h2.4M420.9 216.7h2.4M426.9 223.6h2.4M426.5 221.6h2.4M427.3 215.3h2.4M427.8 208.9h2.4M426.5 220.0h2.4M425.7 218.0h2.4M421.3 204.9h2.4M428.9 217.3h2.4M425.0 214.8h2.4M422.2 219.7h2.4M424.7 218.5h2.4M427.0 222.0h2.4M421.0 195.0h2.4" stroke="#47aa43" stroke-width="1.1" stroke-opacity="0.8" fill="none"/>
<path d="M132.5 216.0h2.4M132.8 220.0h2.4M133.0 224.0h2.4M132.6 227.0h2.4M93.8 208.0h2.4M285.5 210.0h2.4M285.5 228.0h2.4" stroke="#4a6fc4" stroke-width="1.1" stroke-opacity="0.8" fill="none"/>
</g>
<path d="M52.4 10.8H61.6V136H52.4M52.4 42.1H61.6M52.4 73.4H61.6M52.4 104.7H61.6" stroke="#4d4d4d" stroke-width="1.3" fill="none"/>
<path d="M51.6 163H60.8V270.5H51.6M51.6 216.8H60.8" stroke="#4d4d4d" stroke-width="1.3" fill="none"/>
<text x="49.6" y="13.0" font-size="9.8" text-anchor="end" fill="#1a1a1a" >2</text>
<text x="49.6" y="44.300000000000004" font-size="9.8" text-anchor="end" fill="#1a1a1a" textLength="11.8" lengthAdjust="spacingAndGlyphs">1.5</text>
<text x="49.6" y="75.60000000000001" font-size="9.8" text-anchor="end" fill="#1a1a1a" >1</text>
<text x="49.6" y="106.9" font-size="9.8" text-anchor="end" fill="#1a1a1a" textLength="11.8" lengthAdjust="spacingAndGlyphs">0.5</text>
<text x="49.6" y="138.2" font-size="9.8" text-anchor="end" fill="#1a1a1a" >0</text>
<text x="47.9" y="165.3" font-size="9.8" text-anchor="end" fill="#1a1a1a" >1</text>
<text x="47.9" y="219.10000000000002" font-size="9.8" text-anchor="end" fill="#1a1a1a" textLength="11.8" lengthAdjust="spacingAndGlyphs">0.5</text>
<text x="47.9" y="272.8" font-size="9.8" text-anchor="end" fill="#1a1a1a" >0</text>
<text transform="translate(31.3 68.2) rotate(-90)" font-size="10" text-anchor="middle" fill="#1a1a1a" textLength="41" lengthAdjust="spacingAndGlyphs">DOC ratio</text>
<text transform="translate(31.2 215) rotate(-90)" font-size="10" text-anchor="middle" fill="#1a1a1a" textLength="73.7" lengthAdjust="spacingAndGlyphs">B allele frequency</text>
<text x="0.0" y="16.2" font-size="12.5" text-anchor="start" fill="#000" font-weight="bold" textLength="8.2" lengthAdjust="spacingAndGlyphs">A</text>
<text x="0.2" y="166.6" font-size="12.5" text-anchor="start" fill="#000" font-weight="bold" textLength="7.8" lengthAdjust="spacingAndGlyphs">B</text>
<text x="0.3" y="309.4" font-size="12.5" text-anchor="start" fill="#000" font-weight="bold" textLength="8.1" lengthAdjust="spacingAndGlyphs">C</text>
<text x="0.3" y="458.8" font-size="12.5" text-anchor="start" fill="#000" font-weight="bold" textLength="9.0" lengthAdjust="spacingAndGlyphs">D</text>
<text x="0.5" y="551" font-size="12.5" text-anchor="start" fill="#000" font-weight="bold" textLength="6.7" lengthAdjust="spacingAndGlyphs">E</text>
<rect x="64.8" y="340.5" width="28.6" height="28.2" fill="#f26b68" stroke="#1c1c1c" stroke-width="1"/>
<rect x="93.4" y="340.5" width="58.3" height="28.2" fill="#61be78" stroke="#1c1c1c" stroke-width="1"/>
<rect x="151.7" y="340.5" width="15.6" height="28.2" fill="#f26b68" stroke="#1c1c1c" stroke-width="1"/>
<rect x="167.3" y="340.5" width="23.8" height="28.2" fill="#61be78" stroke="#1c1c1c" stroke-width="1"/>
<rect x="191.1" y="340.5" width="39.2" height="28.2" fill="#f26b68" stroke="#1c1c1c" stroke-width="1"/>
<rect x="230.3" y="340.5" width="24.4" height="28.2" fill="#61be78" stroke="#1c1c1c" stroke-width="1"/>
<rect x="254.7" y="340.5" width="22.7" height="28.2" fill="#f26b68" stroke="#1c1c1c" stroke-width="1"/>
<rect x="277.4" y="340.5" width="16.0" height="28.2" fill="#61be78" stroke="#1c1c1c" stroke-width="1"/>
<rect x="293.4" y="340.5" width="53.5" height="28.2" fill="#f26b68" stroke="#1c1c1c" stroke-width="1"/>
<rect x="346.9" y="340.5" width="19.0" height="28.2" fill="#61be78" stroke="#1c1c1c" stroke-width="1"/>
<rect x="365.9" y="340.5" width="51.4" height="28.2" fill="#f26b68" stroke="#1c1c1c" stroke-width="1"/>
<rect x="417.3" y="340.5" width="14.4" height="28.2" fill="#61be78" stroke="#1c1c1c" stroke-width="1"/>
<rect x="431.7" y="340.5" width="82.1" height="28.2" fill="#f26b68" stroke="#1c1c1c" stroke-width="1"/>
<text x="79.1" y="358.9" font-size="10.8" text-anchor="middle" fill="#111" >A</text>
<text x="122.5" y="358.9" font-size="10.8" text-anchor="middle" fill="#111" >B</text>
<text x="159.5" y="358.9" font-size="10.8" text-anchor="middle" fill="#111" >C</text>
<text x="179.2" y="358.9" font-size="10.8" text-anchor="middle" fill="#111" >D</text>
<text x="210.7" y="358.9" font-size="10.8" text-anchor="middle" fill="#111" >E</text>
<text x="242.5" y="358.9" font-size="10.8" text-anchor="middle" fill="#111" >F</text>
<text x="266.0" y="358.9" font-size="10.8" text-anchor="middle" fill="#111" >G</text>
<text x="285.4" y="358.9" font-size="10.8" text-anchor="middle" fill="#111" >H</text>
<text x="320.1" y="358.9" font-size="10.8" text-anchor="middle" fill="#111" >I</text>
<text x="356.4" y="358.9" font-size="10.8" text-anchor="middle" fill="#111" >J</text>
<text x="391.6" y="358.9" font-size="10.8" text-anchor="middle" fill="#111" >K</text>
<text x="424.5" y="358.9" font-size="10.8" text-anchor="middle" fill="#111" >L</text>
<text x="472.8" y="358.9" font-size="10.8" text-anchor="middle" fill="#111" >M</text>
<path d="M151.7 340.3C151.7 320.0 163.5 311.3 191.0 311.3C218.5 311.3 230.3 320.0 230.3 340.3M167.3 340.3C167.3 326.3 183.8 320.3 222.3 320.3C260.9 320.3 277.4 326.3 277.4 340.3M191.1 340.3C191.1 313.2 225.0 301.6 304.2 301.6C383.4 301.6 417.3 313.2 417.3 340.3M254.7 340.3C254.7 320.4 271.4 311.8 310.3 311.8C349.2 311.8 365.9 320.4 365.9 340.3M293.4 340.3C293.4 324.6 301.4 317.8 320.1 317.8C338.9 317.8 346.9 324.6 346.9 340.3" stroke="#000" stroke-width="2.2" fill="none"/>
<rect x="500.2" y="299.6" width="13.6" height="12.8" fill="#61be78" stroke="#1c1c1c" stroke-width="1"/>
<rect x="500.2" y="318.9" width="13.6" height="12.8" fill="#f26b68" stroke="#1c1c1c" stroke-width="1"/>
<text x="497" y="309.6" font-size="11" text-anchor="end" fill="#111" textLength="41" lengthAdjust="spacingAndGlyphs">2 copies</text>
<text x="497" y="329.4" font-size="11" text-anchor="end" fill="#111" textLength="33" lengthAdjust="spacingAndGlyphs">1 copy</text>
<rect x="89.1" y="370.5" width="9" height="43" fill="#fff"/>
<text transform="translate(97.3 372) rotate(-90)" font-size="10.3" text-anchor="end" fill="#111" textLength="40" lengthAdjust="spacingAndGlyphs">8,149,897</text>
<rect x="146.9" y="370.5" width="9" height="47.4" fill="#fff"/>
<text transform="translate(155.1 372) rotate(-90)" font-size="10.3" text-anchor="end" fill="#111" textLength="44.4" lengthAdjust="spacingAndGlyphs">23,390,024</text>
<rect x="162.9" y="370.5" width="9" height="47.4" fill="#fff"/>
<text transform="translate(171.1 372) rotate(-90)" font-size="10.3" text-anchor="end" fill="#111" textLength="44.4" lengthAdjust="spacingAndGlyphs">28,575,572</text>
<rect x="186.9" y="370.5" width="9" height="47.4" fill="#fff"/>
<text transform="translate(195.1 372) rotate(-90)" font-size="10.3" text-anchor="end" fill="#111" textLength="44.4" lengthAdjust="spacingAndGlyphs">36,677,007</text>
<rect x="225.8" y="370.5" width="9" height="47.4" fill="#fff"/>
<text transform="translate(234.0 372) rotate(-90)" font-size="10.3" text-anchor="end" fill="#111" textLength="44.4" lengthAdjust="spacingAndGlyphs">50,093,818</text>
<rect x="250.1" y="370.5" width="9" height="47.4" fill="#fff"/>
<text transform="translate(258.3 372) rotate(-90)" font-size="10.3" text-anchor="end" fill="#111" textLength="44.4" lengthAdjust="spacingAndGlyphs">56,040,991</text>
<rect x="273.1" y="370.5" width="9" height="47.4" fill="#fff"/>
<text transform="translate(281.3 372) rotate(-90)" font-size="10.3" text-anchor="end" fill="#111" textLength="44.4" lengthAdjust="spacingAndGlyphs">63,355,723</text>
<rect x="289.1" y="370.5" width="9" height="47.4" fill="#fff"/>
<text transform="translate(297.3 372) rotate(-90)" font-size="10.3" text-anchor="end" fill="#111" textLength="44.4" lengthAdjust="spacingAndGlyphs">67,833,938</text>
<rect x="342.9" y="370.5" width="9" height="47.4" fill="#fff"/>
<text transform="translate(351.09999999999997 372) rotate(-90)" font-size="10.3" text-anchor="end" fill="#111" textLength="44.4" lengthAdjust="spacingAndGlyphs">85,162,609</text>
<rect x="361.7" y="370.5" width="9" height="47.4" fill="#fff"/>
<text transform="translate(369.9 372) rotate(-90)" font-size="10.3" text-anchor="end" fill="#111" textLength="44.4" lengthAdjust="spacingAndGlyphs">91,895,856</text>
<rect x="413.1" y="370.5" width="9" height="52.6" fill="#fff"/>
<text transform="translate(421.3 372) rotate(-90)" font-size="10.3" text-anchor="end" fill="#111" textLength="49.6" lengthAdjust="spacingAndGlyphs">105,797,381</text>
<rect x="427.5" y="370.5" width="9" height="52.6" fill="#fff"/>
<text transform="translate(435.7 372) rotate(-90)" font-size="10.3" text-anchor="end" fill="#111" textLength="49.6" lengthAdjust="spacingAndGlyphs">109,294,342</text>
<rect x="93.4" y="475.4" width="58.3" height="28.6" fill="#61be78" stroke="#1c1c1c" stroke-width="1"/>
<rect x="167.3" y="475.4" width="23.8" height="28.6" fill="#61be78" stroke="#1c1c1c" stroke-width="1"/>
<rect x="230.3" y="475.4" width="24.4" height="28.6" fill="#61be78" stroke="#1c1c1c" stroke-width="1"/>
<rect x="277.4" y="475.4" width="16.0" height="28.6" fill="#61be78" stroke="#1c1c1c" stroke-width="1"/>
<rect x="346.9" y="475.4" width="19.0" height="28.6" fill="#61be78" stroke="#1c1c1c" stroke-width="1"/>
<rect x="417.3" y="475.4" width="14.4" height="28.6" fill="#61be78" stroke="#1c1c1c" stroke-width="1"/>
<text x="122.5" y="494.0" font-size="10.8" text-anchor="middle" fill="#111" >B</text>
<text x="179.2" y="494.0" font-size="10.8" text-anchor="middle" fill="#111" >D</text>
<text x="242.5" y="494.0" font-size="10.8" text-anchor="middle" fill="#111" >F</text>
<text x="285.4" y="494.0" font-size="10.8" text-anchor="middle" fill="#111" >H</text>
<text x="356.4" y="494.0" font-size="10.8" text-anchor="middle" fill="#111" >J</text>
<text x="424.5" y="494.0" font-size="10.8" text-anchor="middle" fill="#111" >L</text>
<path d="M151.7 475.4C151.7 455.1 163.5 446.4 191.0 446.4C218.5 446.4 230.3 455.1 230.3 475.4M167.3 475.4C167.3 461.4 183.8 455.4 222.3 455.4C260.9 455.4 277.4 461.4 277.4 475.4M191.1 475.4C191.1 448.3 225.0 436.7 304.2 436.7C383.4 436.7 417.3 448.3 417.3 475.4M254.7 475.4C254.7 455.4 271.4 446.9 310.3 446.9C349.2 446.9 365.9 455.4 365.9 475.4M293.4 475.4C293.4 459.6 301.4 452.9 320.1 452.9C338.9 452.9 346.9 459.6 346.9 475.4" stroke="#000" stroke-width="2.2" fill="none"/>
<rect x="197.5" y="534.3" width="57.8" height="28.2" fill="#61be78" stroke="#1c1c1c" stroke-width="1"/>
<rect x="255.3" y="534.3" width="24.7" height="28.2" fill="#61be78" stroke="#1c1c1c" stroke-width="1"/>
<rect x="280.0" y="534.3" width="18.1" height="28.2" fill="#61be78" stroke="#1c1c1c" stroke-width="1"/>
<rect x="298.1" y="534.3" width="12.6" height="28.2" fill="#61be78" stroke="#1c1c1c" stroke-width="1"/>
<rect x="310.7" y="534.3" width="23.7" height="28.2" fill="#61be78" stroke="#1c1c1c" stroke-width="1"/>
<rect x="334.4" y="534.3" width="13.6" height="28.2" fill="#61be78" stroke="#1c1c1c" stroke-width="1"/>
<text x="226.4" y="551.9" font-size="10.3" text-anchor="middle" fill="#111" >B</text>
<text x="267.6" y="551.9" font-size="10.3" text-anchor="middle" fill="#111" >F</text>
<text x="289.1" y="551.9" font-size="10.3" text-anchor="middle" fill="#111" >J</text>
<text x="304.4" y="551.9" font-size="10.3" text-anchor="middle" fill="#111" >H</text>
<text x="322.5" y="551.9" font-size="10.3" text-anchor="middle" fill="#111" >D</text>
<text x="341.2" y="551.9" font-size="10.3" text-anchor="middle" fill="#111" >L</text>
<path d="M293.7 558.8H286" stroke="#000" stroke-width="1.3" fill="none"/><path d="M283 558.8l5.2 -2.2l-1.3 2.2l1.3 2.2z" fill="#000"/>
<path d="M309.1 558.8H301.4" stroke="#000" stroke-width="1.3" fill="none"/><path d="M298.4 558.8l5.2 -2.2l-1.3 2.2l1.3 2.2z" fill="#000"/>
<path d="M197.5 563.2L144.8 575.6M252 563.2L188.5 575.6M278 563.2L231 575.6M298.2 563.2L273.6 576M310.7 563.2L314.6 575.6M334.6 563.2L356.2 575.8M348.0 563.2L399.4 576" stroke="#858585" stroke-width="1.15" fill="none"/>
<text transform="translate(147.7 579.5) rotate(-90)" font-size="10.2" text-anchor="end" fill="#1a1a1a" font-style="italic" textLength="19.5" lengthAdjust="spacingAndGlyphs">RIC3</text>
<text transform="translate(184.8 580) rotate(-90)" font-size="10.2" text-anchor="end" fill="#1a1a1a" textLength="42" lengthAdjust="spacingAndGlyphs">intergenic</text>
<text transform="translate(194.3 580) rotate(-90)" font-size="10.2" text-anchor="end" fill="#1a1a1a" textLength="42" lengthAdjust="spacingAndGlyphs">intergenic</text>
<text transform="translate(231.6 580) rotate(-90)" font-size="10.2" text-anchor="end" fill="#1a1a1a" textLength="42" lengthAdjust="spacingAndGlyphs">intergenic</text>
<text transform="translate(241.2 580) rotate(-90)" font-size="10.2" text-anchor="end" fill="#1a1a1a" textLength="42" lengthAdjust="spacingAndGlyphs">intergenic</text>
<text transform="translate(271.4 580) rotate(-90)" font-size="10.2" text-anchor="end" fill="#1a1a1a" font-style="italic" textLength="22" lengthAdjust="spacingAndGlyphs">DLG2</text>
<text transform="translate(281.2 580) rotate(-90)" font-size="10.2" text-anchor="end" fill="#1a1a1a" font-style="italic" textLength="25.3" lengthAdjust="spacingAndGlyphs">CHKA</text>
<text transform="translate(317.4 580) rotate(-90)" font-size="10.2" text-anchor="end" fill="#1a1a1a" textLength="39" lengthAdjust="spacingAndGlyphs">PLA2G16</text>
<text transform="translate(327.0 580) rotate(-90)" font-size="10.2" text-anchor="end" fill="#1a1a1a" textLength="42" lengthAdjust="spacingAndGlyphs">intergenic</text>
<text transform="translate(358.2 580.2) rotate(-90)" font-size="10.2" text-anchor="end" fill="#1a1a1a" font-style="italic" textLength="37.8" lengthAdjust="spacingAndGlyphs">C11orf74</text>
<text transform="translate(368.6 580.2) rotate(-90)" font-size="10.2" text-anchor="end" fill="#1a1a1a" font-style="italic" textLength="26.4" lengthAdjust="spacingAndGlyphs">GRIA4</text>
<text transform="translate(407.0 580.2) rotate(-90)" font-size="10.2" text-anchor="end" fill="#1a1a1a" font-style="italic" textLength="38" lengthAdjust="spacingAndGlyphs">C11orf87</text>
</svg></body></html>
